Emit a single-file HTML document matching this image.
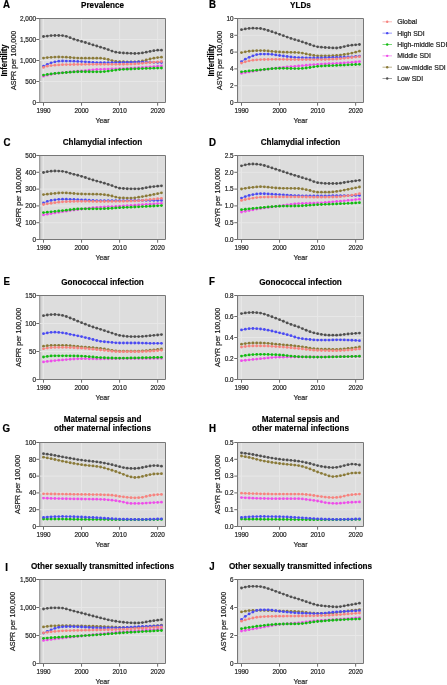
<!DOCTYPE html><html><head><meta charset="utf-8"><style>html,body{margin:0;padding:0;background:#fff;width:447px;height:685px;overflow:hidden}svg{display:block;filter:blur(0.3px)}text{font-family:"Liberation Sans",Arial,sans-serif}</style></head><body>
<svg width="447" height="685" viewBox="0 0 447 685">
<rect x="40" y="19" width="125" height="83" fill="#dddddd"/>
<rect x="39" y="19" width="1" height="83" fill="#9c9c9c"/>
<rect x="40" y="19" width="1" height="83" fill="#c0c0c0"/>
<rect x="41" y="19" width="1" height="83" fill="#d4d4d4"/>
<line x1="40" x2="165" y1="81.5" y2="81.5" stroke="#e7e7e7" stroke-width="1"/>
<line x1="40" x2="165" y1="60.5" y2="60.5" stroke="#e7e7e7" stroke-width="1"/>
<line x1="40" x2="165" y1="39.5" y2="39.5" stroke="#e7e7e7" stroke-width="1"/>
<line x1="43.5" x2="43.5" y1="19" y2="102" stroke="#e7e7e7" stroke-width="1"/>
<line x1="81.55" x2="81.55" y1="19" y2="102" stroke="#e7e7e7" stroke-width="1"/>
<line x1="119.6" x2="119.6" y1="19" y2="102" stroke="#e7e7e7" stroke-width="1"/>
<line x1="157.65" x2="157.65" y1="19" y2="102" stroke="#e7e7e7" stroke-width="1"/>
<path d="M43.5,36.5 L47.3,36.1 L51.11,35.6 L54.91,35.5 L58.72,35.5 L62.53,35.6 L66.33,36.3 L70.14,37.7 L73.94,39.2 L77.75,40.3 L81.55,41.4 L85.36,42.5 L89.16,43.7 L92.97,44.9 L96.77,46 L100.58,47.2 L104.38,48.3 L108.19,49.6 L111.99,51.1 L115.8,52.2 L119.6,52.7 L123.41,53 L127.21,53.2 L131.01,53.3 L134.82,53.5 L138.62,53.3 L142.43,52.9 L146.24,52.2 L150.04,51.4 L153.84,50.7 L157.65,50.2 L161.45,50.2" fill="none" stroke="#4f4f4f" stroke-width="0.6"/>
<g fill="#4f4f4f"><circle cx="43.5" cy="36.5" r="1.4"/><circle cx="47.3" cy="36.1" r="1.4"/><circle cx="51.11" cy="35.6" r="1.4"/><circle cx="54.91" cy="35.5" r="1.4"/><circle cx="58.72" cy="35.5" r="1.4"/><circle cx="62.53" cy="35.6" r="1.4"/><circle cx="66.33" cy="36.3" r="1.4"/><circle cx="70.14" cy="37.7" r="1.4"/><circle cx="73.94" cy="39.2" r="1.4"/><circle cx="77.75" cy="40.3" r="1.4"/><circle cx="81.55" cy="41.4" r="1.4"/><circle cx="85.36" cy="42.5" r="1.4"/><circle cx="89.16" cy="43.7" r="1.4"/><circle cx="92.97" cy="44.9" r="1.4"/><circle cx="96.77" cy="46" r="1.4"/><circle cx="100.58" cy="47.2" r="1.4"/><circle cx="104.38" cy="48.3" r="1.4"/><circle cx="108.19" cy="49.6" r="1.4"/><circle cx="111.99" cy="51.1" r="1.4"/><circle cx="115.8" cy="52.2" r="1.4"/><circle cx="119.6" cy="52.7" r="1.4"/><circle cx="123.41" cy="53" r="1.4"/><circle cx="127.21" cy="53.2" r="1.4"/><circle cx="131.01" cy="53.3" r="1.4"/><circle cx="134.82" cy="53.5" r="1.4"/><circle cx="138.62" cy="53.3" r="1.4"/><circle cx="142.43" cy="52.9" r="1.4"/><circle cx="146.24" cy="52.2" r="1.4"/><circle cx="150.04" cy="51.4" r="1.4"/><circle cx="153.84" cy="50.7" r="1.4"/><circle cx="157.65" cy="50.2" r="1.4"/><circle cx="161.45" cy="50.2" r="1.4"/></g>
<path d="M43.5,58.1 L47.3,57.62 L51.11,57.3 L54.91,57.1 L58.72,57 L62.53,57.06 L66.33,57.2 L70.14,57.48 L73.94,57.8 L77.75,58.06 L81.55,58.2 L85.36,58.2 L89.16,58.2 L92.97,58.2 L96.77,58.2 L100.58,58.2 L104.38,58.7 L108.19,59.5 L111.99,60.6 L115.8,61.3 L119.6,61.6 L123.41,61.74 L127.21,61.8 L131.01,61.8 L134.82,61.8 L138.62,61.7 L142.43,61 L146.24,60 L150.04,59 L153.84,58.2 L157.65,57.6 L161.45,57.2" fill="none" stroke="#8a7a38" stroke-width="0.6"/>
<g fill="#8a7a38"><circle cx="43.5" cy="58.1" r="1.4"/><circle cx="47.3" cy="57.62" r="1.4"/><circle cx="51.11" cy="57.3" r="1.4"/><circle cx="54.91" cy="57.1" r="1.4"/><circle cx="58.72" cy="57" r="1.4"/><circle cx="62.53" cy="57.06" r="1.4"/><circle cx="66.33" cy="57.2" r="1.4"/><circle cx="70.14" cy="57.48" r="1.4"/><circle cx="73.94" cy="57.8" r="1.4"/><circle cx="77.75" cy="58.06" r="1.4"/><circle cx="81.55" cy="58.2" r="1.4"/><circle cx="85.36" cy="58.2" r="1.4"/><circle cx="89.16" cy="58.2" r="1.4"/><circle cx="92.97" cy="58.2" r="1.4"/><circle cx="96.77" cy="58.2" r="1.4"/><circle cx="100.58" cy="58.2" r="1.4"/><circle cx="104.38" cy="58.7" r="1.4"/><circle cx="108.19" cy="59.5" r="1.4"/><circle cx="111.99" cy="60.6" r="1.4"/><circle cx="115.8" cy="61.3" r="1.4"/><circle cx="119.6" cy="61.6" r="1.4"/><circle cx="123.41" cy="61.74" r="1.4"/><circle cx="127.21" cy="61.8" r="1.4"/><circle cx="131.01" cy="61.8" r="1.4"/><circle cx="134.82" cy="61.8" r="1.4"/><circle cx="138.62" cy="61.7" r="1.4"/><circle cx="142.43" cy="61" r="1.4"/><circle cx="146.24" cy="60" r="1.4"/><circle cx="150.04" cy="59" r="1.4"/><circle cx="153.84" cy="58.2" r="1.4"/><circle cx="157.65" cy="57.6" r="1.4"/><circle cx="161.45" cy="57.2" r="1.4"/></g>
<path d="M43.5,76.2 L47.3,75.14 L51.11,74.3 L54.91,73.67 L58.72,73.15 L62.53,72.7 L66.33,72.29 L70.14,71.91 L73.94,71.57 L77.75,71.23 L81.55,70.9 L85.36,70.54 L89.16,70.18 L92.97,69.83 L96.77,69.52 L100.58,69.3 L104.38,69.15 L108.19,69.04 L111.99,68.94 L115.8,68.83 L119.6,68.7 L123.41,68.54 L127.21,68.35 L131.01,68.15 L134.82,67.93 L138.62,67.7 L142.43,67.45 L146.24,67.18 L150.04,66.89 L153.84,66.58 L157.65,66.25 L161.45,65.9" fill="none" stroke="#ee4dea" stroke-width="0.6"/>
<g fill="#ee4dea"><circle cx="43.5" cy="76.2" r="1.4"/><circle cx="47.3" cy="75.14" r="1.4"/><circle cx="51.11" cy="74.3" r="1.4"/><circle cx="54.91" cy="73.67" r="1.4"/><circle cx="58.72" cy="73.15" r="1.4"/><circle cx="62.53" cy="72.7" r="1.4"/><circle cx="66.33" cy="72.29" r="1.4"/><circle cx="70.14" cy="71.91" r="1.4"/><circle cx="73.94" cy="71.57" r="1.4"/><circle cx="77.75" cy="71.23" r="1.4"/><circle cx="81.55" cy="70.9" r="1.4"/><circle cx="85.36" cy="70.54" r="1.4"/><circle cx="89.16" cy="70.18" r="1.4"/><circle cx="92.97" cy="69.83" r="1.4"/><circle cx="96.77" cy="69.52" r="1.4"/><circle cx="100.58" cy="69.3" r="1.4"/><circle cx="104.38" cy="69.15" r="1.4"/><circle cx="108.19" cy="69.04" r="1.4"/><circle cx="111.99" cy="68.94" r="1.4"/><circle cx="115.8" cy="68.83" r="1.4"/><circle cx="119.6" cy="68.7" r="1.4"/><circle cx="123.41" cy="68.54" r="1.4"/><circle cx="127.21" cy="68.35" r="1.4"/><circle cx="131.01" cy="68.15" r="1.4"/><circle cx="134.82" cy="67.93" r="1.4"/><circle cx="138.62" cy="67.7" r="1.4"/><circle cx="142.43" cy="67.45" r="1.4"/><circle cx="146.24" cy="67.18" r="1.4"/><circle cx="150.04" cy="66.89" r="1.4"/><circle cx="153.84" cy="66.58" r="1.4"/><circle cx="157.65" cy="66.25" r="1.4"/><circle cx="161.45" cy="65.9" r="1.4"/></g>
<path d="M43.5,75.1 L47.3,74.44 L51.11,73.9 L54.91,73.47 L58.72,73.11 L62.53,72.8 L66.33,72.51 L70.14,72.21 L73.94,71.95 L77.75,71.77 L81.55,71.7 L85.36,71.73 L89.16,71.77 L92.97,71.8 L96.77,71.8 L100.58,71.8 L104.38,71.59 L108.19,71.11 L111.99,70.6 L115.8,70.06 L119.6,69.6 L123.41,69.35 L127.21,69.15 L131.01,68.98 L134.82,68.84 L138.62,68.7 L142.43,68.56 L146.24,68.43 L150.04,68.3 L153.84,68.19 L157.65,68.09 L161.45,68" fill="none" stroke="#12bb12" stroke-width="0.6"/>
<g fill="#12bb12"><circle cx="43.5" cy="75.1" r="1.4"/><circle cx="47.3" cy="74.44" r="1.4"/><circle cx="51.11" cy="73.9" r="1.4"/><circle cx="54.91" cy="73.47" r="1.4"/><circle cx="58.72" cy="73.11" r="1.4"/><circle cx="62.53" cy="72.8" r="1.4"/><circle cx="66.33" cy="72.51" r="1.4"/><circle cx="70.14" cy="72.21" r="1.4"/><circle cx="73.94" cy="71.95" r="1.4"/><circle cx="77.75" cy="71.77" r="1.4"/><circle cx="81.55" cy="71.7" r="1.4"/><circle cx="85.36" cy="71.73" r="1.4"/><circle cx="89.16" cy="71.77" r="1.4"/><circle cx="92.97" cy="71.8" r="1.4"/><circle cx="96.77" cy="71.8" r="1.4"/><circle cx="100.58" cy="71.8" r="1.4"/><circle cx="104.38" cy="71.59" r="1.4"/><circle cx="108.19" cy="71.11" r="1.4"/><circle cx="111.99" cy="70.6" r="1.4"/><circle cx="115.8" cy="70.06" r="1.4"/><circle cx="119.6" cy="69.6" r="1.4"/><circle cx="123.41" cy="69.35" r="1.4"/><circle cx="127.21" cy="69.15" r="1.4"/><circle cx="131.01" cy="68.98" r="1.4"/><circle cx="134.82" cy="68.84" r="1.4"/><circle cx="138.62" cy="68.7" r="1.4"/><circle cx="142.43" cy="68.56" r="1.4"/><circle cx="146.24" cy="68.43" r="1.4"/><circle cx="150.04" cy="68.3" r="1.4"/><circle cx="153.84" cy="68.19" r="1.4"/><circle cx="157.65" cy="68.09" r="1.4"/><circle cx="161.45" cy="68" r="1.4"/></g>
<path d="M43.5,66.2 L47.3,64.3 L51.11,62.8 L54.91,61.8 L58.72,61.2 L62.53,61 L66.33,61.03 L70.14,61.1 L73.94,61.22 L77.75,61.4 L81.55,61.6 L85.36,61.83 L89.16,62.12 L92.97,62.4 L96.77,62.62 L100.58,62.7 L104.38,62.69 L108.19,62.66 L111.99,62.61 L115.8,62.56 L119.6,62.5 L123.41,62.41 L127.21,62.28 L131.01,62.15 L134.82,62.04 L138.62,62 L142.43,62.03 L146.24,62.11 L150.04,62.2 L153.84,62.29 L157.65,62.39 L161.45,62.5" fill="none" stroke="#4a4af2" stroke-width="0.6"/>
<g fill="#4a4af2"><circle cx="43.5" cy="66.2" r="1.4"/><circle cx="47.3" cy="64.3" r="1.4"/><circle cx="51.11" cy="62.8" r="1.4"/><circle cx="54.91" cy="61.8" r="1.4"/><circle cx="58.72" cy="61.2" r="1.4"/><circle cx="62.53" cy="61" r="1.4"/><circle cx="66.33" cy="61.03" r="1.4"/><circle cx="70.14" cy="61.1" r="1.4"/><circle cx="73.94" cy="61.22" r="1.4"/><circle cx="77.75" cy="61.4" r="1.4"/><circle cx="81.55" cy="61.6" r="1.4"/><circle cx="85.36" cy="61.83" r="1.4"/><circle cx="89.16" cy="62.12" r="1.4"/><circle cx="92.97" cy="62.4" r="1.4"/><circle cx="96.77" cy="62.62" r="1.4"/><circle cx="100.58" cy="62.7" r="1.4"/><circle cx="104.38" cy="62.69" r="1.4"/><circle cx="108.19" cy="62.66" r="1.4"/><circle cx="111.99" cy="62.61" r="1.4"/><circle cx="115.8" cy="62.56" r="1.4"/><circle cx="119.6" cy="62.5" r="1.4"/><circle cx="123.41" cy="62.41" r="1.4"/><circle cx="127.21" cy="62.28" r="1.4"/><circle cx="131.01" cy="62.15" r="1.4"/><circle cx="134.82" cy="62.04" r="1.4"/><circle cx="138.62" cy="62" r="1.4"/><circle cx="142.43" cy="62.03" r="1.4"/><circle cx="146.24" cy="62.11" r="1.4"/><circle cx="150.04" cy="62.2" r="1.4"/><circle cx="153.84" cy="62.29" r="1.4"/><circle cx="157.65" cy="62.39" r="1.4"/><circle cx="161.45" cy="62.5" r="1.4"/></g>
<path d="M43.5,67.4 L47.3,66.2 L51.11,65.6 L54.91,65.2 L58.72,64.9 L62.53,64.7 L66.33,64.61 L70.14,64.53 L73.94,64.48 L77.75,64.43 L81.55,64.4 L85.36,64.37 L89.16,64.34 L92.97,64.32 L96.77,64.31 L100.58,64.3 L104.38,64.3 L108.19,64.3 L111.99,64.3 L115.8,64.3 L119.6,64.3 L123.41,64.27 L127.21,64.2 L131.01,64.1 L134.82,63.94 L138.62,63.7 L142.43,63.35 L146.24,62.91 L150.04,62.5 L153.84,62.15 L157.65,61.81 L161.45,61.5" fill="none" stroke="#f7837f" stroke-width="0.6"/>
<g fill="#f7837f"><circle cx="43.5" cy="67.4" r="1.4"/><circle cx="47.3" cy="66.2" r="1.4"/><circle cx="51.11" cy="65.6" r="1.4"/><circle cx="54.91" cy="65.2" r="1.4"/><circle cx="58.72" cy="64.9" r="1.4"/><circle cx="62.53" cy="64.7" r="1.4"/><circle cx="66.33" cy="64.61" r="1.4"/><circle cx="70.14" cy="64.53" r="1.4"/><circle cx="73.94" cy="64.48" r="1.4"/><circle cx="77.75" cy="64.43" r="1.4"/><circle cx="81.55" cy="64.4" r="1.4"/><circle cx="85.36" cy="64.37" r="1.4"/><circle cx="89.16" cy="64.34" r="1.4"/><circle cx="92.97" cy="64.32" r="1.4"/><circle cx="96.77" cy="64.31" r="1.4"/><circle cx="100.58" cy="64.3" r="1.4"/><circle cx="104.38" cy="64.3" r="1.4"/><circle cx="108.19" cy="64.3" r="1.4"/><circle cx="111.99" cy="64.3" r="1.4"/><circle cx="115.8" cy="64.3" r="1.4"/><circle cx="119.6" cy="64.3" r="1.4"/><circle cx="123.41" cy="64.27" r="1.4"/><circle cx="127.21" cy="64.2" r="1.4"/><circle cx="131.01" cy="64.1" r="1.4"/><circle cx="134.82" cy="63.94" r="1.4"/><circle cx="138.62" cy="63.7" r="1.4"/><circle cx="142.43" cy="63.35" r="1.4"/><circle cx="146.24" cy="62.91" r="1.4"/><circle cx="150.04" cy="62.5" r="1.4"/><circle cx="153.84" cy="62.15" r="1.4"/><circle cx="157.65" cy="61.81" r="1.4"/><circle cx="161.45" cy="61.5" r="1.4"/></g>
<path d="M39.5,102.5 L39.5,18.5" stroke="#9c9c9c" stroke-width="1" fill="none"/>
<path d="M39,18.5 L165.5,18.5 L165.5,102.5 L39,102.5" stroke="#777777" stroke-width="1" fill="none"/>
<line x1="36.3" x2="39" y1="102.5" y2="102.5" stroke="#6a6a6a" stroke-width="1"/>
<text transform="translate(36,104.83) scale(0.6400,0.6500)" font-size="10" stroke="#222" stroke-width="0.3" text-anchor="end" fill="#222">0</text>
<line x1="36.3" x2="39" y1="81.5" y2="81.5" stroke="#6a6a6a" stroke-width="1"/>
<text transform="translate(36,83.83) scale(0.6400,0.6500)" font-size="10" stroke="#222" stroke-width="0.3" text-anchor="end" fill="#222">500</text>
<line x1="36.3" x2="39" y1="60.5" y2="60.5" stroke="#6a6a6a" stroke-width="1"/>
<text transform="translate(36,62.83) scale(0.6400,0.6500)" font-size="10" stroke="#222" stroke-width="0.3" text-anchor="end" fill="#222">1,000</text>
<line x1="36.3" x2="39" y1="39.5" y2="39.5" stroke="#6a6a6a" stroke-width="1"/>
<text transform="translate(36,41.83) scale(0.6400,0.6500)" font-size="10" stroke="#222" stroke-width="0.3" text-anchor="end" fill="#222">1,500</text>
<line x1="36.3" x2="39" y1="18.5" y2="18.5" stroke="#6a6a6a" stroke-width="1"/>
<text transform="translate(36,20.83) scale(0.6400,0.6500)" font-size="10" stroke="#222" stroke-width="0.3" text-anchor="end" fill="#222">2,000</text>
<line x1="43.5" x2="43.5" y1="103" y2="105.7" stroke="#6a6a6a" stroke-width="1"/>
<text transform="translate(43.5,113) scale(0.6400,0.6500)" font-size="10" stroke="#222" stroke-width="0.3" text-anchor="middle" fill="#222">1990</text>
<line x1="81.55" x2="81.55" y1="103" y2="105.7" stroke="#6a6a6a" stroke-width="1"/>
<text transform="translate(81.55,113) scale(0.6400,0.6500)" font-size="10" stroke="#222" stroke-width="0.3" text-anchor="middle" fill="#222">2000</text>
<line x1="119.6" x2="119.6" y1="103" y2="105.7" stroke="#6a6a6a" stroke-width="1"/>
<text transform="translate(119.6,113) scale(0.6400,0.6500)" font-size="10" stroke="#222" stroke-width="0.3" text-anchor="middle" fill="#222">2010</text>
<line x1="157.65" x2="157.65" y1="103" y2="105.7" stroke="#6a6a6a" stroke-width="1"/>
<text transform="translate(157.65,113) scale(0.6400,0.6500)" font-size="10" stroke="#222" stroke-width="0.3" text-anchor="middle" fill="#222">2020</text>
<text transform="translate(102.5,123) scale(0.7000,0.6800)" font-size="10" stroke="#222" stroke-width="0.3" text-anchor="middle" fill="#222">Year</text>
<text transform="translate(102.5,8.1) scale(0.8150,0.8700)" font-size="10" font-weight="bold" stroke="#000" stroke-width="0.2" text-anchor="middle" fill="#000">Prevalence</text>
<text transform="translate(2.9,8) scale(0.9700,1.0400)" font-size="10" font-weight="bold" stroke="#000" stroke-width="0.2" fill="#000">A</text>
<text transform="translate(15.71,60.5) rotate(-90) scale(0.7100,0.7000)" font-size="10" stroke="#222" stroke-width="0.3" text-anchor="middle" fill="#222">ASPR per 100,000</text>
<text transform="translate(7,60.5) rotate(-90) scale(0.7600,0.8400)" font-size="10" font-weight="bold" stroke="#000" stroke-width="0.2" text-anchor="middle" fill="#000">Infertility</text>
<rect x="238" y="19" width="125" height="83" fill="#dddddd"/>
<rect x="238" y="19" width="1" height="83" fill="#d6d6d6"/>
<rect x="239" y="19" width="1" height="83" fill="#dfdfdf"/>
<rect x="240" y="19" width="1" height="83" fill="#dfdfdf"/>
<line x1="238" x2="363" y1="85.7" y2="85.7" stroke="#e7e7e7" stroke-width="1"/>
<line x1="238" x2="363" y1="68.9" y2="68.9" stroke="#e7e7e7" stroke-width="1"/>
<line x1="238" x2="363" y1="52.1" y2="52.1" stroke="#e7e7e7" stroke-width="1"/>
<line x1="238" x2="363" y1="35.3" y2="35.3" stroke="#e7e7e7" stroke-width="1"/>
<line x1="241.5" x2="241.5" y1="19" y2="102" stroke="#e7e7e7" stroke-width="1"/>
<line x1="279.55" x2="279.55" y1="19" y2="102" stroke="#e7e7e7" stroke-width="1"/>
<line x1="317.6" x2="317.6" y1="19" y2="102" stroke="#e7e7e7" stroke-width="1"/>
<line x1="355.65" x2="355.65" y1="19" y2="102" stroke="#e7e7e7" stroke-width="1"/>
<path d="M241.5,29.7 L245.31,28.92 L249.11,28.39 L252.91,28.2 L256.72,28.28 L260.52,28.5 L264.33,29.29 L268.13,30.5 L271.94,31.69 L275.75,32.98 L279.55,34.3 L283.36,35.67 L287.16,37.08 L290.97,38.4 L294.77,39.56 L298.57,40.7 L302.38,41.95 L306.19,43.25 L309.99,44.5 L313.8,45.83 L317.6,46.8 L321.4,47.21 L325.21,47.49 L329.01,47.7 L332.82,47.9 L336.62,48 L340.43,47.52 L344.24,46.53 L348.04,45.7 L351.85,45.2 L355.65,44.79 L359.45,44.5" fill="none" stroke="#4f4f4f" stroke-width="0.6"/>
<g fill="#4f4f4f"><circle cx="241.5" cy="29.7" r="1.4"/><circle cx="245.31" cy="28.92" r="1.4"/><circle cx="249.11" cy="28.39" r="1.4"/><circle cx="252.91" cy="28.2" r="1.4"/><circle cx="256.72" cy="28.28" r="1.4"/><circle cx="260.52" cy="28.5" r="1.4"/><circle cx="264.33" cy="29.29" r="1.4"/><circle cx="268.13" cy="30.5" r="1.4"/><circle cx="271.94" cy="31.69" r="1.4"/><circle cx="275.75" cy="32.98" r="1.4"/><circle cx="279.55" cy="34.3" r="1.4"/><circle cx="283.36" cy="35.67" r="1.4"/><circle cx="287.16" cy="37.08" r="1.4"/><circle cx="290.97" cy="38.4" r="1.4"/><circle cx="294.77" cy="39.56" r="1.4"/><circle cx="298.57" cy="40.7" r="1.4"/><circle cx="302.38" cy="41.95" r="1.4"/><circle cx="306.19" cy="43.25" r="1.4"/><circle cx="309.99" cy="44.5" r="1.4"/><circle cx="313.8" cy="45.83" r="1.4"/><circle cx="317.6" cy="46.8" r="1.4"/><circle cx="321.4" cy="47.21" r="1.4"/><circle cx="325.21" cy="47.49" r="1.4"/><circle cx="329.01" cy="47.7" r="1.4"/><circle cx="332.82" cy="47.9" r="1.4"/><circle cx="336.62" cy="48" r="1.4"/><circle cx="340.43" cy="47.52" r="1.4"/><circle cx="344.24" cy="46.53" r="1.4"/><circle cx="348.04" cy="45.7" r="1.4"/><circle cx="351.85" cy="45.2" r="1.4"/><circle cx="355.65" cy="44.79" r="1.4"/><circle cx="359.45" cy="44.5" r="1.4"/></g>
<path d="M241.5,52.6 L245.31,51.85 L249.11,51.26 L252.91,50.9 L256.72,50.69 L260.52,50.6 L264.33,50.72 L268.13,51.01 L271.94,51.39 L275.75,51.75 L279.55,52 L283.36,52.14 L287.16,52.23 L290.97,52.31 L294.77,52.43 L298.57,52.6 L302.38,53.11 L306.19,53.93 L309.99,54.7 L313.8,55.4 L317.6,55.8 L321.4,55.8 L325.21,55.8 L329.01,55.8 L332.82,55.71 L336.62,55.5 L340.43,55.11 L344.24,54.49 L348.04,53.8 L351.85,53.05 L355.65,52.17 L359.45,51.2" fill="none" stroke="#8a7a38" stroke-width="0.6"/>
<g fill="#8a7a38"><circle cx="241.5" cy="52.6" r="1.4"/><circle cx="245.31" cy="51.85" r="1.4"/><circle cx="249.11" cy="51.26" r="1.4"/><circle cx="252.91" cy="50.9" r="1.4"/><circle cx="256.72" cy="50.69" r="1.4"/><circle cx="260.52" cy="50.6" r="1.4"/><circle cx="264.33" cy="50.72" r="1.4"/><circle cx="268.13" cy="51.01" r="1.4"/><circle cx="271.94" cy="51.39" r="1.4"/><circle cx="275.75" cy="51.75" r="1.4"/><circle cx="279.55" cy="52" r="1.4"/><circle cx="283.36" cy="52.14" r="1.4"/><circle cx="287.16" cy="52.23" r="1.4"/><circle cx="290.97" cy="52.31" r="1.4"/><circle cx="294.77" cy="52.43" r="1.4"/><circle cx="298.57" cy="52.6" r="1.4"/><circle cx="302.38" cy="53.11" r="1.4"/><circle cx="306.19" cy="53.93" r="1.4"/><circle cx="309.99" cy="54.7" r="1.4"/><circle cx="313.8" cy="55.4" r="1.4"/><circle cx="317.6" cy="55.8" r="1.4"/><circle cx="321.4" cy="55.8" r="1.4"/><circle cx="325.21" cy="55.8" r="1.4"/><circle cx="329.01" cy="55.8" r="1.4"/><circle cx="332.82" cy="55.71" r="1.4"/><circle cx="336.62" cy="55.5" r="1.4"/><circle cx="340.43" cy="55.11" r="1.4"/><circle cx="344.24" cy="54.49" r="1.4"/><circle cx="348.04" cy="53.8" r="1.4"/><circle cx="351.85" cy="53.05" r="1.4"/><circle cx="355.65" cy="52.17" r="1.4"/><circle cx="359.45" cy="51.2" r="1.4"/></g>
<path d="M241.5,73.3 L245.31,72.59 L249.11,71.92 L252.91,71.28 L256.72,70.67 L260.52,70.1 L264.33,69.56 L268.13,69.05 L271.94,68.57 L275.75,68.12 L279.55,67.7 L283.36,67.32 L287.16,66.98 L290.97,66.65 L294.77,66.33 L298.57,66 L302.38,65.64 L306.19,65.27 L309.99,64.9 L313.8,64.57 L317.6,64.3 L321.4,64.09 L325.21,63.92 L329.01,63.76 L332.82,63.6 L336.62,63.4 L340.43,63.16 L344.24,62.9 L348.04,62.61 L351.85,62.29 L355.65,61.96 L359.45,61.6" fill="none" stroke="#ee4dea" stroke-width="0.6"/>
<g fill="#ee4dea"><circle cx="241.5" cy="73.3" r="1.4"/><circle cx="245.31" cy="72.59" r="1.4"/><circle cx="249.11" cy="71.92" r="1.4"/><circle cx="252.91" cy="71.28" r="1.4"/><circle cx="256.72" cy="70.67" r="1.4"/><circle cx="260.52" cy="70.1" r="1.4"/><circle cx="264.33" cy="69.56" r="1.4"/><circle cx="268.13" cy="69.05" r="1.4"/><circle cx="271.94" cy="68.57" r="1.4"/><circle cx="275.75" cy="68.12" r="1.4"/><circle cx="279.55" cy="67.7" r="1.4"/><circle cx="283.36" cy="67.32" r="1.4"/><circle cx="287.16" cy="66.98" r="1.4"/><circle cx="290.97" cy="66.65" r="1.4"/><circle cx="294.77" cy="66.33" r="1.4"/><circle cx="298.57" cy="66" r="1.4"/><circle cx="302.38" cy="65.64" r="1.4"/><circle cx="306.19" cy="65.27" r="1.4"/><circle cx="309.99" cy="64.9" r="1.4"/><circle cx="313.8" cy="64.57" r="1.4"/><circle cx="317.6" cy="64.3" r="1.4"/><circle cx="321.4" cy="64.09" r="1.4"/><circle cx="325.21" cy="63.92" r="1.4"/><circle cx="329.01" cy="63.76" r="1.4"/><circle cx="332.82" cy="63.6" r="1.4"/><circle cx="336.62" cy="63.4" r="1.4"/><circle cx="340.43" cy="63.16" r="1.4"/><circle cx="344.24" cy="62.9" r="1.4"/><circle cx="348.04" cy="62.61" r="1.4"/><circle cx="351.85" cy="62.29" r="1.4"/><circle cx="355.65" cy="61.96" r="1.4"/><circle cx="359.45" cy="61.6" r="1.4"/></g>
<path d="M241.5,71.8 L245.31,71.36 L249.11,70.94 L252.91,70.53 L256.72,70.16 L260.52,69.8 L264.33,69.42 L268.13,69.03 L271.94,68.66 L275.75,68.4 L279.55,68.3 L283.36,68.33 L287.16,68.41 L290.97,68.49 L294.77,68.57 L298.57,68.6 L302.38,68.42 L306.19,67.99 L309.99,67.5 L313.8,66.86 L317.6,66.3 L321.4,66.04 L325.21,65.85 L329.01,65.7 L332.82,65.56 L336.62,65.4 L340.43,65.22 L344.24,65.04 L348.04,64.85 L351.85,64.67 L355.65,64.48 L359.45,64.3" fill="none" stroke="#12bb12" stroke-width="0.6"/>
<g fill="#12bb12"><circle cx="241.5" cy="71.8" r="1.4"/><circle cx="245.31" cy="71.36" r="1.4"/><circle cx="249.11" cy="70.94" r="1.4"/><circle cx="252.91" cy="70.53" r="1.4"/><circle cx="256.72" cy="70.16" r="1.4"/><circle cx="260.52" cy="69.8" r="1.4"/><circle cx="264.33" cy="69.42" r="1.4"/><circle cx="268.13" cy="69.03" r="1.4"/><circle cx="271.94" cy="68.66" r="1.4"/><circle cx="275.75" cy="68.4" r="1.4"/><circle cx="279.55" cy="68.3" r="1.4"/><circle cx="283.36" cy="68.33" r="1.4"/><circle cx="287.16" cy="68.41" r="1.4"/><circle cx="290.97" cy="68.49" r="1.4"/><circle cx="294.77" cy="68.57" r="1.4"/><circle cx="298.57" cy="68.6" r="1.4"/><circle cx="302.38" cy="68.42" r="1.4"/><circle cx="306.19" cy="67.99" r="1.4"/><circle cx="309.99" cy="67.5" r="1.4"/><circle cx="313.8" cy="66.86" r="1.4"/><circle cx="317.6" cy="66.3" r="1.4"/><circle cx="321.4" cy="66.04" r="1.4"/><circle cx="325.21" cy="65.85" r="1.4"/><circle cx="329.01" cy="65.7" r="1.4"/><circle cx="332.82" cy="65.56" r="1.4"/><circle cx="336.62" cy="65.4" r="1.4"/><circle cx="340.43" cy="65.22" r="1.4"/><circle cx="344.24" cy="65.04" r="1.4"/><circle cx="348.04" cy="64.85" r="1.4"/><circle cx="351.85" cy="64.67" r="1.4"/><circle cx="355.65" cy="64.48" r="1.4"/><circle cx="359.45" cy="64.3" r="1.4"/></g>
<path d="M241.5,61.6 L245.31,59.17 L249.11,57.3 L252.91,55.82 L256.72,54.61 L260.52,54.1 L264.33,54.1 L268.13,54.1 L271.94,54.36 L275.75,54.94 L279.55,55.5 L283.36,55.99 L287.16,56.51 L290.97,57 L294.77,57.39 L298.57,57.6 L302.38,57.7 L306.19,57.78 L309.99,57.84 L313.8,57.89 L317.6,57.9 L321.4,57.85 L325.21,57.74 L329.01,57.59 L332.82,57.43 L336.62,57.3 L340.43,57.21 L344.24,57.12 L348.04,57 L351.85,56.79 L355.65,56.48 L359.45,56.1" fill="none" stroke="#4a4af2" stroke-width="0.6"/>
<g fill="#4a4af2"><circle cx="241.5" cy="61.6" r="1.4"/><circle cx="245.31" cy="59.17" r="1.4"/><circle cx="249.11" cy="57.3" r="1.4"/><circle cx="252.91" cy="55.82" r="1.4"/><circle cx="256.72" cy="54.61" r="1.4"/><circle cx="260.52" cy="54.1" r="1.4"/><circle cx="264.33" cy="54.1" r="1.4"/><circle cx="268.13" cy="54.1" r="1.4"/><circle cx="271.94" cy="54.36" r="1.4"/><circle cx="275.75" cy="54.94" r="1.4"/><circle cx="279.55" cy="55.5" r="1.4"/><circle cx="283.36" cy="55.99" r="1.4"/><circle cx="287.16" cy="56.51" r="1.4"/><circle cx="290.97" cy="57" r="1.4"/><circle cx="294.77" cy="57.39" r="1.4"/><circle cx="298.57" cy="57.6" r="1.4"/><circle cx="302.38" cy="57.7" r="1.4"/><circle cx="306.19" cy="57.78" r="1.4"/><circle cx="309.99" cy="57.84" r="1.4"/><circle cx="313.8" cy="57.89" r="1.4"/><circle cx="317.6" cy="57.9" r="1.4"/><circle cx="321.4" cy="57.85" r="1.4"/><circle cx="325.21" cy="57.74" r="1.4"/><circle cx="329.01" cy="57.59" r="1.4"/><circle cx="332.82" cy="57.43" r="1.4"/><circle cx="336.62" cy="57.3" r="1.4"/><circle cx="340.43" cy="57.21" r="1.4"/><circle cx="344.24" cy="57.12" r="1.4"/><circle cx="348.04" cy="57" r="1.4"/><circle cx="351.85" cy="56.79" r="1.4"/><circle cx="355.65" cy="56.48" r="1.4"/><circle cx="359.45" cy="56.1" r="1.4"/></g>
<path d="M241.5,63.1 L245.31,61.84 L249.11,60.84 L252.91,60.2 L256.72,59.82 L260.52,59.6 L264.33,59.5 L268.13,59.41 L271.94,59.35 L275.75,59.31 L279.55,59.3 L283.36,59.33 L287.16,59.41 L290.97,59.49 L294.77,59.57 L298.57,59.6 L302.38,59.6 L306.19,59.6 L309.99,59.6 L313.8,59.6 L317.6,59.6 L321.4,59.57 L325.21,59.48 L329.01,59.35 L332.82,59.18 L336.62,59 L340.43,58.72 L344.24,58.31 L348.04,57.9 L351.85,57.51 L355.65,57.11 L359.45,56.7" fill="none" stroke="#f7837f" stroke-width="0.6"/>
<g fill="#f7837f"><circle cx="241.5" cy="63.1" r="1.4"/><circle cx="245.31" cy="61.84" r="1.4"/><circle cx="249.11" cy="60.84" r="1.4"/><circle cx="252.91" cy="60.2" r="1.4"/><circle cx="256.72" cy="59.82" r="1.4"/><circle cx="260.52" cy="59.6" r="1.4"/><circle cx="264.33" cy="59.5" r="1.4"/><circle cx="268.13" cy="59.41" r="1.4"/><circle cx="271.94" cy="59.35" r="1.4"/><circle cx="275.75" cy="59.31" r="1.4"/><circle cx="279.55" cy="59.3" r="1.4"/><circle cx="283.36" cy="59.33" r="1.4"/><circle cx="287.16" cy="59.41" r="1.4"/><circle cx="290.97" cy="59.49" r="1.4"/><circle cx="294.77" cy="59.57" r="1.4"/><circle cx="298.57" cy="59.6" r="1.4"/><circle cx="302.38" cy="59.6" r="1.4"/><circle cx="306.19" cy="59.6" r="1.4"/><circle cx="309.99" cy="59.6" r="1.4"/><circle cx="313.8" cy="59.6" r="1.4"/><circle cx="317.6" cy="59.6" r="1.4"/><circle cx="321.4" cy="59.57" r="1.4"/><circle cx="325.21" cy="59.48" r="1.4"/><circle cx="329.01" cy="59.35" r="1.4"/><circle cx="332.82" cy="59.18" r="1.4"/><circle cx="336.62" cy="59" r="1.4"/><circle cx="340.43" cy="58.72" r="1.4"/><circle cx="344.24" cy="58.31" r="1.4"/><circle cx="348.04" cy="57.9" r="1.4"/><circle cx="351.85" cy="57.51" r="1.4"/><circle cx="355.65" cy="57.11" r="1.4"/><circle cx="359.45" cy="56.7" r="1.4"/></g>
<path d="M237.5,102.5 L237.5,18.5" stroke="#777777" stroke-width="1" fill="none"/>
<path d="M237,18.5 L363.5,18.5 L363.5,102.5 L237,102.5" stroke="#777777" stroke-width="1" fill="none"/>
<line x1="234.3" x2="237" y1="102.5" y2="102.5" stroke="#6a6a6a" stroke-width="1"/>
<text transform="translate(233.6,104.83) scale(0.6400,0.6500)" font-size="10" stroke="#222" stroke-width="0.3" text-anchor="end" fill="#222">0</text>
<line x1="234.3" x2="237" y1="85.7" y2="85.7" stroke="#6a6a6a" stroke-width="1"/>
<text transform="translate(233.6,88.03) scale(0.6400,0.6500)" font-size="10" stroke="#222" stroke-width="0.3" text-anchor="end" fill="#222">2</text>
<line x1="234.3" x2="237" y1="68.9" y2="68.9" stroke="#6a6a6a" stroke-width="1"/>
<text transform="translate(233.6,71.23) scale(0.6400,0.6500)" font-size="10" stroke="#222" stroke-width="0.3" text-anchor="end" fill="#222">4</text>
<line x1="234.3" x2="237" y1="52.1" y2="52.1" stroke="#6a6a6a" stroke-width="1"/>
<text transform="translate(233.6,54.43) scale(0.6400,0.6500)" font-size="10" stroke="#222" stroke-width="0.3" text-anchor="end" fill="#222">6</text>
<line x1="234.3" x2="237" y1="35.3" y2="35.3" stroke="#6a6a6a" stroke-width="1"/>
<text transform="translate(233.6,37.63) scale(0.6400,0.6500)" font-size="10" stroke="#222" stroke-width="0.3" text-anchor="end" fill="#222">8</text>
<line x1="234.3" x2="237" y1="18.5" y2="18.5" stroke="#6a6a6a" stroke-width="1"/>
<text transform="translate(233.6,20.83) scale(0.6400,0.6500)" font-size="10" stroke="#222" stroke-width="0.3" text-anchor="end" fill="#222">10</text>
<line x1="241.5" x2="241.5" y1="103" y2="105.7" stroke="#6a6a6a" stroke-width="1"/>
<text transform="translate(241.5,113) scale(0.6400,0.6500)" font-size="10" stroke="#222" stroke-width="0.3" text-anchor="middle" fill="#222">1990</text>
<line x1="279.55" x2="279.55" y1="103" y2="105.7" stroke="#6a6a6a" stroke-width="1"/>
<text transform="translate(279.55,113) scale(0.6400,0.6500)" font-size="10" stroke="#222" stroke-width="0.3" text-anchor="middle" fill="#222">2000</text>
<line x1="317.6" x2="317.6" y1="103" y2="105.7" stroke="#6a6a6a" stroke-width="1"/>
<text transform="translate(317.6,113) scale(0.6400,0.6500)" font-size="10" stroke="#222" stroke-width="0.3" text-anchor="middle" fill="#222">2010</text>
<line x1="355.65" x2="355.65" y1="103" y2="105.7" stroke="#6a6a6a" stroke-width="1"/>
<text transform="translate(355.65,113) scale(0.6400,0.6500)" font-size="10" stroke="#222" stroke-width="0.3" text-anchor="middle" fill="#222">2020</text>
<text transform="translate(300.5,123) scale(0.7000,0.6800)" font-size="10" stroke="#222" stroke-width="0.3" text-anchor="middle" fill="#222">Year</text>
<text transform="translate(300.5,8.1) scale(0.8150,0.8700)" font-size="10" font-weight="bold" stroke="#000" stroke-width="0.2" text-anchor="middle" fill="#000">YLDs</text>
<text transform="translate(209,7.9) scale(0.9700,1.0400)" font-size="10" font-weight="bold" stroke="#000" stroke-width="0.2" fill="#000">B</text>
<text transform="translate(222.01,60.5) rotate(-90) scale(0.7100,0.7000)" font-size="10" stroke="#222" stroke-width="0.3" text-anchor="middle" fill="#222">ASYR per 100,000</text>
<text transform="translate(213.8,60.5) rotate(-90) scale(0.7600,0.8400)" font-size="10" font-weight="bold" stroke="#000" stroke-width="0.2" text-anchor="middle" fill="#000">Infertility</text>
<rect x="40" y="156" width="125" height="83" fill="#dddddd"/>
<rect x="39" y="156" width="1" height="83" fill="#9c9c9c"/>
<rect x="40" y="156" width="1" height="83" fill="#c0c0c0"/>
<rect x="41" y="156" width="1" height="83" fill="#d4d4d4"/>
<line x1="40" x2="165" y1="222.7" y2="222.7" stroke="#e7e7e7" stroke-width="1"/>
<line x1="40" x2="165" y1="205.9" y2="205.9" stroke="#e7e7e7" stroke-width="1"/>
<line x1="40" x2="165" y1="189.1" y2="189.1" stroke="#e7e7e7" stroke-width="1"/>
<line x1="40" x2="165" y1="172.3" y2="172.3" stroke="#e7e7e7" stroke-width="1"/>
<line x1="43.5" x2="43.5" y1="156" y2="239" stroke="#e7e7e7" stroke-width="1"/>
<line x1="81.55" x2="81.55" y1="156" y2="239" stroke="#e7e7e7" stroke-width="1"/>
<line x1="119.6" x2="119.6" y1="156" y2="239" stroke="#e7e7e7" stroke-width="1"/>
<line x1="157.65" x2="157.65" y1="156" y2="239" stroke="#e7e7e7" stroke-width="1"/>
<path d="M43.5,172.5 L47.3,171.72 L51.11,171.19 L54.91,171 L58.72,171.08 L62.53,171.3 L66.33,172.12 L70.14,173.3 L73.94,174.28 L77.75,175.25 L81.55,176.3 L85.36,177.5 L89.16,178.78 L92.97,180 L96.77,181.06 L100.58,182.1 L104.38,183.22 L108.19,184.39 L111.99,185.6 L115.8,187.12 L119.6,188.2 L123.41,188.52 L127.21,188.73 L131.01,188.8 L134.82,188.8 L138.62,188.8 L142.43,188.44 L146.24,187.68 L150.04,187 L153.84,186.54 L157.65,186.14 L161.45,185.8" fill="none" stroke="#4f4f4f" stroke-width="0.6"/>
<g fill="#4f4f4f"><circle cx="43.5" cy="172.5" r="1.4"/><circle cx="47.3" cy="171.72" r="1.4"/><circle cx="51.11" cy="171.19" r="1.4"/><circle cx="54.91" cy="171" r="1.4"/><circle cx="58.72" cy="171.08" r="1.4"/><circle cx="62.53" cy="171.3" r="1.4"/><circle cx="66.33" cy="172.12" r="1.4"/><circle cx="70.14" cy="173.3" r="1.4"/><circle cx="73.94" cy="174.28" r="1.4"/><circle cx="77.75" cy="175.25" r="1.4"/><circle cx="81.55" cy="176.3" r="1.4"/><circle cx="85.36" cy="177.5" r="1.4"/><circle cx="89.16" cy="178.78" r="1.4"/><circle cx="92.97" cy="180" r="1.4"/><circle cx="96.77" cy="181.06" r="1.4"/><circle cx="100.58" cy="182.1" r="1.4"/><circle cx="104.38" cy="183.22" r="1.4"/><circle cx="108.19" cy="184.39" r="1.4"/><circle cx="111.99" cy="185.6" r="1.4"/><circle cx="115.8" cy="187.12" r="1.4"/><circle cx="119.6" cy="188.2" r="1.4"/><circle cx="123.41" cy="188.52" r="1.4"/><circle cx="127.21" cy="188.73" r="1.4"/><circle cx="131.01" cy="188.8" r="1.4"/><circle cx="134.82" cy="188.8" r="1.4"/><circle cx="138.62" cy="188.8" r="1.4"/><circle cx="142.43" cy="188.44" r="1.4"/><circle cx="146.24" cy="187.68" r="1.4"/><circle cx="150.04" cy="187" r="1.4"/><circle cx="153.84" cy="186.54" r="1.4"/><circle cx="157.65" cy="186.14" r="1.4"/><circle cx="161.45" cy="185.8" r="1.4"/></g>
<path d="M43.5,194.6 L47.3,194.16 L51.11,193.76 L54.91,193.4 L58.72,193.02 L62.53,192.8 L66.33,192.91 L70.14,193.18 L73.94,193.51 L77.75,193.81 L81.55,194 L85.36,194.07 L89.16,194.12 L92.97,194.16 L96.77,194.21 L100.58,194.3 L104.38,194.64 L108.19,195.27 L111.99,196 L115.8,197.03 L119.6,197.8 L123.41,197.96 L127.21,198.06 L131.01,198.1 L134.82,197.78 L138.62,197.2 L142.43,196.61 L146.24,195.92 L150.04,195.2 L153.84,194.45 L157.65,193.65 L161.45,192.8" fill="none" stroke="#8a7a38" stroke-width="0.6"/>
<g fill="#8a7a38"><circle cx="43.5" cy="194.6" r="1.4"/><circle cx="47.3" cy="194.16" r="1.4"/><circle cx="51.11" cy="193.76" r="1.4"/><circle cx="54.91" cy="193.4" r="1.4"/><circle cx="58.72" cy="193.02" r="1.4"/><circle cx="62.53" cy="192.8" r="1.4"/><circle cx="66.33" cy="192.91" r="1.4"/><circle cx="70.14" cy="193.18" r="1.4"/><circle cx="73.94" cy="193.51" r="1.4"/><circle cx="77.75" cy="193.81" r="1.4"/><circle cx="81.55" cy="194" r="1.4"/><circle cx="85.36" cy="194.07" r="1.4"/><circle cx="89.16" cy="194.12" r="1.4"/><circle cx="92.97" cy="194.16" r="1.4"/><circle cx="96.77" cy="194.21" r="1.4"/><circle cx="100.58" cy="194.3" r="1.4"/><circle cx="104.38" cy="194.64" r="1.4"/><circle cx="108.19" cy="195.27" r="1.4"/><circle cx="111.99" cy="196" r="1.4"/><circle cx="115.8" cy="197.03" r="1.4"/><circle cx="119.6" cy="197.8" r="1.4"/><circle cx="123.41" cy="197.96" r="1.4"/><circle cx="127.21" cy="198.06" r="1.4"/><circle cx="131.01" cy="198.1" r="1.4"/><circle cx="134.82" cy="197.78" r="1.4"/><circle cx="138.62" cy="197.2" r="1.4"/><circle cx="142.43" cy="196.61" r="1.4"/><circle cx="146.24" cy="195.92" r="1.4"/><circle cx="150.04" cy="195.2" r="1.4"/><circle cx="153.84" cy="194.45" r="1.4"/><circle cx="157.65" cy="193.65" r="1.4"/><circle cx="161.45" cy="192.8" r="1.4"/></g>
<path d="M43.5,214.9 L47.3,214.21 L51.11,213.55 L54.91,212.9 L58.72,212.29 L62.53,211.7 L66.33,211.13 L70.14,210.59 L73.94,210.07 L77.75,209.57 L81.55,209.1 L85.36,208.64 L89.16,208.19 L92.97,207.77 L96.77,207.39 L100.58,207.1 L104.38,206.88 L108.19,206.7 L111.99,206.55 L115.8,206.39 L119.6,206.2 L123.41,205.99 L127.21,205.75 L131.01,205.51 L134.82,205.26 L138.62,205 L142.43,204.74 L146.24,204.47 L150.04,204.19 L153.84,203.9 L157.65,203.6 L161.45,203.3" fill="none" stroke="#ee4dea" stroke-width="0.6"/>
<g fill="#ee4dea"><circle cx="43.5" cy="214.9" r="1.4"/><circle cx="47.3" cy="214.21" r="1.4"/><circle cx="51.11" cy="213.55" r="1.4"/><circle cx="54.91" cy="212.9" r="1.4"/><circle cx="58.72" cy="212.29" r="1.4"/><circle cx="62.53" cy="211.7" r="1.4"/><circle cx="66.33" cy="211.13" r="1.4"/><circle cx="70.14" cy="210.59" r="1.4"/><circle cx="73.94" cy="210.07" r="1.4"/><circle cx="77.75" cy="209.57" r="1.4"/><circle cx="81.55" cy="209.1" r="1.4"/><circle cx="85.36" cy="208.64" r="1.4"/><circle cx="89.16" cy="208.19" r="1.4"/><circle cx="92.97" cy="207.77" r="1.4"/><circle cx="96.77" cy="207.39" r="1.4"/><circle cx="100.58" cy="207.1" r="1.4"/><circle cx="104.38" cy="206.88" r="1.4"/><circle cx="108.19" cy="206.7" r="1.4"/><circle cx="111.99" cy="206.55" r="1.4"/><circle cx="115.8" cy="206.39" r="1.4"/><circle cx="119.6" cy="206.2" r="1.4"/><circle cx="123.41" cy="205.99" r="1.4"/><circle cx="127.21" cy="205.75" r="1.4"/><circle cx="131.01" cy="205.51" r="1.4"/><circle cx="134.82" cy="205.26" r="1.4"/><circle cx="138.62" cy="205" r="1.4"/><circle cx="142.43" cy="204.74" r="1.4"/><circle cx="146.24" cy="204.47" r="1.4"/><circle cx="150.04" cy="204.19" r="1.4"/><circle cx="153.84" cy="203.9" r="1.4"/><circle cx="157.65" cy="203.6" r="1.4"/><circle cx="161.45" cy="203.3" r="1.4"/></g>
<path d="M43.5,212.6 L47.3,212.18 L51.11,211.78 L54.91,211.38 L58.72,210.98 L62.53,210.6 L66.33,210.17 L70.14,209.69 L73.94,209.25 L77.75,208.93 L81.55,208.8 L85.36,208.8 L89.16,208.8 L92.97,208.8 L96.77,208.8 L100.58,208.8 L104.38,208.72 L108.19,208.51 L111.99,208.23 L115.8,207.94 L119.6,207.7 L123.41,207.51 L127.21,207.33 L131.01,207.16 L134.82,206.98 L138.62,206.8 L142.43,206.61 L146.24,206.41 L150.04,206.22 L153.84,206.01 L157.65,205.81 L161.45,205.6" fill="none" stroke="#12bb12" stroke-width="0.6"/>
<g fill="#12bb12"><circle cx="43.5" cy="212.6" r="1.4"/><circle cx="47.3" cy="212.18" r="1.4"/><circle cx="51.11" cy="211.78" r="1.4"/><circle cx="54.91" cy="211.38" r="1.4"/><circle cx="58.72" cy="210.98" r="1.4"/><circle cx="62.53" cy="210.6" r="1.4"/><circle cx="66.33" cy="210.17" r="1.4"/><circle cx="70.14" cy="209.69" r="1.4"/><circle cx="73.94" cy="209.25" r="1.4"/><circle cx="77.75" cy="208.93" r="1.4"/><circle cx="81.55" cy="208.8" r="1.4"/><circle cx="85.36" cy="208.8" r="1.4"/><circle cx="89.16" cy="208.8" r="1.4"/><circle cx="92.97" cy="208.8" r="1.4"/><circle cx="96.77" cy="208.8" r="1.4"/><circle cx="100.58" cy="208.8" r="1.4"/><circle cx="104.38" cy="208.72" r="1.4"/><circle cx="108.19" cy="208.51" r="1.4"/><circle cx="111.99" cy="208.23" r="1.4"/><circle cx="115.8" cy="207.94" r="1.4"/><circle cx="119.6" cy="207.7" r="1.4"/><circle cx="123.41" cy="207.51" r="1.4"/><circle cx="127.21" cy="207.33" r="1.4"/><circle cx="131.01" cy="207.16" r="1.4"/><circle cx="134.82" cy="206.98" r="1.4"/><circle cx="138.62" cy="206.8" r="1.4"/><circle cx="142.43" cy="206.61" r="1.4"/><circle cx="146.24" cy="206.41" r="1.4"/><circle cx="150.04" cy="206.22" r="1.4"/><circle cx="153.84" cy="206.01" r="1.4"/><circle cx="157.65" cy="205.81" r="1.4"/><circle cx="161.45" cy="205.6" r="1.4"/></g>
<path d="M43.5,203 L47.3,201.44 L51.11,200.4 L54.91,199.81 L58.72,199.37 L62.53,199.2 L66.33,199.24 L70.14,199.34 L73.94,199.49 L77.75,199.65 L81.55,199.8 L85.36,199.99 L89.16,200.22 L92.97,200.45 L96.77,200.63 L100.58,200.7 L104.38,200.7 L108.19,200.7 L111.99,200.7 L115.8,200.7 L119.6,200.7 L123.41,200.67 L127.21,200.59 L131.01,200.51 L134.82,200.43 L138.62,200.4 L142.43,200.4 L146.24,200.4 L150.04,200.4 L153.84,200.4 L157.65,200.4 L161.45,200.4" fill="none" stroke="#4a4af2" stroke-width="0.6"/>
<g fill="#4a4af2"><circle cx="43.5" cy="203" r="1.4"/><circle cx="47.3" cy="201.44" r="1.4"/><circle cx="51.11" cy="200.4" r="1.4"/><circle cx="54.91" cy="199.81" r="1.4"/><circle cx="58.72" cy="199.37" r="1.4"/><circle cx="62.53" cy="199.2" r="1.4"/><circle cx="66.33" cy="199.24" r="1.4"/><circle cx="70.14" cy="199.34" r="1.4"/><circle cx="73.94" cy="199.49" r="1.4"/><circle cx="77.75" cy="199.65" r="1.4"/><circle cx="81.55" cy="199.8" r="1.4"/><circle cx="85.36" cy="199.99" r="1.4"/><circle cx="89.16" cy="200.22" r="1.4"/><circle cx="92.97" cy="200.45" r="1.4"/><circle cx="96.77" cy="200.63" r="1.4"/><circle cx="100.58" cy="200.7" r="1.4"/><circle cx="104.38" cy="200.7" r="1.4"/><circle cx="108.19" cy="200.7" r="1.4"/><circle cx="111.99" cy="200.7" r="1.4"/><circle cx="115.8" cy="200.7" r="1.4"/><circle cx="119.6" cy="200.7" r="1.4"/><circle cx="123.41" cy="200.67" r="1.4"/><circle cx="127.21" cy="200.59" r="1.4"/><circle cx="131.01" cy="200.51" r="1.4"/><circle cx="134.82" cy="200.43" r="1.4"/><circle cx="138.62" cy="200.4" r="1.4"/><circle cx="142.43" cy="200.4" r="1.4"/><circle cx="146.24" cy="200.4" r="1.4"/><circle cx="150.04" cy="200.4" r="1.4"/><circle cx="153.84" cy="200.4" r="1.4"/><circle cx="157.65" cy="200.4" r="1.4"/><circle cx="161.45" cy="200.4" r="1.4"/></g>
<path d="M43.5,204.5 L47.3,203.84 L51.11,203.24 L54.91,202.7 L58.72,202.17 L62.53,201.8 L66.33,201.63 L70.14,201.49 L73.94,201.39 L77.75,201.32 L81.55,201.3 L85.36,201.32 L89.16,201.37 L92.97,201.43 L96.77,201.48 L100.58,201.5 L104.38,201.49 L108.19,201.46 L111.99,201.41 L115.8,201.36 L119.6,201.3 L123.41,201.23 L127.21,201.14 L131.01,201.02 L134.82,200.88 L138.62,200.7 L142.43,200.39 L146.24,199.95 L150.04,199.5 L153.84,199.1 L157.65,198.7 L161.45,198.3" fill="none" stroke="#f7837f" stroke-width="0.6"/>
<g fill="#f7837f"><circle cx="43.5" cy="204.5" r="1.4"/><circle cx="47.3" cy="203.84" r="1.4"/><circle cx="51.11" cy="203.24" r="1.4"/><circle cx="54.91" cy="202.7" r="1.4"/><circle cx="58.72" cy="202.17" r="1.4"/><circle cx="62.53" cy="201.8" r="1.4"/><circle cx="66.33" cy="201.63" r="1.4"/><circle cx="70.14" cy="201.49" r="1.4"/><circle cx="73.94" cy="201.39" r="1.4"/><circle cx="77.75" cy="201.32" r="1.4"/><circle cx="81.55" cy="201.3" r="1.4"/><circle cx="85.36" cy="201.32" r="1.4"/><circle cx="89.16" cy="201.37" r="1.4"/><circle cx="92.97" cy="201.43" r="1.4"/><circle cx="96.77" cy="201.48" r="1.4"/><circle cx="100.58" cy="201.5" r="1.4"/><circle cx="104.38" cy="201.49" r="1.4"/><circle cx="108.19" cy="201.46" r="1.4"/><circle cx="111.99" cy="201.41" r="1.4"/><circle cx="115.8" cy="201.36" r="1.4"/><circle cx="119.6" cy="201.3" r="1.4"/><circle cx="123.41" cy="201.23" r="1.4"/><circle cx="127.21" cy="201.14" r="1.4"/><circle cx="131.01" cy="201.02" r="1.4"/><circle cx="134.82" cy="200.88" r="1.4"/><circle cx="138.62" cy="200.7" r="1.4"/><circle cx="142.43" cy="200.39" r="1.4"/><circle cx="146.24" cy="199.95" r="1.4"/><circle cx="150.04" cy="199.5" r="1.4"/><circle cx="153.84" cy="199.1" r="1.4"/><circle cx="157.65" cy="198.7" r="1.4"/><circle cx="161.45" cy="198.3" r="1.4"/></g>
<path d="M39.5,239.5 L39.5,155.5" stroke="#9c9c9c" stroke-width="1" fill="none"/>
<path d="M39,155.5 L165.5,155.5 L165.5,239.5 L39,239.5" stroke="#777777" stroke-width="1" fill="none"/>
<line x1="36.3" x2="39" y1="239.5" y2="239.5" stroke="#6a6a6a" stroke-width="1"/>
<text transform="translate(36,241.83) scale(0.6400,0.6500)" font-size="10" stroke="#222" stroke-width="0.3" text-anchor="end" fill="#222">0</text>
<line x1="36.3" x2="39" y1="222.7" y2="222.7" stroke="#6a6a6a" stroke-width="1"/>
<text transform="translate(36,225.03) scale(0.6400,0.6500)" font-size="10" stroke="#222" stroke-width="0.3" text-anchor="end" fill="#222">100</text>
<line x1="36.3" x2="39" y1="205.9" y2="205.9" stroke="#6a6a6a" stroke-width="1"/>
<text transform="translate(36,208.23) scale(0.6400,0.6500)" font-size="10" stroke="#222" stroke-width="0.3" text-anchor="end" fill="#222">200</text>
<line x1="36.3" x2="39" y1="189.1" y2="189.1" stroke="#6a6a6a" stroke-width="1"/>
<text transform="translate(36,191.43) scale(0.6400,0.6500)" font-size="10" stroke="#222" stroke-width="0.3" text-anchor="end" fill="#222">300</text>
<line x1="36.3" x2="39" y1="172.3" y2="172.3" stroke="#6a6a6a" stroke-width="1"/>
<text transform="translate(36,174.63) scale(0.6400,0.6500)" font-size="10" stroke="#222" stroke-width="0.3" text-anchor="end" fill="#222">400</text>
<line x1="36.3" x2="39" y1="155.5" y2="155.5" stroke="#6a6a6a" stroke-width="1"/>
<text transform="translate(36,157.83) scale(0.6400,0.6500)" font-size="10" stroke="#222" stroke-width="0.3" text-anchor="end" fill="#222">500</text>
<line x1="43.5" x2="43.5" y1="240" y2="242.7" stroke="#6a6a6a" stroke-width="1"/>
<text transform="translate(43.5,250) scale(0.6400,0.6500)" font-size="10" stroke="#222" stroke-width="0.3" text-anchor="middle" fill="#222">1990</text>
<line x1="81.55" x2="81.55" y1="240" y2="242.7" stroke="#6a6a6a" stroke-width="1"/>
<text transform="translate(81.55,250) scale(0.6400,0.6500)" font-size="10" stroke="#222" stroke-width="0.3" text-anchor="middle" fill="#222">2000</text>
<line x1="119.6" x2="119.6" y1="240" y2="242.7" stroke="#6a6a6a" stroke-width="1"/>
<text transform="translate(119.6,250) scale(0.6400,0.6500)" font-size="10" stroke="#222" stroke-width="0.3" text-anchor="middle" fill="#222">2010</text>
<line x1="157.65" x2="157.65" y1="240" y2="242.7" stroke="#6a6a6a" stroke-width="1"/>
<text transform="translate(157.65,250) scale(0.6400,0.6500)" font-size="10" stroke="#222" stroke-width="0.3" text-anchor="middle" fill="#222">2020</text>
<text transform="translate(102.5,260) scale(0.7000,0.6800)" font-size="10" stroke="#222" stroke-width="0.3" text-anchor="middle" fill="#222">Year</text>
<text transform="translate(102.5,144.5) scale(0.8150,0.8700)" font-size="10" font-weight="bold" stroke="#000" stroke-width="0.2" text-anchor="middle" fill="#000">Chlamydial infection</text>
<text transform="translate(3.5,146.2) scale(0.9700,1.0400)" font-size="10" font-weight="bold" stroke="#000" stroke-width="0.2" fill="#000">C</text>
<text transform="translate(20.71,197.5) rotate(-90) scale(0.7100,0.7000)" font-size="10" stroke="#222" stroke-width="0.3" text-anchor="middle" fill="#222">ASPR per 100,000</text>
<rect x="238" y="156" width="125" height="83" fill="#dddddd"/>
<rect x="238" y="156" width="1" height="83" fill="#d6d6d6"/>
<rect x="239" y="156" width="1" height="83" fill="#dfdfdf"/>
<rect x="240" y="156" width="1" height="83" fill="#dfdfdf"/>
<line x1="238" x2="363" y1="222.7" y2="222.7" stroke="#e7e7e7" stroke-width="1"/>
<line x1="238" x2="363" y1="205.9" y2="205.9" stroke="#e7e7e7" stroke-width="1"/>
<line x1="238" x2="363" y1="189.1" y2="189.1" stroke="#e7e7e7" stroke-width="1"/>
<line x1="238" x2="363" y1="172.3" y2="172.3" stroke="#e7e7e7" stroke-width="1"/>
<line x1="241.5" x2="241.5" y1="156" y2="239" stroke="#e7e7e7" stroke-width="1"/>
<line x1="279.55" x2="279.55" y1="156" y2="239" stroke="#e7e7e7" stroke-width="1"/>
<line x1="317.6" x2="317.6" y1="156" y2="239" stroke="#e7e7e7" stroke-width="1"/>
<line x1="355.65" x2="355.65" y1="156" y2="239" stroke="#e7e7e7" stroke-width="1"/>
<path d="M241.5,165.8 L245.31,164.83 L249.11,164.21 L252.91,164 L256.72,164.18 L260.52,164.6 L264.33,165.48 L268.13,166.7 L271.94,167.88 L275.75,169.14 L279.55,170.4 L283.36,171.67 L287.16,172.96 L290.97,174.2 L294.77,175.36 L298.57,176.5 L302.38,177.64 L306.19,178.79 L309.99,180 L313.8,181.55 L317.6,182.7 L321.4,183.11 L325.21,183.4 L329.01,183.5 L332.82,183.5 L336.62,183.5 L340.43,183.18 L344.24,182.48 L348.04,181.8 L351.85,181.28 L355.65,180.78 L359.45,180.3" fill="none" stroke="#4f4f4f" stroke-width="0.6"/>
<g fill="#4f4f4f"><circle cx="241.5" cy="165.8" r="1.4"/><circle cx="245.31" cy="164.83" r="1.4"/><circle cx="249.11" cy="164.21" r="1.4"/><circle cx="252.91" cy="164" r="1.4"/><circle cx="256.72" cy="164.18" r="1.4"/><circle cx="260.52" cy="164.6" r="1.4"/><circle cx="264.33" cy="165.48" r="1.4"/><circle cx="268.13" cy="166.7" r="1.4"/><circle cx="271.94" cy="167.88" r="1.4"/><circle cx="275.75" cy="169.14" r="1.4"/><circle cx="279.55" cy="170.4" r="1.4"/><circle cx="283.36" cy="171.67" r="1.4"/><circle cx="287.16" cy="172.96" r="1.4"/><circle cx="290.97" cy="174.2" r="1.4"/><circle cx="294.77" cy="175.36" r="1.4"/><circle cx="298.57" cy="176.5" r="1.4"/><circle cx="302.38" cy="177.64" r="1.4"/><circle cx="306.19" cy="178.79" r="1.4"/><circle cx="309.99" cy="180" r="1.4"/><circle cx="313.8" cy="181.55" r="1.4"/><circle cx="317.6" cy="182.7" r="1.4"/><circle cx="321.4" cy="183.11" r="1.4"/><circle cx="325.21" cy="183.4" r="1.4"/><circle cx="329.01" cy="183.5" r="1.4"/><circle cx="332.82" cy="183.5" r="1.4"/><circle cx="336.62" cy="183.5" r="1.4"/><circle cx="340.43" cy="183.18" r="1.4"/><circle cx="344.24" cy="182.48" r="1.4"/><circle cx="348.04" cy="181.8" r="1.4"/><circle cx="351.85" cy="181.28" r="1.4"/><circle cx="355.65" cy="180.78" r="1.4"/><circle cx="359.45" cy="180.3" r="1.4"/></g>
<path d="M241.5,189 L245.31,188.32 L249.11,187.75 L252.91,187.3 L256.72,186.9 L260.52,186.7 L264.33,186.84 L268.13,187.18 L271.94,187.6 L275.75,187.98 L279.55,188.2 L283.36,188.28 L287.16,188.32 L290.97,188.36 L294.77,188.41 L298.57,188.5 L302.38,188.9 L306.19,189.67 L309.99,190.5 L313.8,191.54 L317.6,192.2 L321.4,192.2 L325.21,192.2 L329.01,192.2 L332.82,191.92 L336.62,191.4 L340.43,190.8 L344.24,190.06 L348.04,189.3 L351.85,188.56 L355.65,187.79 L359.45,187" fill="none" stroke="#8a7a38" stroke-width="0.6"/>
<g fill="#8a7a38"><circle cx="241.5" cy="189" r="1.4"/><circle cx="245.31" cy="188.32" r="1.4"/><circle cx="249.11" cy="187.75" r="1.4"/><circle cx="252.91" cy="187.3" r="1.4"/><circle cx="256.72" cy="186.9" r="1.4"/><circle cx="260.52" cy="186.7" r="1.4"/><circle cx="264.33" cy="186.84" r="1.4"/><circle cx="268.13" cy="187.18" r="1.4"/><circle cx="271.94" cy="187.6" r="1.4"/><circle cx="275.75" cy="187.98" r="1.4"/><circle cx="279.55" cy="188.2" r="1.4"/><circle cx="283.36" cy="188.28" r="1.4"/><circle cx="287.16" cy="188.32" r="1.4"/><circle cx="290.97" cy="188.36" r="1.4"/><circle cx="294.77" cy="188.41" r="1.4"/><circle cx="298.57" cy="188.5" r="1.4"/><circle cx="302.38" cy="188.9" r="1.4"/><circle cx="306.19" cy="189.67" r="1.4"/><circle cx="309.99" cy="190.5" r="1.4"/><circle cx="313.8" cy="191.54" r="1.4"/><circle cx="317.6" cy="192.2" r="1.4"/><circle cx="321.4" cy="192.2" r="1.4"/><circle cx="325.21" cy="192.2" r="1.4"/><circle cx="329.01" cy="192.2" r="1.4"/><circle cx="332.82" cy="191.92" r="1.4"/><circle cx="336.62" cy="191.4" r="1.4"/><circle cx="340.43" cy="190.8" r="1.4"/><circle cx="344.24" cy="190.06" r="1.4"/><circle cx="348.04" cy="189.3" r="1.4"/><circle cx="351.85" cy="188.56" r="1.4"/><circle cx="355.65" cy="187.79" r="1.4"/><circle cx="359.45" cy="187" r="1.4"/></g>
<path d="M241.5,212 L245.31,211.23 L249.11,210.49 L252.91,209.78 L256.72,209.12 L260.52,208.5 L264.33,207.93 L268.13,207.39 L271.94,206.88 L275.75,206.39 L279.55,205.9 L283.36,205.38 L287.16,204.83 L290.97,204.31 L294.77,203.88 L298.57,203.6 L302.38,203.44 L306.19,203.33 L309.99,203.24 L313.8,203.14 L317.6,203 L321.4,202.79 L325.21,202.51 L329.01,202.19 L332.82,201.84 L336.62,201.5 L340.43,201.16 L344.24,200.8 L348.04,200.42 L351.85,200.03 L355.65,199.62 L359.45,199.2" fill="none" stroke="#ee4dea" stroke-width="0.6"/>
<g fill="#ee4dea"><circle cx="241.5" cy="212" r="1.4"/><circle cx="245.31" cy="211.23" r="1.4"/><circle cx="249.11" cy="210.49" r="1.4"/><circle cx="252.91" cy="209.78" r="1.4"/><circle cx="256.72" cy="209.12" r="1.4"/><circle cx="260.52" cy="208.5" r="1.4"/><circle cx="264.33" cy="207.93" r="1.4"/><circle cx="268.13" cy="207.39" r="1.4"/><circle cx="271.94" cy="206.88" r="1.4"/><circle cx="275.75" cy="206.39" r="1.4"/><circle cx="279.55" cy="205.9" r="1.4"/><circle cx="283.36" cy="205.38" r="1.4"/><circle cx="287.16" cy="204.83" r="1.4"/><circle cx="290.97" cy="204.31" r="1.4"/><circle cx="294.77" cy="203.88" r="1.4"/><circle cx="298.57" cy="203.6" r="1.4"/><circle cx="302.38" cy="203.44" r="1.4"/><circle cx="306.19" cy="203.33" r="1.4"/><circle cx="309.99" cy="203.24" r="1.4"/><circle cx="313.8" cy="203.14" r="1.4"/><circle cx="317.6" cy="203" r="1.4"/><circle cx="321.4" cy="202.79" r="1.4"/><circle cx="325.21" cy="202.51" r="1.4"/><circle cx="329.01" cy="202.19" r="1.4"/><circle cx="332.82" cy="201.84" r="1.4"/><circle cx="336.62" cy="201.5" r="1.4"/><circle cx="340.43" cy="201.16" r="1.4"/><circle cx="344.24" cy="200.8" r="1.4"/><circle cx="348.04" cy="200.42" r="1.4"/><circle cx="351.85" cy="200.03" r="1.4"/><circle cx="355.65" cy="199.62" r="1.4"/><circle cx="359.45" cy="199.2" r="1.4"/></g>
<path d="M241.5,209.7 L245.31,209.26 L249.11,208.84 L252.91,208.43 L256.72,208.06 L260.52,207.7 L264.33,207.34 L268.13,206.97 L271.94,206.64 L275.75,206.37 L279.55,206.2 L283.36,206.12 L287.16,206.07 L290.97,206.03 L294.77,205.98 L298.57,205.9 L302.38,205.74 L306.19,205.5 L309.99,205.21 L313.8,204.93 L317.6,204.7 L321.4,204.52 L325.21,204.37 L329.01,204.22 L332.82,204.07 L336.62,203.9 L340.43,203.72 L344.24,203.53 L348.04,203.33 L351.85,203.13 L355.65,202.92 L359.45,202.7" fill="none" stroke="#12bb12" stroke-width="0.6"/>
<g fill="#12bb12"><circle cx="241.5" cy="209.7" r="1.4"/><circle cx="245.31" cy="209.26" r="1.4"/><circle cx="249.11" cy="208.84" r="1.4"/><circle cx="252.91" cy="208.43" r="1.4"/><circle cx="256.72" cy="208.06" r="1.4"/><circle cx="260.52" cy="207.7" r="1.4"/><circle cx="264.33" cy="207.34" r="1.4"/><circle cx="268.13" cy="206.97" r="1.4"/><circle cx="271.94" cy="206.64" r="1.4"/><circle cx="275.75" cy="206.37" r="1.4"/><circle cx="279.55" cy="206.2" r="1.4"/><circle cx="283.36" cy="206.12" r="1.4"/><circle cx="287.16" cy="206.07" r="1.4"/><circle cx="290.97" cy="206.03" r="1.4"/><circle cx="294.77" cy="205.98" r="1.4"/><circle cx="298.57" cy="205.9" r="1.4"/><circle cx="302.38" cy="205.74" r="1.4"/><circle cx="306.19" cy="205.5" r="1.4"/><circle cx="309.99" cy="205.21" r="1.4"/><circle cx="313.8" cy="204.93" r="1.4"/><circle cx="317.6" cy="204.7" r="1.4"/><circle cx="321.4" cy="204.52" r="1.4"/><circle cx="325.21" cy="204.37" r="1.4"/><circle cx="329.01" cy="204.22" r="1.4"/><circle cx="332.82" cy="204.07" r="1.4"/><circle cx="336.62" cy="203.9" r="1.4"/><circle cx="340.43" cy="203.72" r="1.4"/><circle cx="344.24" cy="203.53" r="1.4"/><circle cx="348.04" cy="203.33" r="1.4"/><circle cx="351.85" cy="203.13" r="1.4"/><circle cx="355.65" cy="202.92" r="1.4"/><circle cx="359.45" cy="202.7" r="1.4"/></g>
<path d="M241.5,198.1 L245.31,196.54 L249.11,195.4 L252.91,194.59 L256.72,193.96 L260.52,193.7 L264.33,193.76 L268.13,193.92 L271.94,194.14 L275.75,194.38 L279.55,194.6 L283.36,194.83 L287.16,195.08 L290.97,195.34 L294.77,195.56 L298.57,195.7 L302.38,195.79 L306.19,195.87 L309.99,195.94 L313.8,195.98 L317.6,196 L321.4,195.98 L325.21,195.92 L329.01,195.84 L332.82,195.77 L336.62,195.7 L340.43,195.65 L344.24,195.59 L348.04,195.54 L351.85,195.49 L355.65,195.45 L359.45,195.4" fill="none" stroke="#4a4af2" stroke-width="0.6"/>
<g fill="#4a4af2"><circle cx="241.5" cy="198.1" r="1.4"/><circle cx="245.31" cy="196.54" r="1.4"/><circle cx="249.11" cy="195.4" r="1.4"/><circle cx="252.91" cy="194.59" r="1.4"/><circle cx="256.72" cy="193.96" r="1.4"/><circle cx="260.52" cy="193.7" r="1.4"/><circle cx="264.33" cy="193.76" r="1.4"/><circle cx="268.13" cy="193.92" r="1.4"/><circle cx="271.94" cy="194.14" r="1.4"/><circle cx="275.75" cy="194.38" r="1.4"/><circle cx="279.55" cy="194.6" r="1.4"/><circle cx="283.36" cy="194.83" r="1.4"/><circle cx="287.16" cy="195.08" r="1.4"/><circle cx="290.97" cy="195.34" r="1.4"/><circle cx="294.77" cy="195.56" r="1.4"/><circle cx="298.57" cy="195.7" r="1.4"/><circle cx="302.38" cy="195.79" r="1.4"/><circle cx="306.19" cy="195.87" r="1.4"/><circle cx="309.99" cy="195.94" r="1.4"/><circle cx="313.8" cy="195.98" r="1.4"/><circle cx="317.6" cy="196" r="1.4"/><circle cx="321.4" cy="195.98" r="1.4"/><circle cx="325.21" cy="195.92" r="1.4"/><circle cx="329.01" cy="195.84" r="1.4"/><circle cx="332.82" cy="195.77" r="1.4"/><circle cx="336.62" cy="195.7" r="1.4"/><circle cx="340.43" cy="195.65" r="1.4"/><circle cx="344.24" cy="195.59" r="1.4"/><circle cx="348.04" cy="195.54" r="1.4"/><circle cx="351.85" cy="195.49" r="1.4"/><circle cx="355.65" cy="195.45" r="1.4"/><circle cx="359.45" cy="195.4" r="1.4"/></g>
<path d="M241.5,200.4 L245.31,199.5 L249.11,198.73 L252.91,198.1 L256.72,197.54 L260.52,197.2 L264.33,197.09 L268.13,197.01 L271.94,196.95 L275.75,196.91 L279.55,196.9 L283.36,196.9 L287.16,196.9 L290.97,196.9 L294.77,196.9 L298.57,196.9 L302.38,196.93 L306.19,197.01 L309.99,197.09 L313.8,197.17 L317.6,197.2 L321.4,197.19 L325.21,197.15 L329.01,197.09 L332.82,197 L336.62,196.9 L340.43,196.65 L344.24,196.21 L348.04,195.7 L351.85,195.14 L355.65,194.46 L359.45,193.7" fill="none" stroke="#f7837f" stroke-width="0.6"/>
<g fill="#f7837f"><circle cx="241.5" cy="200.4" r="1.4"/><circle cx="245.31" cy="199.5" r="1.4"/><circle cx="249.11" cy="198.73" r="1.4"/><circle cx="252.91" cy="198.1" r="1.4"/><circle cx="256.72" cy="197.54" r="1.4"/><circle cx="260.52" cy="197.2" r="1.4"/><circle cx="264.33" cy="197.09" r="1.4"/><circle cx="268.13" cy="197.01" r="1.4"/><circle cx="271.94" cy="196.95" r="1.4"/><circle cx="275.75" cy="196.91" r="1.4"/><circle cx="279.55" cy="196.9" r="1.4"/><circle cx="283.36" cy="196.9" r="1.4"/><circle cx="287.16" cy="196.9" r="1.4"/><circle cx="290.97" cy="196.9" r="1.4"/><circle cx="294.77" cy="196.9" r="1.4"/><circle cx="298.57" cy="196.9" r="1.4"/><circle cx="302.38" cy="196.93" r="1.4"/><circle cx="306.19" cy="197.01" r="1.4"/><circle cx="309.99" cy="197.09" r="1.4"/><circle cx="313.8" cy="197.17" r="1.4"/><circle cx="317.6" cy="197.2" r="1.4"/><circle cx="321.4" cy="197.19" r="1.4"/><circle cx="325.21" cy="197.15" r="1.4"/><circle cx="329.01" cy="197.09" r="1.4"/><circle cx="332.82" cy="197" r="1.4"/><circle cx="336.62" cy="196.9" r="1.4"/><circle cx="340.43" cy="196.65" r="1.4"/><circle cx="344.24" cy="196.21" r="1.4"/><circle cx="348.04" cy="195.7" r="1.4"/><circle cx="351.85" cy="195.14" r="1.4"/><circle cx="355.65" cy="194.46" r="1.4"/><circle cx="359.45" cy="193.7" r="1.4"/></g>
<path d="M237.5,239.5 L237.5,155.5" stroke="#777777" stroke-width="1" fill="none"/>
<path d="M237,155.5 L363.5,155.5 L363.5,239.5 L237,239.5" stroke="#777777" stroke-width="1" fill="none"/>
<line x1="234.3" x2="237" y1="239.5" y2="239.5" stroke="#6a6a6a" stroke-width="1"/>
<text transform="translate(233.6,241.83) scale(0.6400,0.6500)" font-size="10" stroke="#222" stroke-width="0.3" text-anchor="end" fill="#222">0.0</text>
<line x1="234.3" x2="237" y1="222.7" y2="222.7" stroke="#6a6a6a" stroke-width="1"/>
<text transform="translate(233.6,225.03) scale(0.6400,0.6500)" font-size="10" stroke="#222" stroke-width="0.3" text-anchor="end" fill="#222">0.5</text>
<line x1="234.3" x2="237" y1="205.9" y2="205.9" stroke="#6a6a6a" stroke-width="1"/>
<text transform="translate(233.6,208.23) scale(0.6400,0.6500)" font-size="10" stroke="#222" stroke-width="0.3" text-anchor="end" fill="#222">1.0</text>
<line x1="234.3" x2="237" y1="189.1" y2="189.1" stroke="#6a6a6a" stroke-width="1"/>
<text transform="translate(233.6,191.43) scale(0.6400,0.6500)" font-size="10" stroke="#222" stroke-width="0.3" text-anchor="end" fill="#222">1.5</text>
<line x1="234.3" x2="237" y1="172.3" y2="172.3" stroke="#6a6a6a" stroke-width="1"/>
<text transform="translate(233.6,174.63) scale(0.6400,0.6500)" font-size="10" stroke="#222" stroke-width="0.3" text-anchor="end" fill="#222">2.0</text>
<line x1="234.3" x2="237" y1="155.5" y2="155.5" stroke="#6a6a6a" stroke-width="1"/>
<text transform="translate(233.6,157.83) scale(0.6400,0.6500)" font-size="10" stroke="#222" stroke-width="0.3" text-anchor="end" fill="#222">2.5</text>
<line x1="241.5" x2="241.5" y1="240" y2="242.7" stroke="#6a6a6a" stroke-width="1"/>
<text transform="translate(241.5,250) scale(0.6400,0.6500)" font-size="10" stroke="#222" stroke-width="0.3" text-anchor="middle" fill="#222">1990</text>
<line x1="279.55" x2="279.55" y1="240" y2="242.7" stroke="#6a6a6a" stroke-width="1"/>
<text transform="translate(279.55,250) scale(0.6400,0.6500)" font-size="10" stroke="#222" stroke-width="0.3" text-anchor="middle" fill="#222">2000</text>
<line x1="317.6" x2="317.6" y1="240" y2="242.7" stroke="#6a6a6a" stroke-width="1"/>
<text transform="translate(317.6,250) scale(0.6400,0.6500)" font-size="10" stroke="#222" stroke-width="0.3" text-anchor="middle" fill="#222">2010</text>
<line x1="355.65" x2="355.65" y1="240" y2="242.7" stroke="#6a6a6a" stroke-width="1"/>
<text transform="translate(355.65,250) scale(0.6400,0.6500)" font-size="10" stroke="#222" stroke-width="0.3" text-anchor="middle" fill="#222">2020</text>
<text transform="translate(300.5,260) scale(0.7000,0.6800)" font-size="10" stroke="#222" stroke-width="0.3" text-anchor="middle" fill="#222">Year</text>
<text transform="translate(300.5,144.5) scale(0.8150,0.8700)" font-size="10" font-weight="bold" stroke="#000" stroke-width="0.2" text-anchor="middle" fill="#000">Chlamydial infection</text>
<text transform="translate(209,146.2) scale(0.9700,1.0400)" font-size="10" font-weight="bold" stroke="#000" stroke-width="0.2" fill="#000">D</text>
<text transform="translate(219.91,197.5) rotate(-90) scale(0.7100,0.7000)" font-size="10" stroke="#222" stroke-width="0.3" text-anchor="middle" fill="#222">ASYR per 100,000</text>
<rect x="40" y="296" width="125" height="83" fill="#dddddd"/>
<rect x="39" y="296" width="1" height="83" fill="#9c9c9c"/>
<rect x="40" y="296" width="1" height="83" fill="#c0c0c0"/>
<rect x="41" y="296" width="1" height="83" fill="#d4d4d4"/>
<line x1="40" x2="165" y1="351.5" y2="351.5" stroke="#e7e7e7" stroke-width="1"/>
<line x1="40" x2="165" y1="323.5" y2="323.5" stroke="#e7e7e7" stroke-width="1"/>
<line x1="43.5" x2="43.5" y1="296" y2="379" stroke="#e7e7e7" stroke-width="1"/>
<line x1="81.55" x2="81.55" y1="296" y2="379" stroke="#e7e7e7" stroke-width="1"/>
<line x1="119.6" x2="119.6" y1="296" y2="379" stroke="#e7e7e7" stroke-width="1"/>
<line x1="157.65" x2="157.65" y1="296" y2="379" stroke="#e7e7e7" stroke-width="1"/>
<path d="M43.5,315.7 L47.3,314.98 L51.11,314.61 L54.91,314.5 L58.72,314.78 L62.53,315.4 L66.33,316.51 L70.14,318 L73.94,319.51 L77.75,321.13 L81.55,322.7 L85.36,324.2 L89.16,325.65 L92.97,327 L96.77,328.17 L100.58,329.3 L104.38,330.55 L108.19,331.85 L111.99,333.1 L115.8,334.4 L119.6,335.4 L123.41,335.98 L127.21,336.43 L131.01,336.6 L134.82,336.6 L138.62,336.6 L142.43,336.44 L146.24,336.08 L150.04,335.7 L153.84,335.36 L157.65,334.99 L161.45,334.6" fill="none" stroke="#4f4f4f" stroke-width="0.6"/>
<g fill="#4f4f4f"><circle cx="43.5" cy="315.7" r="1.4"/><circle cx="47.3" cy="314.98" r="1.4"/><circle cx="51.11" cy="314.61" r="1.4"/><circle cx="54.91" cy="314.5" r="1.4"/><circle cx="58.72" cy="314.78" r="1.4"/><circle cx="62.53" cy="315.4" r="1.4"/><circle cx="66.33" cy="316.51" r="1.4"/><circle cx="70.14" cy="318" r="1.4"/><circle cx="73.94" cy="319.51" r="1.4"/><circle cx="77.75" cy="321.13" r="1.4"/><circle cx="81.55" cy="322.7" r="1.4"/><circle cx="85.36" cy="324.2" r="1.4"/><circle cx="89.16" cy="325.65" r="1.4"/><circle cx="92.97" cy="327" r="1.4"/><circle cx="96.77" cy="328.17" r="1.4"/><circle cx="100.58" cy="329.3" r="1.4"/><circle cx="104.38" cy="330.55" r="1.4"/><circle cx="108.19" cy="331.85" r="1.4"/><circle cx="111.99" cy="333.1" r="1.4"/><circle cx="115.8" cy="334.4" r="1.4"/><circle cx="119.6" cy="335.4" r="1.4"/><circle cx="123.41" cy="335.98" r="1.4"/><circle cx="127.21" cy="336.43" r="1.4"/><circle cx="131.01" cy="336.6" r="1.4"/><circle cx="134.82" cy="336.6" r="1.4"/><circle cx="138.62" cy="336.6" r="1.4"/><circle cx="142.43" cy="336.44" r="1.4"/><circle cx="146.24" cy="336.08" r="1.4"/><circle cx="150.04" cy="335.7" r="1.4"/><circle cx="153.84" cy="335.36" r="1.4"/><circle cx="157.65" cy="334.99" r="1.4"/><circle cx="161.45" cy="334.6" r="1.4"/></g>
<path d="M43.5,346.2 L47.3,345.75 L51.11,345.43 L54.91,345.3 L58.72,345.3 L62.53,345.3 L66.33,345.41 L70.14,345.68 L73.94,346.05 L77.75,346.45 L81.55,346.8 L85.36,347.1 L89.16,347.39 L92.97,347.7 L96.77,348.03 L100.58,348.4 L104.38,348.94 L108.19,349.64 L111.99,350.34 L115.8,350.88 L119.6,351.1 L123.41,351.1 L127.21,351.1 L131.01,351.1 L134.82,351.1 L138.62,351.1 L142.43,350.94 L146.24,350.59 L150.04,350.2 L153.84,349.84 L157.65,349.43 L161.45,349" fill="none" stroke="#8a7a38" stroke-width="0.6"/>
<g fill="#8a7a38"><circle cx="43.5" cy="346.2" r="1.4"/><circle cx="47.3" cy="345.75" r="1.4"/><circle cx="51.11" cy="345.43" r="1.4"/><circle cx="54.91" cy="345.3" r="1.4"/><circle cx="58.72" cy="345.3" r="1.4"/><circle cx="62.53" cy="345.3" r="1.4"/><circle cx="66.33" cy="345.41" r="1.4"/><circle cx="70.14" cy="345.68" r="1.4"/><circle cx="73.94" cy="346.05" r="1.4"/><circle cx="77.75" cy="346.45" r="1.4"/><circle cx="81.55" cy="346.8" r="1.4"/><circle cx="85.36" cy="347.1" r="1.4"/><circle cx="89.16" cy="347.39" r="1.4"/><circle cx="92.97" cy="347.7" r="1.4"/><circle cx="96.77" cy="348.03" r="1.4"/><circle cx="100.58" cy="348.4" r="1.4"/><circle cx="104.38" cy="348.94" r="1.4"/><circle cx="108.19" cy="349.64" r="1.4"/><circle cx="111.99" cy="350.34" r="1.4"/><circle cx="115.8" cy="350.88" r="1.4"/><circle cx="119.6" cy="351.1" r="1.4"/><circle cx="123.41" cy="351.1" r="1.4"/><circle cx="127.21" cy="351.1" r="1.4"/><circle cx="131.01" cy="351.1" r="1.4"/><circle cx="134.82" cy="351.1" r="1.4"/><circle cx="138.62" cy="351.1" r="1.4"/><circle cx="142.43" cy="350.94" r="1.4"/><circle cx="146.24" cy="350.59" r="1.4"/><circle cx="150.04" cy="350.2" r="1.4"/><circle cx="153.84" cy="349.84" r="1.4"/><circle cx="157.65" cy="349.43" r="1.4"/><circle cx="161.45" cy="349" r="1.4"/></g>
<path d="M43.5,361.9 L47.3,361.43 L51.11,360.99 L54.91,360.59 L58.72,360.22 L62.53,359.9 L66.33,359.58 L70.14,359.26 L73.94,358.98 L77.75,358.78 L81.55,358.7 L85.36,358.72 L89.16,358.77 L92.97,358.83 L96.77,358.88 L100.58,358.9 L104.38,358.87 L108.19,358.79 L111.99,358.71 L115.8,358.63 L119.6,358.6 L123.41,358.6 L127.21,358.6 L131.01,358.6 L134.82,358.6 L138.62,358.6 L142.43,358.59 L146.24,358.56 L150.04,358.51 L153.84,358.45 L157.65,358.38 L161.45,358.3" fill="none" stroke="#ee4dea" stroke-width="0.6"/>
<g fill="#ee4dea"><circle cx="43.5" cy="361.9" r="1.4"/><circle cx="47.3" cy="361.43" r="1.4"/><circle cx="51.11" cy="360.99" r="1.4"/><circle cx="54.91" cy="360.59" r="1.4"/><circle cx="58.72" cy="360.22" r="1.4"/><circle cx="62.53" cy="359.9" r="1.4"/><circle cx="66.33" cy="359.58" r="1.4"/><circle cx="70.14" cy="359.26" r="1.4"/><circle cx="73.94" cy="358.98" r="1.4"/><circle cx="77.75" cy="358.78" r="1.4"/><circle cx="81.55" cy="358.7" r="1.4"/><circle cx="85.36" cy="358.72" r="1.4"/><circle cx="89.16" cy="358.77" r="1.4"/><circle cx="92.97" cy="358.83" r="1.4"/><circle cx="96.77" cy="358.88" r="1.4"/><circle cx="100.58" cy="358.9" r="1.4"/><circle cx="104.38" cy="358.87" r="1.4"/><circle cx="108.19" cy="358.79" r="1.4"/><circle cx="111.99" cy="358.71" r="1.4"/><circle cx="115.8" cy="358.63" r="1.4"/><circle cx="119.6" cy="358.6" r="1.4"/><circle cx="123.41" cy="358.6" r="1.4"/><circle cx="127.21" cy="358.6" r="1.4"/><circle cx="131.01" cy="358.6" r="1.4"/><circle cx="134.82" cy="358.6" r="1.4"/><circle cx="138.62" cy="358.6" r="1.4"/><circle cx="142.43" cy="358.59" r="1.4"/><circle cx="146.24" cy="358.56" r="1.4"/><circle cx="150.04" cy="358.51" r="1.4"/><circle cx="153.84" cy="358.45" r="1.4"/><circle cx="157.65" cy="358.38" r="1.4"/><circle cx="161.45" cy="358.3" r="1.4"/></g>
<path d="M43.5,357 L47.3,356.4 L51.11,355.97 L54.91,355.8 L58.72,355.8 L62.53,355.8 L66.33,355.82 L70.14,355.86 L73.94,355.92 L77.75,356 L81.55,356.1 L85.36,356.3 L89.16,356.63 L92.97,357.01 L96.77,357.36 L100.58,357.6 L104.38,357.75 L108.19,357.88 L111.99,358 L115.8,358.07 L119.6,358.1 L123.41,358.08 L127.21,358.03 L131.01,357.96 L134.82,357.88 L138.62,357.8 L142.43,357.73 L146.24,357.65 L150.04,357.57 L153.84,357.48 L157.65,357.39 L161.45,357.3" fill="none" stroke="#12bb12" stroke-width="0.6"/>
<g fill="#12bb12"><circle cx="43.5" cy="357" r="1.4"/><circle cx="47.3" cy="356.4" r="1.4"/><circle cx="51.11" cy="355.97" r="1.4"/><circle cx="54.91" cy="355.8" r="1.4"/><circle cx="58.72" cy="355.8" r="1.4"/><circle cx="62.53" cy="355.8" r="1.4"/><circle cx="66.33" cy="355.82" r="1.4"/><circle cx="70.14" cy="355.86" r="1.4"/><circle cx="73.94" cy="355.92" r="1.4"/><circle cx="77.75" cy="356" r="1.4"/><circle cx="81.55" cy="356.1" r="1.4"/><circle cx="85.36" cy="356.3" r="1.4"/><circle cx="89.16" cy="356.63" r="1.4"/><circle cx="92.97" cy="357.01" r="1.4"/><circle cx="96.77" cy="357.36" r="1.4"/><circle cx="100.58" cy="357.6" r="1.4"/><circle cx="104.38" cy="357.75" r="1.4"/><circle cx="108.19" cy="357.88" r="1.4"/><circle cx="111.99" cy="358" r="1.4"/><circle cx="115.8" cy="358.07" r="1.4"/><circle cx="119.6" cy="358.1" r="1.4"/><circle cx="123.41" cy="358.08" r="1.4"/><circle cx="127.21" cy="358.03" r="1.4"/><circle cx="131.01" cy="357.96" r="1.4"/><circle cx="134.82" cy="357.88" r="1.4"/><circle cx="138.62" cy="357.8" r="1.4"/><circle cx="142.43" cy="357.73" r="1.4"/><circle cx="146.24" cy="357.65" r="1.4"/><circle cx="150.04" cy="357.57" r="1.4"/><circle cx="153.84" cy="357.48" r="1.4"/><circle cx="157.65" cy="357.39" r="1.4"/><circle cx="161.45" cy="357.3" r="1.4"/></g>
<path d="M43.5,333.7 L47.3,332.88 L51.11,332.37 L54.91,332.2 L58.72,332.39 L62.53,332.8 L66.33,333.47 L70.14,334.3 L73.94,335.04 L77.75,335.79 L81.55,336.6 L85.36,337.53 L89.16,338.52 L92.97,339.5 L96.77,340.5 L100.58,341.3 L104.38,341.75 L108.19,342.09 L111.99,342.4 L115.8,342.78 L119.6,343 L123.41,343 L127.21,343 L131.01,343 L134.82,343 L138.62,343 L142.43,343.08 L146.24,343.22 L150.04,343.3 L153.84,343.3 L157.65,343.3 L161.45,343.3" fill="none" stroke="#4a4af2" stroke-width="0.6"/>
<g fill="#4a4af2"><circle cx="43.5" cy="333.7" r="1.4"/><circle cx="47.3" cy="332.88" r="1.4"/><circle cx="51.11" cy="332.37" r="1.4"/><circle cx="54.91" cy="332.2" r="1.4"/><circle cx="58.72" cy="332.39" r="1.4"/><circle cx="62.53" cy="332.8" r="1.4"/><circle cx="66.33" cy="333.47" r="1.4"/><circle cx="70.14" cy="334.3" r="1.4"/><circle cx="73.94" cy="335.04" r="1.4"/><circle cx="77.75" cy="335.79" r="1.4"/><circle cx="81.55" cy="336.6" r="1.4"/><circle cx="85.36" cy="337.53" r="1.4"/><circle cx="89.16" cy="338.52" r="1.4"/><circle cx="92.97" cy="339.5" r="1.4"/><circle cx="96.77" cy="340.5" r="1.4"/><circle cx="100.58" cy="341.3" r="1.4"/><circle cx="104.38" cy="341.75" r="1.4"/><circle cx="108.19" cy="342.09" r="1.4"/><circle cx="111.99" cy="342.4" r="1.4"/><circle cx="115.8" cy="342.78" r="1.4"/><circle cx="119.6" cy="343" r="1.4"/><circle cx="123.41" cy="343" r="1.4"/><circle cx="127.21" cy="343" r="1.4"/><circle cx="131.01" cy="343" r="1.4"/><circle cx="134.82" cy="343" r="1.4"/><circle cx="138.62" cy="343" r="1.4"/><circle cx="142.43" cy="343.08" r="1.4"/><circle cx="146.24" cy="343.22" r="1.4"/><circle cx="150.04" cy="343.3" r="1.4"/><circle cx="153.84" cy="343.3" r="1.4"/><circle cx="157.65" cy="343.3" r="1.4"/><circle cx="161.45" cy="343.3" r="1.4"/></g>
<path d="M43.5,348.8 L47.3,348.11 L51.11,347.6 L54.91,347.4 L58.72,347.4 L62.53,347.4 L66.33,347.45 L70.14,347.58 L73.94,347.76 L77.75,347.98 L81.55,348.2 L85.36,348.47 L89.16,348.83 L92.97,349.22 L96.77,349.62 L100.58,350 L104.38,350.4 L108.19,350.85 L111.99,351.27 L115.8,351.58 L119.6,351.7 L123.41,351.7 L127.21,351.7 L131.01,351.7 L134.82,351.7 L138.62,351.7 L142.43,351.62 L146.24,351.42 L150.04,351.2 L153.84,350.95 L157.65,350.65 L161.45,350.3" fill="none" stroke="#f7837f" stroke-width="0.6"/>
<g fill="#f7837f"><circle cx="43.5" cy="348.8" r="1.4"/><circle cx="47.3" cy="348.11" r="1.4"/><circle cx="51.11" cy="347.6" r="1.4"/><circle cx="54.91" cy="347.4" r="1.4"/><circle cx="58.72" cy="347.4" r="1.4"/><circle cx="62.53" cy="347.4" r="1.4"/><circle cx="66.33" cy="347.45" r="1.4"/><circle cx="70.14" cy="347.58" r="1.4"/><circle cx="73.94" cy="347.76" r="1.4"/><circle cx="77.75" cy="347.98" r="1.4"/><circle cx="81.55" cy="348.2" r="1.4"/><circle cx="85.36" cy="348.47" r="1.4"/><circle cx="89.16" cy="348.83" r="1.4"/><circle cx="92.97" cy="349.22" r="1.4"/><circle cx="96.77" cy="349.62" r="1.4"/><circle cx="100.58" cy="350" r="1.4"/><circle cx="104.38" cy="350.4" r="1.4"/><circle cx="108.19" cy="350.85" r="1.4"/><circle cx="111.99" cy="351.27" r="1.4"/><circle cx="115.8" cy="351.58" r="1.4"/><circle cx="119.6" cy="351.7" r="1.4"/><circle cx="123.41" cy="351.7" r="1.4"/><circle cx="127.21" cy="351.7" r="1.4"/><circle cx="131.01" cy="351.7" r="1.4"/><circle cx="134.82" cy="351.7" r="1.4"/><circle cx="138.62" cy="351.7" r="1.4"/><circle cx="142.43" cy="351.62" r="1.4"/><circle cx="146.24" cy="351.42" r="1.4"/><circle cx="150.04" cy="351.2" r="1.4"/><circle cx="153.84" cy="350.95" r="1.4"/><circle cx="157.65" cy="350.65" r="1.4"/><circle cx="161.45" cy="350.3" r="1.4"/></g>
<path d="M39.5,379.5 L39.5,295.5" stroke="#9c9c9c" stroke-width="1" fill="none"/>
<path d="M39,295.5 L165.5,295.5 L165.5,379.5 L39,379.5" stroke="#777777" stroke-width="1" fill="none"/>
<line x1="36.3" x2="39" y1="379.5" y2="379.5" stroke="#6a6a6a" stroke-width="1"/>
<text transform="translate(36,381.83) scale(0.6400,0.6500)" font-size="10" stroke="#222" stroke-width="0.3" text-anchor="end" fill="#222">0</text>
<line x1="36.3" x2="39" y1="351.5" y2="351.5" stroke="#6a6a6a" stroke-width="1"/>
<text transform="translate(36,353.83) scale(0.6400,0.6500)" font-size="10" stroke="#222" stroke-width="0.3" text-anchor="end" fill="#222">50</text>
<line x1="36.3" x2="39" y1="323.5" y2="323.5" stroke="#6a6a6a" stroke-width="1"/>
<text transform="translate(36,325.83) scale(0.6400,0.6500)" font-size="10" stroke="#222" stroke-width="0.3" text-anchor="end" fill="#222">100</text>
<line x1="36.3" x2="39" y1="295.5" y2="295.5" stroke="#6a6a6a" stroke-width="1"/>
<text transform="translate(36,297.83) scale(0.6400,0.6500)" font-size="10" stroke="#222" stroke-width="0.3" text-anchor="end" fill="#222">150</text>
<line x1="43.5" x2="43.5" y1="380" y2="382.7" stroke="#6a6a6a" stroke-width="1"/>
<text transform="translate(43.5,390) scale(0.6400,0.6500)" font-size="10" stroke="#222" stroke-width="0.3" text-anchor="middle" fill="#222">1990</text>
<line x1="81.55" x2="81.55" y1="380" y2="382.7" stroke="#6a6a6a" stroke-width="1"/>
<text transform="translate(81.55,390) scale(0.6400,0.6500)" font-size="10" stroke="#222" stroke-width="0.3" text-anchor="middle" fill="#222">2000</text>
<line x1="119.6" x2="119.6" y1="380" y2="382.7" stroke="#6a6a6a" stroke-width="1"/>
<text transform="translate(119.6,390) scale(0.6400,0.6500)" font-size="10" stroke="#222" stroke-width="0.3" text-anchor="middle" fill="#222">2010</text>
<line x1="157.65" x2="157.65" y1="380" y2="382.7" stroke="#6a6a6a" stroke-width="1"/>
<text transform="translate(157.65,390) scale(0.6400,0.6500)" font-size="10" stroke="#222" stroke-width="0.3" text-anchor="middle" fill="#222">2020</text>
<text transform="translate(102.5,400) scale(0.7000,0.6800)" font-size="10" stroke="#222" stroke-width="0.3" text-anchor="middle" fill="#222">Year</text>
<text transform="translate(102.5,284.9) scale(0.8150,0.8700)" font-size="10" font-weight="bold" stroke="#000" stroke-width="0.2" text-anchor="middle" fill="#000">Gonococcal infection</text>
<text transform="translate(3.4,285) scale(0.9700,1.0400)" font-size="10" font-weight="bold" stroke="#000" stroke-width="0.2" fill="#000">E</text>
<text transform="translate(20.61,337.5) rotate(-90) scale(0.7100,0.7000)" font-size="10" stroke="#222" stroke-width="0.3" text-anchor="middle" fill="#222">ASPR per 100,000</text>
<rect x="238" y="296" width="125" height="83" fill="#dddddd"/>
<rect x="238" y="296" width="1" height="83" fill="#d6d6d6"/>
<rect x="239" y="296" width="1" height="83" fill="#dfdfdf"/>
<rect x="240" y="296" width="1" height="83" fill="#dfdfdf"/>
<line x1="238" x2="363" y1="358.5" y2="358.5" stroke="#e7e7e7" stroke-width="1"/>
<line x1="238" x2="363" y1="337.5" y2="337.5" stroke="#e7e7e7" stroke-width="1"/>
<line x1="238" x2="363" y1="316.5" y2="316.5" stroke="#e7e7e7" stroke-width="1"/>
<line x1="241.5" x2="241.5" y1="296" y2="379" stroke="#e7e7e7" stroke-width="1"/>
<line x1="279.55" x2="279.55" y1="296" y2="379" stroke="#e7e7e7" stroke-width="1"/>
<line x1="317.6" x2="317.6" y1="296" y2="379" stroke="#e7e7e7" stroke-width="1"/>
<line x1="355.65" x2="355.65" y1="296" y2="379" stroke="#e7e7e7" stroke-width="1"/>
<path d="M241.5,313.6 L245.31,312.97 L249.11,312.61 L252.91,312.5 L256.72,312.68 L260.52,313.1 L264.33,314.05 L268.13,315.4 L271.94,316.75 L275.75,318.2 L279.55,319.7 L283.36,321.27 L287.16,322.89 L290.97,324.4 L294.77,325.7 L298.57,327 L302.38,328.58 L306.19,330.26 L309.99,331.7 L313.8,332.83 L317.6,333.7 L321.4,334.39 L325.21,334.96 L329.01,335.2 L332.82,335.2 L336.62,335.2 L340.43,334.97 L344.24,334.46 L348.04,334 L351.85,333.67 L355.65,333.37 L359.45,333.1" fill="none" stroke="#4f4f4f" stroke-width="0.6"/>
<g fill="#4f4f4f"><circle cx="241.5" cy="313.6" r="1.4"/><circle cx="245.31" cy="312.97" r="1.4"/><circle cx="249.11" cy="312.61" r="1.4"/><circle cx="252.91" cy="312.5" r="1.4"/><circle cx="256.72" cy="312.68" r="1.4"/><circle cx="260.52" cy="313.1" r="1.4"/><circle cx="264.33" cy="314.05" r="1.4"/><circle cx="268.13" cy="315.4" r="1.4"/><circle cx="271.94" cy="316.75" r="1.4"/><circle cx="275.75" cy="318.2" r="1.4"/><circle cx="279.55" cy="319.7" r="1.4"/><circle cx="283.36" cy="321.27" r="1.4"/><circle cx="287.16" cy="322.89" r="1.4"/><circle cx="290.97" cy="324.4" r="1.4"/><circle cx="294.77" cy="325.7" r="1.4"/><circle cx="298.57" cy="327" r="1.4"/><circle cx="302.38" cy="328.58" r="1.4"/><circle cx="306.19" cy="330.26" r="1.4"/><circle cx="309.99" cy="331.7" r="1.4"/><circle cx="313.8" cy="332.83" r="1.4"/><circle cx="317.6" cy="333.7" r="1.4"/><circle cx="321.4" cy="334.39" r="1.4"/><circle cx="325.21" cy="334.96" r="1.4"/><circle cx="329.01" cy="335.2" r="1.4"/><circle cx="332.82" cy="335.2" r="1.4"/><circle cx="336.62" cy="335.2" r="1.4"/><circle cx="340.43" cy="334.97" r="1.4"/><circle cx="344.24" cy="334.46" r="1.4"/><circle cx="348.04" cy="334" r="1.4"/><circle cx="351.85" cy="333.67" r="1.4"/><circle cx="355.65" cy="333.37" r="1.4"/><circle cx="359.45" cy="333.1" r="1.4"/></g>
<path d="M241.5,344.2 L245.31,343.6 L249.11,343.17 L252.91,343 L256.72,343 L260.52,343 L264.33,343.1 L268.13,343.37 L271.94,343.74 L275.75,344.13 L279.55,344.5 L283.36,344.83 L287.16,345.16 L290.97,345.51 L294.77,345.89 L298.57,346.3 L302.38,346.84 L306.19,347.51 L309.99,348.18 L313.8,348.72 L317.6,349 L321.4,349.1 L325.21,349.18 L329.01,349.25 L332.82,349.29 L336.62,349.3 L340.43,349.17 L344.24,348.86 L348.04,348.5 L351.85,348.09 L355.65,347.59 L359.45,347" fill="none" stroke="#8a7a38" stroke-width="0.6"/>
<g fill="#8a7a38"><circle cx="241.5" cy="344.2" r="1.4"/><circle cx="245.31" cy="343.6" r="1.4"/><circle cx="249.11" cy="343.17" r="1.4"/><circle cx="252.91" cy="343" r="1.4"/><circle cx="256.72" cy="343" r="1.4"/><circle cx="260.52" cy="343" r="1.4"/><circle cx="264.33" cy="343.1" r="1.4"/><circle cx="268.13" cy="343.37" r="1.4"/><circle cx="271.94" cy="343.74" r="1.4"/><circle cx="275.75" cy="344.13" r="1.4"/><circle cx="279.55" cy="344.5" r="1.4"/><circle cx="283.36" cy="344.83" r="1.4"/><circle cx="287.16" cy="345.16" r="1.4"/><circle cx="290.97" cy="345.51" r="1.4"/><circle cx="294.77" cy="345.89" r="1.4"/><circle cx="298.57" cy="346.3" r="1.4"/><circle cx="302.38" cy="346.84" r="1.4"/><circle cx="306.19" cy="347.51" r="1.4"/><circle cx="309.99" cy="348.18" r="1.4"/><circle cx="313.8" cy="348.72" r="1.4"/><circle cx="317.6" cy="349" r="1.4"/><circle cx="321.4" cy="349.1" r="1.4"/><circle cx="325.21" cy="349.18" r="1.4"/><circle cx="329.01" cy="349.25" r="1.4"/><circle cx="332.82" cy="349.29" r="1.4"/><circle cx="336.62" cy="349.3" r="1.4"/><circle cx="340.43" cy="349.17" r="1.4"/><circle cx="344.24" cy="348.86" r="1.4"/><circle cx="348.04" cy="348.5" r="1.4"/><circle cx="351.85" cy="348.09" r="1.4"/><circle cx="355.65" cy="347.59" r="1.4"/><circle cx="359.45" cy="347" r="1.4"/></g>
<path d="M241.5,360.7 L245.31,360.26 L249.11,359.84 L252.91,359.43 L256.72,359.06 L260.52,358.7 L264.33,358.34 L268.13,357.96 L271.94,357.61 L275.75,357.35 L279.55,357.2 L283.36,357.13 L287.16,357.08 L290.97,357.04 L294.77,357.01 L298.57,357 L302.38,357 L306.19,357 L309.99,357 L313.8,357 L317.6,357 L321.4,356.98 L325.21,356.92 L329.01,356.84 L332.82,356.77 L336.62,356.7 L340.43,356.65 L344.24,356.59 L348.04,356.54 L351.85,356.49 L355.65,356.45 L359.45,356.4" fill="none" stroke="#ee4dea" stroke-width="0.6"/>
<g fill="#ee4dea"><circle cx="241.5" cy="360.7" r="1.4"/><circle cx="245.31" cy="360.26" r="1.4"/><circle cx="249.11" cy="359.84" r="1.4"/><circle cx="252.91" cy="359.43" r="1.4"/><circle cx="256.72" cy="359.06" r="1.4"/><circle cx="260.52" cy="358.7" r="1.4"/><circle cx="264.33" cy="358.34" r="1.4"/><circle cx="268.13" cy="357.96" r="1.4"/><circle cx="271.94" cy="357.61" r="1.4"/><circle cx="275.75" cy="357.35" r="1.4"/><circle cx="279.55" cy="357.2" r="1.4"/><circle cx="283.36" cy="357.13" r="1.4"/><circle cx="287.16" cy="357.08" r="1.4"/><circle cx="290.97" cy="357.04" r="1.4"/><circle cx="294.77" cy="357.01" r="1.4"/><circle cx="298.57" cy="357" r="1.4"/><circle cx="302.38" cy="357" r="1.4"/><circle cx="306.19" cy="357" r="1.4"/><circle cx="309.99" cy="357" r="1.4"/><circle cx="313.8" cy="357" r="1.4"/><circle cx="317.6" cy="357" r="1.4"/><circle cx="321.4" cy="356.98" r="1.4"/><circle cx="325.21" cy="356.92" r="1.4"/><circle cx="329.01" cy="356.84" r="1.4"/><circle cx="332.82" cy="356.77" r="1.4"/><circle cx="336.62" cy="356.7" r="1.4"/><circle cx="340.43" cy="356.65" r="1.4"/><circle cx="344.24" cy="356.59" r="1.4"/><circle cx="348.04" cy="356.54" r="1.4"/><circle cx="351.85" cy="356.49" r="1.4"/><circle cx="355.65" cy="356.45" r="1.4"/><circle cx="359.45" cy="356.4" r="1.4"/></g>
<path d="M241.5,356.1 L245.31,355.45 L249.11,354.93 L252.91,354.6 L256.72,354.39 L260.52,354.3 L264.33,354.33 L268.13,354.42 L271.94,354.56 L275.75,354.72 L279.55,354.9 L283.36,355.18 L287.16,355.6 L290.97,356.06 L294.77,356.46 L298.57,356.7 L302.38,356.83 L306.19,356.94 L309.99,357.02 L313.8,357.08 L317.6,357.1 L321.4,357.08 L325.21,357.03 L329.01,356.96 L332.82,356.88 L336.62,356.8 L340.43,356.72 L344.24,356.63 L348.04,356.54 L351.85,356.43 L355.65,356.32 L359.45,356.2" fill="none" stroke="#12bb12" stroke-width="0.6"/>
<g fill="#12bb12"><circle cx="241.5" cy="356.1" r="1.4"/><circle cx="245.31" cy="355.45" r="1.4"/><circle cx="249.11" cy="354.93" r="1.4"/><circle cx="252.91" cy="354.6" r="1.4"/><circle cx="256.72" cy="354.39" r="1.4"/><circle cx="260.52" cy="354.3" r="1.4"/><circle cx="264.33" cy="354.33" r="1.4"/><circle cx="268.13" cy="354.42" r="1.4"/><circle cx="271.94" cy="354.56" r="1.4"/><circle cx="275.75" cy="354.72" r="1.4"/><circle cx="279.55" cy="354.9" r="1.4"/><circle cx="283.36" cy="355.18" r="1.4"/><circle cx="287.16" cy="355.6" r="1.4"/><circle cx="290.97" cy="356.06" r="1.4"/><circle cx="294.77" cy="356.46" r="1.4"/><circle cx="298.57" cy="356.7" r="1.4"/><circle cx="302.38" cy="356.83" r="1.4"/><circle cx="306.19" cy="356.94" r="1.4"/><circle cx="309.99" cy="357.02" r="1.4"/><circle cx="313.8" cy="357.08" r="1.4"/><circle cx="317.6" cy="357.1" r="1.4"/><circle cx="321.4" cy="357.08" r="1.4"/><circle cx="325.21" cy="357.03" r="1.4"/><circle cx="329.01" cy="356.96" r="1.4"/><circle cx="332.82" cy="356.88" r="1.4"/><circle cx="336.62" cy="356.8" r="1.4"/><circle cx="340.43" cy="356.72" r="1.4"/><circle cx="344.24" cy="356.63" r="1.4"/><circle cx="348.04" cy="356.54" r="1.4"/><circle cx="351.85" cy="356.43" r="1.4"/><circle cx="355.65" cy="356.32" r="1.4"/><circle cx="359.45" cy="356.2" r="1.4"/></g>
<path d="M241.5,329.9 L245.31,329.14 L249.11,328.66 L252.91,328.5 L256.72,328.66 L260.52,329 L264.33,329.51 L268.13,330.2 L271.94,330.98 L275.75,331.88 L279.55,332.8 L283.36,333.72 L287.16,334.67 L290.97,335.7 L294.77,337 L298.57,338.1 L302.38,338.69 L306.19,339.13 L309.99,339.5 L313.8,339.89 L317.6,340.1 L321.4,340.1 L325.21,340.1 L329.01,340.1 L332.82,339.95 L336.62,339.8 L340.43,339.85 L344.24,339.96 L348.04,340.1 L351.85,340.26 L355.65,340.46 L359.45,340.7" fill="none" stroke="#4a4af2" stroke-width="0.6"/>
<g fill="#4a4af2"><circle cx="241.5" cy="329.9" r="1.4"/><circle cx="245.31" cy="329.14" r="1.4"/><circle cx="249.11" cy="328.66" r="1.4"/><circle cx="252.91" cy="328.5" r="1.4"/><circle cx="256.72" cy="328.66" r="1.4"/><circle cx="260.52" cy="329" r="1.4"/><circle cx="264.33" cy="329.51" r="1.4"/><circle cx="268.13" cy="330.2" r="1.4"/><circle cx="271.94" cy="330.98" r="1.4"/><circle cx="275.75" cy="331.88" r="1.4"/><circle cx="279.55" cy="332.8" r="1.4"/><circle cx="283.36" cy="333.72" r="1.4"/><circle cx="287.16" cy="334.67" r="1.4"/><circle cx="290.97" cy="335.7" r="1.4"/><circle cx="294.77" cy="337" r="1.4"/><circle cx="298.57" cy="338.1" r="1.4"/><circle cx="302.38" cy="338.69" r="1.4"/><circle cx="306.19" cy="339.13" r="1.4"/><circle cx="309.99" cy="339.5" r="1.4"/><circle cx="313.8" cy="339.89" r="1.4"/><circle cx="317.6" cy="340.1" r="1.4"/><circle cx="321.4" cy="340.1" r="1.4"/><circle cx="325.21" cy="340.1" r="1.4"/><circle cx="329.01" cy="340.1" r="1.4"/><circle cx="332.82" cy="339.95" r="1.4"/><circle cx="336.62" cy="339.8" r="1.4"/><circle cx="340.43" cy="339.85" r="1.4"/><circle cx="344.24" cy="339.96" r="1.4"/><circle cx="348.04" cy="340.1" r="1.4"/><circle cx="351.85" cy="340.26" r="1.4"/><circle cx="355.65" cy="340.46" r="1.4"/><circle cx="359.45" cy="340.7" r="1.4"/></g>
<path d="M241.5,347.1 L245.31,346.5 L249.11,346.07 L252.91,345.9 L256.72,345.9 L260.52,345.9 L264.33,345.96 L268.13,346.1 L271.94,346.31 L275.75,346.56 L279.55,346.8 L283.36,347.07 L287.16,347.4 L290.97,347.76 L294.77,348.13 L298.57,348.5 L302.38,348.91 L306.19,349.38 L309.99,349.83 L313.8,350.19 L317.6,350.4 L321.4,350.5 L325.21,350.58 L329.01,350.64 L332.82,350.69 L336.62,350.7 L340.43,350.6 L344.24,350.37 L348.04,350.1 L351.85,349.78 L355.65,349.37 L359.45,348.9" fill="none" stroke="#f7837f" stroke-width="0.6"/>
<g fill="#f7837f"><circle cx="241.5" cy="347.1" r="1.4"/><circle cx="245.31" cy="346.5" r="1.4"/><circle cx="249.11" cy="346.07" r="1.4"/><circle cx="252.91" cy="345.9" r="1.4"/><circle cx="256.72" cy="345.9" r="1.4"/><circle cx="260.52" cy="345.9" r="1.4"/><circle cx="264.33" cy="345.96" r="1.4"/><circle cx="268.13" cy="346.1" r="1.4"/><circle cx="271.94" cy="346.31" r="1.4"/><circle cx="275.75" cy="346.56" r="1.4"/><circle cx="279.55" cy="346.8" r="1.4"/><circle cx="283.36" cy="347.07" r="1.4"/><circle cx="287.16" cy="347.4" r="1.4"/><circle cx="290.97" cy="347.76" r="1.4"/><circle cx="294.77" cy="348.13" r="1.4"/><circle cx="298.57" cy="348.5" r="1.4"/><circle cx="302.38" cy="348.91" r="1.4"/><circle cx="306.19" cy="349.38" r="1.4"/><circle cx="309.99" cy="349.83" r="1.4"/><circle cx="313.8" cy="350.19" r="1.4"/><circle cx="317.6" cy="350.4" r="1.4"/><circle cx="321.4" cy="350.5" r="1.4"/><circle cx="325.21" cy="350.58" r="1.4"/><circle cx="329.01" cy="350.64" r="1.4"/><circle cx="332.82" cy="350.69" r="1.4"/><circle cx="336.62" cy="350.7" r="1.4"/><circle cx="340.43" cy="350.6" r="1.4"/><circle cx="344.24" cy="350.37" r="1.4"/><circle cx="348.04" cy="350.1" r="1.4"/><circle cx="351.85" cy="349.78" r="1.4"/><circle cx="355.65" cy="349.37" r="1.4"/><circle cx="359.45" cy="348.9" r="1.4"/></g>
<path d="M237.5,379.5 L237.5,295.5" stroke="#777777" stroke-width="1" fill="none"/>
<path d="M237,295.5 L363.5,295.5 L363.5,379.5 L237,379.5" stroke="#777777" stroke-width="1" fill="none"/>
<line x1="234.3" x2="237" y1="379.5" y2="379.5" stroke="#6a6a6a" stroke-width="1"/>
<text transform="translate(233.6,381.83) scale(0.6400,0.6500)" font-size="10" stroke="#222" stroke-width="0.3" text-anchor="end" fill="#222">0.0</text>
<line x1="234.3" x2="237" y1="358.5" y2="358.5" stroke="#6a6a6a" stroke-width="1"/>
<text transform="translate(233.6,360.83) scale(0.6400,0.6500)" font-size="10" stroke="#222" stroke-width="0.3" text-anchor="end" fill="#222">0.2</text>
<line x1="234.3" x2="237" y1="337.5" y2="337.5" stroke="#6a6a6a" stroke-width="1"/>
<text transform="translate(233.6,339.83) scale(0.6400,0.6500)" font-size="10" stroke="#222" stroke-width="0.3" text-anchor="end" fill="#222">0.4</text>
<line x1="234.3" x2="237" y1="316.5" y2="316.5" stroke="#6a6a6a" stroke-width="1"/>
<text transform="translate(233.6,318.83) scale(0.6400,0.6500)" font-size="10" stroke="#222" stroke-width="0.3" text-anchor="end" fill="#222">0.6</text>
<line x1="234.3" x2="237" y1="295.5" y2="295.5" stroke="#6a6a6a" stroke-width="1"/>
<text transform="translate(233.6,297.83) scale(0.6400,0.6500)" font-size="10" stroke="#222" stroke-width="0.3" text-anchor="end" fill="#222">0.8</text>
<line x1="241.5" x2="241.5" y1="380" y2="382.7" stroke="#6a6a6a" stroke-width="1"/>
<text transform="translate(241.5,390) scale(0.6400,0.6500)" font-size="10" stroke="#222" stroke-width="0.3" text-anchor="middle" fill="#222">1990</text>
<line x1="279.55" x2="279.55" y1="380" y2="382.7" stroke="#6a6a6a" stroke-width="1"/>
<text transform="translate(279.55,390) scale(0.6400,0.6500)" font-size="10" stroke="#222" stroke-width="0.3" text-anchor="middle" fill="#222">2000</text>
<line x1="317.6" x2="317.6" y1="380" y2="382.7" stroke="#6a6a6a" stroke-width="1"/>
<text transform="translate(317.6,390) scale(0.6400,0.6500)" font-size="10" stroke="#222" stroke-width="0.3" text-anchor="middle" fill="#222">2010</text>
<line x1="355.65" x2="355.65" y1="380" y2="382.7" stroke="#6a6a6a" stroke-width="1"/>
<text transform="translate(355.65,390) scale(0.6400,0.6500)" font-size="10" stroke="#222" stroke-width="0.3" text-anchor="middle" fill="#222">2020</text>
<text transform="translate(300.5,400) scale(0.7000,0.6800)" font-size="10" stroke="#222" stroke-width="0.3" text-anchor="middle" fill="#222">Year</text>
<text transform="translate(300.5,284.9) scale(0.8150,0.8700)" font-size="10" font-weight="bold" stroke="#000" stroke-width="0.2" text-anchor="middle" fill="#000">Gonococcal infection</text>
<text transform="translate(209,285) scale(0.9700,1.0400)" font-size="10" font-weight="bold" stroke="#000" stroke-width="0.2" fill="#000">F</text>
<text transform="translate(219.71,337.5) rotate(-90) scale(0.7100,0.7000)" font-size="10" stroke="#222" stroke-width="0.3" text-anchor="middle" fill="#222">ASYR per 100,000</text>
<rect x="40" y="443" width="125" height="83" fill="#dddddd"/>
<rect x="39" y="443" width="1" height="83" fill="#9c9c9c"/>
<rect x="40" y="443" width="1" height="83" fill="#c0c0c0"/>
<rect x="41" y="443" width="1" height="83" fill="#d4d4d4"/>
<line x1="40" x2="165" y1="509.7" y2="509.7" stroke="#e7e7e7" stroke-width="1"/>
<line x1="40" x2="165" y1="492.9" y2="492.9" stroke="#e7e7e7" stroke-width="1"/>
<line x1="40" x2="165" y1="476.1" y2="476.1" stroke="#e7e7e7" stroke-width="1"/>
<line x1="40" x2="165" y1="459.3" y2="459.3" stroke="#e7e7e7" stroke-width="1"/>
<line x1="43.5" x2="43.5" y1="443" y2="526" stroke="#e7e7e7" stroke-width="1"/>
<line x1="81.55" x2="81.55" y1="443" y2="526" stroke="#e7e7e7" stroke-width="1"/>
<line x1="119.6" x2="119.6" y1="443" y2="526" stroke="#e7e7e7" stroke-width="1"/>
<line x1="157.65" x2="157.65" y1="443" y2="526" stroke="#e7e7e7" stroke-width="1"/>
<path d="M43.5,453.7 L47.3,454.2 L51.11,454.77 L54.91,455.4 L58.72,456.14 L62.53,456.9 L66.33,457.59 L70.14,458.27 L73.94,458.92 L77.75,459.54 L81.55,460.1 L85.36,460.59 L89.16,461.01 L92.97,461.42 L96.77,461.87 L100.58,462.4 L104.38,463.06 L108.19,463.85 L111.99,464.7 L115.8,465.7 L119.6,466.7 L123.41,467.6 L127.21,468.2 L131.01,468.41 L134.82,468.5 L138.62,468.2 L142.43,467.51 L146.24,466.7 L150.04,465.99 L153.84,465.6 L157.65,465.72 L161.45,466.2" fill="none" stroke="#4f4f4f" stroke-width="0.6"/>
<g fill="#4f4f4f"><circle cx="43.5" cy="453.7" r="1.4"/><circle cx="47.3" cy="454.2" r="1.4"/><circle cx="51.11" cy="454.77" r="1.4"/><circle cx="54.91" cy="455.4" r="1.4"/><circle cx="58.72" cy="456.14" r="1.4"/><circle cx="62.53" cy="456.9" r="1.4"/><circle cx="66.33" cy="457.59" r="1.4"/><circle cx="70.14" cy="458.27" r="1.4"/><circle cx="73.94" cy="458.92" r="1.4"/><circle cx="77.75" cy="459.54" r="1.4"/><circle cx="81.55" cy="460.1" r="1.4"/><circle cx="85.36" cy="460.59" r="1.4"/><circle cx="89.16" cy="461.01" r="1.4"/><circle cx="92.97" cy="461.42" r="1.4"/><circle cx="96.77" cy="461.87" r="1.4"/><circle cx="100.58" cy="462.4" r="1.4"/><circle cx="104.38" cy="463.06" r="1.4"/><circle cx="108.19" cy="463.85" r="1.4"/><circle cx="111.99" cy="464.7" r="1.4"/><circle cx="115.8" cy="465.7" r="1.4"/><circle cx="119.6" cy="466.7" r="1.4"/><circle cx="123.41" cy="467.6" r="1.4"/><circle cx="127.21" cy="468.2" r="1.4"/><circle cx="131.01" cy="468.41" r="1.4"/><circle cx="134.82" cy="468.5" r="1.4"/><circle cx="138.62" cy="468.2" r="1.4"/><circle cx="142.43" cy="467.51" r="1.4"/><circle cx="146.24" cy="466.7" r="1.4"/><circle cx="150.04" cy="465.99" r="1.4"/><circle cx="153.84" cy="465.6" r="1.4"/><circle cx="157.65" cy="465.72" r="1.4"/><circle cx="161.45" cy="466.2" r="1.4"/></g>
<path d="M43.5,457.2 L47.3,457.94 L51.11,458.7 L54.91,459.5 L58.72,460.36 L62.53,461.2 L66.33,461.97 L70.14,462.73 L73.94,463.44 L77.75,464.11 L81.55,464.7 L85.36,465.19 L89.16,465.58 L92.97,465.97 L96.77,466.42 L100.58,467 L104.38,467.94 L108.19,469.1 L111.99,470.26 L115.8,471.49 L119.6,472.8 L123.41,474.37 L127.21,475.8 L131.01,476.92 L134.82,477.5 L138.62,477.2 L142.43,476.44 L146.24,475.5 L150.04,474.61 L153.84,474 L157.65,473.79 L161.45,473.7" fill="none" stroke="#8a7a38" stroke-width="0.6"/>
<g fill="#8a7a38"><circle cx="43.5" cy="457.2" r="1.4"/><circle cx="47.3" cy="457.94" r="1.4"/><circle cx="51.11" cy="458.7" r="1.4"/><circle cx="54.91" cy="459.5" r="1.4"/><circle cx="58.72" cy="460.36" r="1.4"/><circle cx="62.53" cy="461.2" r="1.4"/><circle cx="66.33" cy="461.97" r="1.4"/><circle cx="70.14" cy="462.73" r="1.4"/><circle cx="73.94" cy="463.44" r="1.4"/><circle cx="77.75" cy="464.11" r="1.4"/><circle cx="81.55" cy="464.7" r="1.4"/><circle cx="85.36" cy="465.19" r="1.4"/><circle cx="89.16" cy="465.58" r="1.4"/><circle cx="92.97" cy="465.97" r="1.4"/><circle cx="96.77" cy="466.42" r="1.4"/><circle cx="100.58" cy="467" r="1.4"/><circle cx="104.38" cy="467.94" r="1.4"/><circle cx="108.19" cy="469.1" r="1.4"/><circle cx="111.99" cy="470.26" r="1.4"/><circle cx="115.8" cy="471.49" r="1.4"/><circle cx="119.6" cy="472.8" r="1.4"/><circle cx="123.41" cy="474.37" r="1.4"/><circle cx="127.21" cy="475.8" r="1.4"/><circle cx="131.01" cy="476.92" r="1.4"/><circle cx="134.82" cy="477.5" r="1.4"/><circle cx="138.62" cy="477.2" r="1.4"/><circle cx="142.43" cy="476.44" r="1.4"/><circle cx="146.24" cy="475.5" r="1.4"/><circle cx="150.04" cy="474.61" r="1.4"/><circle cx="153.84" cy="474" r="1.4"/><circle cx="157.65" cy="473.79" r="1.4"/><circle cx="161.45" cy="473.7" r="1.4"/></g>
<path d="M43.5,498.1 L47.3,498.25 L51.11,498.38 L54.91,498.5 L58.72,498.61 L62.53,498.7 L66.33,498.77 L70.14,498.83 L73.94,498.89 L77.75,498.94 L81.55,499 L85.36,499.05 L89.16,499.1 L92.97,499.15 L96.77,499.21 L100.58,499.3 L104.38,499.49 L108.19,499.81 L111.99,500.2 L115.8,500.7 L119.6,501.3 L123.41,502.12 L127.21,502.99 L131.01,503.4 L134.82,503.4 L138.62,503.4 L142.43,503.29 L146.24,503.04 L150.04,502.8 L153.84,502.6 L157.65,502.4 L161.45,502.2" fill="none" stroke="#ee4dea" stroke-width="0.6"/>
<g fill="#ee4dea"><circle cx="43.5" cy="498.1" r="1.4"/><circle cx="47.3" cy="498.25" r="1.4"/><circle cx="51.11" cy="498.38" r="1.4"/><circle cx="54.91" cy="498.5" r="1.4"/><circle cx="58.72" cy="498.61" r="1.4"/><circle cx="62.53" cy="498.7" r="1.4"/><circle cx="66.33" cy="498.77" r="1.4"/><circle cx="70.14" cy="498.83" r="1.4"/><circle cx="73.94" cy="498.89" r="1.4"/><circle cx="77.75" cy="498.94" r="1.4"/><circle cx="81.55" cy="499" r="1.4"/><circle cx="85.36" cy="499.05" r="1.4"/><circle cx="89.16" cy="499.1" r="1.4"/><circle cx="92.97" cy="499.15" r="1.4"/><circle cx="96.77" cy="499.21" r="1.4"/><circle cx="100.58" cy="499.3" r="1.4"/><circle cx="104.38" cy="499.49" r="1.4"/><circle cx="108.19" cy="499.81" r="1.4"/><circle cx="111.99" cy="500.2" r="1.4"/><circle cx="115.8" cy="500.7" r="1.4"/><circle cx="119.6" cy="501.3" r="1.4"/><circle cx="123.41" cy="502.12" r="1.4"/><circle cx="127.21" cy="502.99" r="1.4"/><circle cx="131.01" cy="503.4" r="1.4"/><circle cx="134.82" cy="503.4" r="1.4"/><circle cx="138.62" cy="503.4" r="1.4"/><circle cx="142.43" cy="503.29" r="1.4"/><circle cx="146.24" cy="503.04" r="1.4"/><circle cx="150.04" cy="502.8" r="1.4"/><circle cx="153.84" cy="502.6" r="1.4"/><circle cx="157.65" cy="502.4" r="1.4"/><circle cx="161.45" cy="502.2" r="1.4"/></g>
<path d="M43.5,519.1 L47.3,519.1 L51.11,519.1 L54.91,519.1 L58.72,519.1 L62.53,519.1 L66.33,519.13 L70.14,519.21 L73.94,519.29 L77.75,519.37 L81.55,519.4 L85.36,519.4 L89.16,519.4 L92.97,519.4 L96.77,519.4 L100.58,519.4 L104.38,519.43 L108.19,519.51 L111.99,519.59 L115.8,519.67 L119.6,519.7 L123.41,519.7 L127.21,519.7 L131.01,519.7 L134.82,519.7 L138.62,519.7 L142.43,519.69 L146.24,519.66 L150.04,519.61 L153.84,519.55 L157.65,519.48 L161.45,519.4" fill="none" stroke="#12bb12" stroke-width="0.6"/>
<g fill="#12bb12"><circle cx="43.5" cy="519.1" r="1.4"/><circle cx="47.3" cy="519.1" r="1.4"/><circle cx="51.11" cy="519.1" r="1.4"/><circle cx="54.91" cy="519.1" r="1.4"/><circle cx="58.72" cy="519.1" r="1.4"/><circle cx="62.53" cy="519.1" r="1.4"/><circle cx="66.33" cy="519.13" r="1.4"/><circle cx="70.14" cy="519.21" r="1.4"/><circle cx="73.94" cy="519.29" r="1.4"/><circle cx="77.75" cy="519.37" r="1.4"/><circle cx="81.55" cy="519.4" r="1.4"/><circle cx="85.36" cy="519.4" r="1.4"/><circle cx="89.16" cy="519.4" r="1.4"/><circle cx="92.97" cy="519.4" r="1.4"/><circle cx="96.77" cy="519.4" r="1.4"/><circle cx="100.58" cy="519.4" r="1.4"/><circle cx="104.38" cy="519.43" r="1.4"/><circle cx="108.19" cy="519.51" r="1.4"/><circle cx="111.99" cy="519.59" r="1.4"/><circle cx="115.8" cy="519.67" r="1.4"/><circle cx="119.6" cy="519.7" r="1.4"/><circle cx="123.41" cy="519.7" r="1.4"/><circle cx="127.21" cy="519.7" r="1.4"/><circle cx="131.01" cy="519.7" r="1.4"/><circle cx="134.82" cy="519.7" r="1.4"/><circle cx="138.62" cy="519.7" r="1.4"/><circle cx="142.43" cy="519.69" r="1.4"/><circle cx="146.24" cy="519.66" r="1.4"/><circle cx="150.04" cy="519.61" r="1.4"/><circle cx="153.84" cy="519.55" r="1.4"/><circle cx="157.65" cy="519.48" r="1.4"/><circle cx="161.45" cy="519.4" r="1.4"/></g>
<path d="M43.5,517.3 L47.3,517.03 L51.11,516.81 L54.91,516.64 L58.72,516.54 L62.53,516.5 L66.33,516.53 L70.14,516.61 L73.94,516.73 L77.75,516.87 L81.55,517 L85.36,517.14 L89.16,517.31 L92.97,517.5 L96.77,517.7 L100.58,517.9 L104.38,518.14 L108.19,518.42 L111.99,518.71 L115.8,518.95 L119.6,519.1 L123.41,519.19 L127.21,519.27 L131.01,519.34 L134.82,519.38 L138.62,519.4 L142.43,519.38 L146.24,519.33 L150.04,519.24 L153.84,519.12 L157.65,518.97 L161.45,518.8" fill="none" stroke="#4a4af2" stroke-width="0.6"/>
<g fill="#4a4af2"><circle cx="43.5" cy="517.3" r="1.4"/><circle cx="47.3" cy="517.03" r="1.4"/><circle cx="51.11" cy="516.81" r="1.4"/><circle cx="54.91" cy="516.64" r="1.4"/><circle cx="58.72" cy="516.54" r="1.4"/><circle cx="62.53" cy="516.5" r="1.4"/><circle cx="66.33" cy="516.53" r="1.4"/><circle cx="70.14" cy="516.61" r="1.4"/><circle cx="73.94" cy="516.73" r="1.4"/><circle cx="77.75" cy="516.87" r="1.4"/><circle cx="81.55" cy="517" r="1.4"/><circle cx="85.36" cy="517.14" r="1.4"/><circle cx="89.16" cy="517.31" r="1.4"/><circle cx="92.97" cy="517.5" r="1.4"/><circle cx="96.77" cy="517.7" r="1.4"/><circle cx="100.58" cy="517.9" r="1.4"/><circle cx="104.38" cy="518.14" r="1.4"/><circle cx="108.19" cy="518.42" r="1.4"/><circle cx="111.99" cy="518.71" r="1.4"/><circle cx="115.8" cy="518.95" r="1.4"/><circle cx="119.6" cy="519.1" r="1.4"/><circle cx="123.41" cy="519.19" r="1.4"/><circle cx="127.21" cy="519.27" r="1.4"/><circle cx="131.01" cy="519.34" r="1.4"/><circle cx="134.82" cy="519.38" r="1.4"/><circle cx="138.62" cy="519.4" r="1.4"/><circle cx="142.43" cy="519.38" r="1.4"/><circle cx="146.24" cy="519.33" r="1.4"/><circle cx="150.04" cy="519.24" r="1.4"/><circle cx="153.84" cy="519.12" r="1.4"/><circle cx="157.65" cy="518.97" r="1.4"/><circle cx="161.45" cy="518.8" r="1.4"/></g>
<path d="M43.5,493.8 L47.3,493.86 L51.11,493.92 L54.91,493.98 L58.72,494.04 L62.53,494.1 L66.33,494.16 L70.14,494.22 L73.94,494.28 L77.75,494.34 L81.55,494.4 L85.36,494.45 L89.16,494.5 L92.97,494.56 L96.77,494.62 L100.58,494.7 L104.38,494.81 L108.19,494.97 L111.99,495.2 L115.8,495.75 L119.6,496.4 L123.41,496.87 L127.21,497.33 L131.01,497.67 L134.82,497.8 L138.62,497.65 L142.43,497.3 L146.24,496.44 L150.04,495.5 L153.84,494.99 L157.65,494.59 L161.45,494.4" fill="none" stroke="#f7837f" stroke-width="0.6"/>
<g fill="#f7837f"><circle cx="43.5" cy="493.8" r="1.4"/><circle cx="47.3" cy="493.86" r="1.4"/><circle cx="51.11" cy="493.92" r="1.4"/><circle cx="54.91" cy="493.98" r="1.4"/><circle cx="58.72" cy="494.04" r="1.4"/><circle cx="62.53" cy="494.1" r="1.4"/><circle cx="66.33" cy="494.16" r="1.4"/><circle cx="70.14" cy="494.22" r="1.4"/><circle cx="73.94" cy="494.28" r="1.4"/><circle cx="77.75" cy="494.34" r="1.4"/><circle cx="81.55" cy="494.4" r="1.4"/><circle cx="85.36" cy="494.45" r="1.4"/><circle cx="89.16" cy="494.5" r="1.4"/><circle cx="92.97" cy="494.56" r="1.4"/><circle cx="96.77" cy="494.62" r="1.4"/><circle cx="100.58" cy="494.7" r="1.4"/><circle cx="104.38" cy="494.81" r="1.4"/><circle cx="108.19" cy="494.97" r="1.4"/><circle cx="111.99" cy="495.2" r="1.4"/><circle cx="115.8" cy="495.75" r="1.4"/><circle cx="119.6" cy="496.4" r="1.4"/><circle cx="123.41" cy="496.87" r="1.4"/><circle cx="127.21" cy="497.33" r="1.4"/><circle cx="131.01" cy="497.67" r="1.4"/><circle cx="134.82" cy="497.8" r="1.4"/><circle cx="138.62" cy="497.65" r="1.4"/><circle cx="142.43" cy="497.3" r="1.4"/><circle cx="146.24" cy="496.44" r="1.4"/><circle cx="150.04" cy="495.5" r="1.4"/><circle cx="153.84" cy="494.99" r="1.4"/><circle cx="157.65" cy="494.59" r="1.4"/><circle cx="161.45" cy="494.4" r="1.4"/></g>
<path d="M39.5,526.5 L39.5,442.5" stroke="#9c9c9c" stroke-width="1" fill="none"/>
<path d="M39,442.5 L165.5,442.5 L165.5,526.5 L39,526.5" stroke="#777777" stroke-width="1" fill="none"/>
<line x1="36.3" x2="39" y1="526.5" y2="526.5" stroke="#6a6a6a" stroke-width="1"/>
<text transform="translate(36,528.83) scale(0.6400,0.6500)" font-size="10" stroke="#222" stroke-width="0.3" text-anchor="end" fill="#222">0</text>
<line x1="36.3" x2="39" y1="509.7" y2="509.7" stroke="#6a6a6a" stroke-width="1"/>
<text transform="translate(36,512.03) scale(0.6400,0.6500)" font-size="10" stroke="#222" stroke-width="0.3" text-anchor="end" fill="#222">20</text>
<line x1="36.3" x2="39" y1="492.9" y2="492.9" stroke="#6a6a6a" stroke-width="1"/>
<text transform="translate(36,495.23) scale(0.6400,0.6500)" font-size="10" stroke="#222" stroke-width="0.3" text-anchor="end" fill="#222">40</text>
<line x1="36.3" x2="39" y1="476.1" y2="476.1" stroke="#6a6a6a" stroke-width="1"/>
<text transform="translate(36,478.43) scale(0.6400,0.6500)" font-size="10" stroke="#222" stroke-width="0.3" text-anchor="end" fill="#222">60</text>
<line x1="36.3" x2="39" y1="459.3" y2="459.3" stroke="#6a6a6a" stroke-width="1"/>
<text transform="translate(36,461.63) scale(0.6400,0.6500)" font-size="10" stroke="#222" stroke-width="0.3" text-anchor="end" fill="#222">80</text>
<line x1="36.3" x2="39" y1="442.5" y2="442.5" stroke="#6a6a6a" stroke-width="1"/>
<text transform="translate(36,444.83) scale(0.6400,0.6500)" font-size="10" stroke="#222" stroke-width="0.3" text-anchor="end" fill="#222">100</text>
<line x1="43.5" x2="43.5" y1="527" y2="529.7" stroke="#6a6a6a" stroke-width="1"/>
<text transform="translate(43.5,537) scale(0.6400,0.6500)" font-size="10" stroke="#222" stroke-width="0.3" text-anchor="middle" fill="#222">1990</text>
<line x1="81.55" x2="81.55" y1="527" y2="529.7" stroke="#6a6a6a" stroke-width="1"/>
<text transform="translate(81.55,537) scale(0.6400,0.6500)" font-size="10" stroke="#222" stroke-width="0.3" text-anchor="middle" fill="#222">2000</text>
<line x1="119.6" x2="119.6" y1="527" y2="529.7" stroke="#6a6a6a" stroke-width="1"/>
<text transform="translate(119.6,537) scale(0.6400,0.6500)" font-size="10" stroke="#222" stroke-width="0.3" text-anchor="middle" fill="#222">2010</text>
<line x1="157.65" x2="157.65" y1="527" y2="529.7" stroke="#6a6a6a" stroke-width="1"/>
<text transform="translate(157.65,537) scale(0.6400,0.6500)" font-size="10" stroke="#222" stroke-width="0.3" text-anchor="middle" fill="#222">2020</text>
<text transform="translate(102.5,547) scale(0.7000,0.6800)" font-size="10" stroke="#222" stroke-width="0.3" text-anchor="middle" fill="#222">Year</text>
<text transform="translate(102.5,421.6) scale(0.8150,0.8700)" font-size="10" font-weight="bold" stroke="#000" stroke-width="0.2" text-anchor="middle" fill="#000">Maternal sepsis and</text>
<text transform="translate(102.5,431.4) scale(0.8150,0.8700)" font-size="10" font-weight="bold" stroke="#000" stroke-width="0.2" text-anchor="middle" fill="#000">other maternal infections</text>
<text transform="translate(2.4,432) scale(0.9700,1.0400)" font-size="10" font-weight="bold" stroke="#000" stroke-width="0.2" fill="#000">G</text>
<text transform="translate(20.21,484.5) rotate(-90) scale(0.7100,0.7000)" font-size="10" stroke="#222" stroke-width="0.3" text-anchor="middle" fill="#222">ASPR per 100,000</text>
<rect x="238" y="443" width="125" height="83" fill="#dddddd"/>
<rect x="238" y="443" width="1" height="83" fill="#d6d6d6"/>
<rect x="239" y="443" width="1" height="83" fill="#dfdfdf"/>
<rect x="240" y="443" width="1" height="83" fill="#dfdfdf"/>
<line x1="238" x2="363" y1="509.7" y2="509.7" stroke="#e7e7e7" stroke-width="1"/>
<line x1="238" x2="363" y1="492.9" y2="492.9" stroke="#e7e7e7" stroke-width="1"/>
<line x1="238" x2="363" y1="476.1" y2="476.1" stroke="#e7e7e7" stroke-width="1"/>
<line x1="238" x2="363" y1="459.3" y2="459.3" stroke="#e7e7e7" stroke-width="1"/>
<line x1="241.5" x2="241.5" y1="443" y2="526" stroke="#e7e7e7" stroke-width="1"/>
<line x1="279.55" x2="279.55" y1="443" y2="526" stroke="#e7e7e7" stroke-width="1"/>
<line x1="317.6" x2="317.6" y1="443" y2="526" stroke="#e7e7e7" stroke-width="1"/>
<line x1="355.65" x2="355.65" y1="443" y2="526" stroke="#e7e7e7" stroke-width="1"/>
<path d="M241.5,452.8 L245.31,453.3 L249.11,453.87 L252.91,454.5 L256.72,455.24 L260.52,456 L264.33,456.7 L268.13,457.39 L271.94,458.05 L275.75,458.66 L279.55,459.2 L283.36,459.64 L287.16,460 L290.97,460.34 L294.77,460.73 L298.57,461.2 L302.38,461.84 L306.19,462.63 L309.99,463.5 L313.8,464.56 L317.6,465.6 L321.4,466.41 L325.21,467 L329.01,467.41 L332.82,467.6 L336.62,467.3 L340.43,466.54 L344.24,465.6 L348.04,464.65 L351.85,464.1 L355.65,464.29 L359.45,465" fill="none" stroke="#4f4f4f" stroke-width="0.6"/>
<g fill="#4f4f4f"><circle cx="241.5" cy="452.8" r="1.4"/><circle cx="245.31" cy="453.3" r="1.4"/><circle cx="249.11" cy="453.87" r="1.4"/><circle cx="252.91" cy="454.5" r="1.4"/><circle cx="256.72" cy="455.24" r="1.4"/><circle cx="260.52" cy="456" r="1.4"/><circle cx="264.33" cy="456.7" r="1.4"/><circle cx="268.13" cy="457.39" r="1.4"/><circle cx="271.94" cy="458.05" r="1.4"/><circle cx="275.75" cy="458.66" r="1.4"/><circle cx="279.55" cy="459.2" r="1.4"/><circle cx="283.36" cy="459.64" r="1.4"/><circle cx="287.16" cy="460" r="1.4"/><circle cx="290.97" cy="460.34" r="1.4"/><circle cx="294.77" cy="460.73" r="1.4"/><circle cx="298.57" cy="461.2" r="1.4"/><circle cx="302.38" cy="461.84" r="1.4"/><circle cx="306.19" cy="462.63" r="1.4"/><circle cx="309.99" cy="463.5" r="1.4"/><circle cx="313.8" cy="464.56" r="1.4"/><circle cx="317.6" cy="465.6" r="1.4"/><circle cx="321.4" cy="466.41" r="1.4"/><circle cx="325.21" cy="467" r="1.4"/><circle cx="329.01" cy="467.41" r="1.4"/><circle cx="332.82" cy="467.6" r="1.4"/><circle cx="336.62" cy="467.3" r="1.4"/><circle cx="340.43" cy="466.54" r="1.4"/><circle cx="344.24" cy="465.6" r="1.4"/><circle cx="348.04" cy="464.65" r="1.4"/><circle cx="351.85" cy="464.1" r="1.4"/><circle cx="355.65" cy="464.29" r="1.4"/><circle cx="359.45" cy="465" r="1.4"/></g>
<path d="M241.5,456 L245.31,456.68 L249.11,457.45 L252.91,458.3 L256.72,459.32 L260.52,460.3 L264.33,461.07 L268.13,461.76 L271.94,462.4 L275.75,462.97 L279.55,463.5 L283.36,463.94 L287.16,464.3 L290.97,464.65 L294.77,465.06 L298.57,465.6 L302.38,466.46 L306.19,467.6 L309.99,468.96 L313.8,470.51 L317.6,472 L321.4,473.36 L325.21,474.6 L329.01,475.88 L332.82,476.6 L336.62,476.3 L340.43,475.7 L344.24,474.9 L348.04,473.87 L351.85,473.1 L355.65,472.89 L359.45,472.8" fill="none" stroke="#8a7a38" stroke-width="0.6"/>
<g fill="#8a7a38"><circle cx="241.5" cy="456" r="1.4"/><circle cx="245.31" cy="456.68" r="1.4"/><circle cx="249.11" cy="457.45" r="1.4"/><circle cx="252.91" cy="458.3" r="1.4"/><circle cx="256.72" cy="459.32" r="1.4"/><circle cx="260.52" cy="460.3" r="1.4"/><circle cx="264.33" cy="461.07" r="1.4"/><circle cx="268.13" cy="461.76" r="1.4"/><circle cx="271.94" cy="462.4" r="1.4"/><circle cx="275.75" cy="462.97" r="1.4"/><circle cx="279.55" cy="463.5" r="1.4"/><circle cx="283.36" cy="463.94" r="1.4"/><circle cx="287.16" cy="464.3" r="1.4"/><circle cx="290.97" cy="464.65" r="1.4"/><circle cx="294.77" cy="465.06" r="1.4"/><circle cx="298.57" cy="465.6" r="1.4"/><circle cx="302.38" cy="466.46" r="1.4"/><circle cx="306.19" cy="467.6" r="1.4"/><circle cx="309.99" cy="468.96" r="1.4"/><circle cx="313.8" cy="470.51" r="1.4"/><circle cx="317.6" cy="472" r="1.4"/><circle cx="321.4" cy="473.36" r="1.4"/><circle cx="325.21" cy="474.6" r="1.4"/><circle cx="329.01" cy="475.88" r="1.4"/><circle cx="332.82" cy="476.6" r="1.4"/><circle cx="336.62" cy="476.3" r="1.4"/><circle cx="340.43" cy="475.7" r="1.4"/><circle cx="344.24" cy="474.9" r="1.4"/><circle cx="348.04" cy="473.87" r="1.4"/><circle cx="351.85" cy="473.1" r="1.4"/><circle cx="355.65" cy="472.89" r="1.4"/><circle cx="359.45" cy="472.8" r="1.4"/></g>
<path d="M241.5,497.6 L245.31,497.8 L249.11,497.99 L252.91,498.16 L256.72,498.29 L260.52,498.4 L264.33,498.49 L268.13,498.57 L271.94,498.64 L275.75,498.68 L279.55,498.7 L283.36,498.7 L287.16,498.7 L290.97,498.7 L294.77,498.7 L298.57,498.7 L302.38,498.91 L306.19,499.38 L309.99,499.9 L313.8,500.41 L317.6,501 L321.4,501.76 L325.21,502.59 L329.01,503.1 L332.82,503.31 L336.62,503.4 L340.43,503.22 L344.24,502.84 L348.04,502.5 L351.85,502.27 L355.65,502.07 L359.45,501.9" fill="none" stroke="#ee4dea" stroke-width="0.6"/>
<g fill="#ee4dea"><circle cx="241.5" cy="497.6" r="1.4"/><circle cx="245.31" cy="497.8" r="1.4"/><circle cx="249.11" cy="497.99" r="1.4"/><circle cx="252.91" cy="498.16" r="1.4"/><circle cx="256.72" cy="498.29" r="1.4"/><circle cx="260.52" cy="498.4" r="1.4"/><circle cx="264.33" cy="498.49" r="1.4"/><circle cx="268.13" cy="498.57" r="1.4"/><circle cx="271.94" cy="498.64" r="1.4"/><circle cx="275.75" cy="498.68" r="1.4"/><circle cx="279.55" cy="498.7" r="1.4"/><circle cx="283.36" cy="498.7" r="1.4"/><circle cx="287.16" cy="498.7" r="1.4"/><circle cx="290.97" cy="498.7" r="1.4"/><circle cx="294.77" cy="498.7" r="1.4"/><circle cx="298.57" cy="498.7" r="1.4"/><circle cx="302.38" cy="498.91" r="1.4"/><circle cx="306.19" cy="499.38" r="1.4"/><circle cx="309.99" cy="499.9" r="1.4"/><circle cx="313.8" cy="500.41" r="1.4"/><circle cx="317.6" cy="501" r="1.4"/><circle cx="321.4" cy="501.76" r="1.4"/><circle cx="325.21" cy="502.59" r="1.4"/><circle cx="329.01" cy="503.1" r="1.4"/><circle cx="332.82" cy="503.31" r="1.4"/><circle cx="336.62" cy="503.4" r="1.4"/><circle cx="340.43" cy="503.22" r="1.4"/><circle cx="344.24" cy="502.84" r="1.4"/><circle cx="348.04" cy="502.5" r="1.4"/><circle cx="351.85" cy="502.27" r="1.4"/><circle cx="355.65" cy="502.07" r="1.4"/><circle cx="359.45" cy="501.9" r="1.4"/></g>
<path d="M241.5,519.1 L245.31,519.13 L249.11,519.16 L252.91,519.19 L256.72,519.22 L260.52,519.25 L264.33,519.28 L268.13,519.31 L271.94,519.34 L275.75,519.37 L279.55,519.4 L283.36,519.43 L287.16,519.47 L290.97,519.51 L294.77,519.55 L298.57,519.59 L302.38,519.62 L306.19,519.65 L309.99,519.68 L313.8,519.69 L317.6,519.7 L321.4,519.7 L325.21,519.69 L329.01,519.68 L332.82,519.66 L336.62,519.64 L340.43,519.61 L344.24,519.58 L348.04,519.55 L351.85,519.5 L355.65,519.45 L359.45,519.4" fill="none" stroke="#12bb12" stroke-width="0.6"/>
<g fill="#12bb12"><circle cx="241.5" cy="519.1" r="1.4"/><circle cx="245.31" cy="519.13" r="1.4"/><circle cx="249.11" cy="519.16" r="1.4"/><circle cx="252.91" cy="519.19" r="1.4"/><circle cx="256.72" cy="519.22" r="1.4"/><circle cx="260.52" cy="519.25" r="1.4"/><circle cx="264.33" cy="519.28" r="1.4"/><circle cx="268.13" cy="519.31" r="1.4"/><circle cx="271.94" cy="519.34" r="1.4"/><circle cx="275.75" cy="519.37" r="1.4"/><circle cx="279.55" cy="519.4" r="1.4"/><circle cx="283.36" cy="519.43" r="1.4"/><circle cx="287.16" cy="519.47" r="1.4"/><circle cx="290.97" cy="519.51" r="1.4"/><circle cx="294.77" cy="519.55" r="1.4"/><circle cx="298.57" cy="519.59" r="1.4"/><circle cx="302.38" cy="519.62" r="1.4"/><circle cx="306.19" cy="519.65" r="1.4"/><circle cx="309.99" cy="519.68" r="1.4"/><circle cx="313.8" cy="519.69" r="1.4"/><circle cx="317.6" cy="519.7" r="1.4"/><circle cx="321.4" cy="519.7" r="1.4"/><circle cx="325.21" cy="519.69" r="1.4"/><circle cx="329.01" cy="519.68" r="1.4"/><circle cx="332.82" cy="519.66" r="1.4"/><circle cx="336.62" cy="519.64" r="1.4"/><circle cx="340.43" cy="519.61" r="1.4"/><circle cx="344.24" cy="519.58" r="1.4"/><circle cx="348.04" cy="519.55" r="1.4"/><circle cx="351.85" cy="519.5" r="1.4"/><circle cx="355.65" cy="519.45" r="1.4"/><circle cx="359.45" cy="519.4" r="1.4"/></g>
<path d="M241.5,517.3 L245.31,517.05 L249.11,516.83 L252.91,516.66 L256.72,516.54 L260.52,516.5 L264.33,516.51 L268.13,516.54 L271.94,516.58 L275.75,516.64 L279.55,516.7 L283.36,516.8 L287.16,516.97 L290.97,517.17 L294.77,517.39 L298.57,517.6 L302.38,517.83 L306.19,518.09 L309.99,518.36 L313.8,518.61 L317.6,518.8 L321.4,518.96 L325.21,519.13 L329.01,519.27 L332.82,519.36 L336.62,519.4 L340.43,519.39 L344.24,519.34 L348.04,519.26 L351.85,519.15 L355.65,519 L359.45,518.8" fill="none" stroke="#4a4af2" stroke-width="0.6"/>
<g fill="#4a4af2"><circle cx="241.5" cy="517.3" r="1.4"/><circle cx="245.31" cy="517.05" r="1.4"/><circle cx="249.11" cy="516.83" r="1.4"/><circle cx="252.91" cy="516.66" r="1.4"/><circle cx="256.72" cy="516.54" r="1.4"/><circle cx="260.52" cy="516.5" r="1.4"/><circle cx="264.33" cy="516.51" r="1.4"/><circle cx="268.13" cy="516.54" r="1.4"/><circle cx="271.94" cy="516.58" r="1.4"/><circle cx="275.75" cy="516.64" r="1.4"/><circle cx="279.55" cy="516.7" r="1.4"/><circle cx="283.36" cy="516.8" r="1.4"/><circle cx="287.16" cy="516.97" r="1.4"/><circle cx="290.97" cy="517.17" r="1.4"/><circle cx="294.77" cy="517.39" r="1.4"/><circle cx="298.57" cy="517.6" r="1.4"/><circle cx="302.38" cy="517.83" r="1.4"/><circle cx="306.19" cy="518.09" r="1.4"/><circle cx="309.99" cy="518.36" r="1.4"/><circle cx="313.8" cy="518.61" r="1.4"/><circle cx="317.6" cy="518.8" r="1.4"/><circle cx="321.4" cy="518.96" r="1.4"/><circle cx="325.21" cy="519.13" r="1.4"/><circle cx="329.01" cy="519.27" r="1.4"/><circle cx="332.82" cy="519.36" r="1.4"/><circle cx="336.62" cy="519.4" r="1.4"/><circle cx="340.43" cy="519.39" r="1.4"/><circle cx="344.24" cy="519.34" r="1.4"/><circle cx="348.04" cy="519.26" r="1.4"/><circle cx="351.85" cy="519.15" r="1.4"/><circle cx="355.65" cy="519" r="1.4"/><circle cx="359.45" cy="518.8" r="1.4"/></g>
<path d="M241.5,493.2 L245.31,493.35 L249.11,493.48 L252.91,493.6 L256.72,493.71 L260.52,493.8 L264.33,493.88 L268.13,493.96 L271.94,494.03 L275.75,494.08 L279.55,494.1 L283.36,494.1 L287.16,494.1 L290.97,494.1 L294.77,494.1 L298.57,494.1 L302.38,494.22 L306.19,494.52 L309.99,494.9 L313.8,495.48 L317.6,496.1 L321.4,496.6 L325.21,497.09 L329.01,497.45 L332.82,497.6 L336.62,497.41 L340.43,497 L344.24,496.12 L348.04,495.2 L351.85,494.69 L355.65,494.29 L359.45,494.1" fill="none" stroke="#f7837f" stroke-width="0.6"/>
<g fill="#f7837f"><circle cx="241.5" cy="493.2" r="1.4"/><circle cx="245.31" cy="493.35" r="1.4"/><circle cx="249.11" cy="493.48" r="1.4"/><circle cx="252.91" cy="493.6" r="1.4"/><circle cx="256.72" cy="493.71" r="1.4"/><circle cx="260.52" cy="493.8" r="1.4"/><circle cx="264.33" cy="493.88" r="1.4"/><circle cx="268.13" cy="493.96" r="1.4"/><circle cx="271.94" cy="494.03" r="1.4"/><circle cx="275.75" cy="494.08" r="1.4"/><circle cx="279.55" cy="494.1" r="1.4"/><circle cx="283.36" cy="494.1" r="1.4"/><circle cx="287.16" cy="494.1" r="1.4"/><circle cx="290.97" cy="494.1" r="1.4"/><circle cx="294.77" cy="494.1" r="1.4"/><circle cx="298.57" cy="494.1" r="1.4"/><circle cx="302.38" cy="494.22" r="1.4"/><circle cx="306.19" cy="494.52" r="1.4"/><circle cx="309.99" cy="494.9" r="1.4"/><circle cx="313.8" cy="495.48" r="1.4"/><circle cx="317.6" cy="496.1" r="1.4"/><circle cx="321.4" cy="496.6" r="1.4"/><circle cx="325.21" cy="497.09" r="1.4"/><circle cx="329.01" cy="497.45" r="1.4"/><circle cx="332.82" cy="497.6" r="1.4"/><circle cx="336.62" cy="497.41" r="1.4"/><circle cx="340.43" cy="497" r="1.4"/><circle cx="344.24" cy="496.12" r="1.4"/><circle cx="348.04" cy="495.2" r="1.4"/><circle cx="351.85" cy="494.69" r="1.4"/><circle cx="355.65" cy="494.29" r="1.4"/><circle cx="359.45" cy="494.1" r="1.4"/></g>
<path d="M237.5,526.5 L237.5,442.5" stroke="#777777" stroke-width="1" fill="none"/>
<path d="M237,442.5 L363.5,442.5 L363.5,526.5 L237,526.5" stroke="#777777" stroke-width="1" fill="none"/>
<line x1="234.3" x2="237" y1="526.5" y2="526.5" stroke="#6a6a6a" stroke-width="1"/>
<text transform="translate(233.6,528.83) scale(0.6400,0.6500)" font-size="10" stroke="#222" stroke-width="0.3" text-anchor="end" fill="#222">0.0</text>
<line x1="234.3" x2="237" y1="509.7" y2="509.7" stroke="#6a6a6a" stroke-width="1"/>
<text transform="translate(233.6,512.03) scale(0.6400,0.6500)" font-size="10" stroke="#222" stroke-width="0.3" text-anchor="end" fill="#222">0.1</text>
<line x1="234.3" x2="237" y1="492.9" y2="492.9" stroke="#6a6a6a" stroke-width="1"/>
<text transform="translate(233.6,495.23) scale(0.6400,0.6500)" font-size="10" stroke="#222" stroke-width="0.3" text-anchor="end" fill="#222">0.2</text>
<line x1="234.3" x2="237" y1="476.1" y2="476.1" stroke="#6a6a6a" stroke-width="1"/>
<text transform="translate(233.6,478.43) scale(0.6400,0.6500)" font-size="10" stroke="#222" stroke-width="0.3" text-anchor="end" fill="#222">0.3</text>
<line x1="234.3" x2="237" y1="459.3" y2="459.3" stroke="#6a6a6a" stroke-width="1"/>
<text transform="translate(233.6,461.63) scale(0.6400,0.6500)" font-size="10" stroke="#222" stroke-width="0.3" text-anchor="end" fill="#222">0.4</text>
<line x1="234.3" x2="237" y1="442.5" y2="442.5" stroke="#6a6a6a" stroke-width="1"/>
<text transform="translate(233.6,444.83) scale(0.6400,0.6500)" font-size="10" stroke="#222" stroke-width="0.3" text-anchor="end" fill="#222">0.5</text>
<line x1="241.5" x2="241.5" y1="527" y2="529.7" stroke="#6a6a6a" stroke-width="1"/>
<text transform="translate(241.5,537) scale(0.6400,0.6500)" font-size="10" stroke="#222" stroke-width="0.3" text-anchor="middle" fill="#222">1990</text>
<line x1="279.55" x2="279.55" y1="527" y2="529.7" stroke="#6a6a6a" stroke-width="1"/>
<text transform="translate(279.55,537) scale(0.6400,0.6500)" font-size="10" stroke="#222" stroke-width="0.3" text-anchor="middle" fill="#222">2000</text>
<line x1="317.6" x2="317.6" y1="527" y2="529.7" stroke="#6a6a6a" stroke-width="1"/>
<text transform="translate(317.6,537) scale(0.6400,0.6500)" font-size="10" stroke="#222" stroke-width="0.3" text-anchor="middle" fill="#222">2010</text>
<line x1="355.65" x2="355.65" y1="527" y2="529.7" stroke="#6a6a6a" stroke-width="1"/>
<text transform="translate(355.65,537) scale(0.6400,0.6500)" font-size="10" stroke="#222" stroke-width="0.3" text-anchor="middle" fill="#222">2020</text>
<text transform="translate(300.5,547) scale(0.7000,0.6800)" font-size="10" stroke="#222" stroke-width="0.3" text-anchor="middle" fill="#222">Year</text>
<text transform="translate(300.5,421.6) scale(0.8150,0.8700)" font-size="10" font-weight="bold" stroke="#000" stroke-width="0.2" text-anchor="middle" fill="#000">Maternal sepsis and</text>
<text transform="translate(300.5,431.4) scale(0.8150,0.8700)" font-size="10" font-weight="bold" stroke="#000" stroke-width="0.2" text-anchor="middle" fill="#000">other maternal infections</text>
<text transform="translate(209,432) scale(0.9700,1.0400)" font-size="10" font-weight="bold" stroke="#000" stroke-width="0.2" fill="#000">H</text>
<text transform="translate(219.71,484.5) rotate(-90) scale(0.7100,0.7000)" font-size="10" stroke="#222" stroke-width="0.3" text-anchor="middle" fill="#222">ASYR per 100,000</text>
<rect x="40" y="580" width="125" height="83" fill="#dddddd"/>
<rect x="39" y="580" width="1" height="83" fill="#9c9c9c"/>
<rect x="40" y="580" width="1" height="83" fill="#c0c0c0"/>
<rect x="41" y="580" width="1" height="83" fill="#d4d4d4"/>
<line x1="40" x2="165" y1="635.5" y2="635.5" stroke="#e7e7e7" stroke-width="1"/>
<line x1="40" x2="165" y1="607.5" y2="607.5" stroke="#e7e7e7" stroke-width="1"/>
<line x1="43.5" x2="43.5" y1="580" y2="663" stroke="#e7e7e7" stroke-width="1"/>
<line x1="81.55" x2="81.55" y1="580" y2="663" stroke="#e7e7e7" stroke-width="1"/>
<line x1="119.6" x2="119.6" y1="580" y2="663" stroke="#e7e7e7" stroke-width="1"/>
<line x1="157.65" x2="157.65" y1="580" y2="663" stroke="#e7e7e7" stroke-width="1"/>
<path d="M43.5,609 L47.3,608.36 L51.11,607.95 L54.91,607.8 L58.72,607.88 L62.53,608.1 L66.33,608.92 L70.14,610.1 L73.94,611.07 L77.75,612.03 L81.55,613 L85.36,614 L89.16,615.01 L92.97,616 L96.77,616.96 L100.58,617.9 L104.38,618.85 L108.19,619.79 L111.99,620.6 L115.8,621.26 L119.6,621.8 L123.41,622.25 L127.21,622.6 L131.01,622.87 L134.82,623 L138.62,622.88 L142.43,622.6 L146.24,621.97 L150.04,621.2 L153.84,620.63 L157.65,620.13 L161.45,619.7" fill="none" stroke="#4f4f4f" stroke-width="0.6"/>
<g fill="#4f4f4f"><circle cx="43.5" cy="609" r="1.4"/><circle cx="47.3" cy="608.36" r="1.4"/><circle cx="51.11" cy="607.95" r="1.4"/><circle cx="54.91" cy="607.8" r="1.4"/><circle cx="58.72" cy="607.88" r="1.4"/><circle cx="62.53" cy="608.1" r="1.4"/><circle cx="66.33" cy="608.92" r="1.4"/><circle cx="70.14" cy="610.1" r="1.4"/><circle cx="73.94" cy="611.07" r="1.4"/><circle cx="77.75" cy="612.03" r="1.4"/><circle cx="81.55" cy="613" r="1.4"/><circle cx="85.36" cy="614" r="1.4"/><circle cx="89.16" cy="615.01" r="1.4"/><circle cx="92.97" cy="616" r="1.4"/><circle cx="96.77" cy="616.96" r="1.4"/><circle cx="100.58" cy="617.9" r="1.4"/><circle cx="104.38" cy="618.85" r="1.4"/><circle cx="108.19" cy="619.79" r="1.4"/><circle cx="111.99" cy="620.6" r="1.4"/><circle cx="115.8" cy="621.26" r="1.4"/><circle cx="119.6" cy="621.8" r="1.4"/><circle cx="123.41" cy="622.25" r="1.4"/><circle cx="127.21" cy="622.6" r="1.4"/><circle cx="131.01" cy="622.87" r="1.4"/><circle cx="134.82" cy="623" r="1.4"/><circle cx="138.62" cy="622.88" r="1.4"/><circle cx="142.43" cy="622.6" r="1.4"/><circle cx="146.24" cy="621.97" r="1.4"/><circle cx="150.04" cy="621.2" r="1.4"/><circle cx="153.84" cy="620.63" r="1.4"/><circle cx="157.65" cy="620.13" r="1.4"/><circle cx="161.45" cy="619.7" r="1.4"/></g>
<path d="M43.5,626.9 L47.3,626.39 L51.11,626 L54.91,625.8 L58.72,625.73 L62.53,625.7 L66.33,625.72 L70.14,625.77 L73.94,625.85 L77.75,625.92 L81.55,626 L85.36,626.07 L89.16,626.13 L92.97,626.21 L96.77,626.29 L100.58,626.4 L104.38,626.56 L108.19,626.78 L111.99,627 L115.8,627.24 L119.6,627.4 L123.41,627.45 L127.21,627.49 L131.01,627.5 L134.82,627.4 L138.62,627.2 L142.43,626.95 L146.24,626.64 L150.04,626.3 L153.84,625.96 L157.65,625.59 L161.45,625.2" fill="none" stroke="#8a7a38" stroke-width="0.6"/>
<g fill="#8a7a38"><circle cx="43.5" cy="626.9" r="1.4"/><circle cx="47.3" cy="626.39" r="1.4"/><circle cx="51.11" cy="626" r="1.4"/><circle cx="54.91" cy="625.8" r="1.4"/><circle cx="58.72" cy="625.73" r="1.4"/><circle cx="62.53" cy="625.7" r="1.4"/><circle cx="66.33" cy="625.72" r="1.4"/><circle cx="70.14" cy="625.77" r="1.4"/><circle cx="73.94" cy="625.85" r="1.4"/><circle cx="77.75" cy="625.92" r="1.4"/><circle cx="81.55" cy="626" r="1.4"/><circle cx="85.36" cy="626.07" r="1.4"/><circle cx="89.16" cy="626.13" r="1.4"/><circle cx="92.97" cy="626.21" r="1.4"/><circle cx="96.77" cy="626.29" r="1.4"/><circle cx="100.58" cy="626.4" r="1.4"/><circle cx="104.38" cy="626.56" r="1.4"/><circle cx="108.19" cy="626.78" r="1.4"/><circle cx="111.99" cy="627" r="1.4"/><circle cx="115.8" cy="627.24" r="1.4"/><circle cx="119.6" cy="627.4" r="1.4"/><circle cx="123.41" cy="627.45" r="1.4"/><circle cx="127.21" cy="627.49" r="1.4"/><circle cx="131.01" cy="627.5" r="1.4"/><circle cx="134.82" cy="627.4" r="1.4"/><circle cx="138.62" cy="627.2" r="1.4"/><circle cx="142.43" cy="626.95" r="1.4"/><circle cx="146.24" cy="626.64" r="1.4"/><circle cx="150.04" cy="626.3" r="1.4"/><circle cx="153.84" cy="625.96" r="1.4"/><circle cx="157.65" cy="625.59" r="1.4"/><circle cx="161.45" cy="625.2" r="1.4"/></g>
<path d="M43.5,640.4 L47.3,639.89 L51.11,639.39 L54.91,638.91 L58.72,638.45 L62.53,638 L66.33,637.58 L70.14,637.18 L73.94,636.79 L77.75,636.4 L81.55,636 L85.36,635.58 L89.16,635.15 L92.97,634.71 L96.77,634.29 L100.58,633.9 L104.38,633.53 L108.19,633.18 L111.99,632.84 L115.8,632.51 L119.6,632.2 L123.41,631.91 L127.21,631.63 L131.01,631.36 L134.82,631.09 L138.62,630.8 L142.43,630.5 L146.24,630.19 L150.04,629.88 L153.84,629.56 L157.65,629.23 L161.45,628.9" fill="none" stroke="#ee4dea" stroke-width="0.6"/>
<g fill="#ee4dea"><circle cx="43.5" cy="640.4" r="1.4"/><circle cx="47.3" cy="639.89" r="1.4"/><circle cx="51.11" cy="639.39" r="1.4"/><circle cx="54.91" cy="638.91" r="1.4"/><circle cx="58.72" cy="638.45" r="1.4"/><circle cx="62.53" cy="638" r="1.4"/><circle cx="66.33" cy="637.58" r="1.4"/><circle cx="70.14" cy="637.18" r="1.4"/><circle cx="73.94" cy="636.79" r="1.4"/><circle cx="77.75" cy="636.4" r="1.4"/><circle cx="81.55" cy="636" r="1.4"/><circle cx="85.36" cy="635.58" r="1.4"/><circle cx="89.16" cy="635.15" r="1.4"/><circle cx="92.97" cy="634.71" r="1.4"/><circle cx="96.77" cy="634.29" r="1.4"/><circle cx="100.58" cy="633.9" r="1.4"/><circle cx="104.38" cy="633.53" r="1.4"/><circle cx="108.19" cy="633.18" r="1.4"/><circle cx="111.99" cy="632.84" r="1.4"/><circle cx="115.8" cy="632.51" r="1.4"/><circle cx="119.6" cy="632.2" r="1.4"/><circle cx="123.41" cy="631.91" r="1.4"/><circle cx="127.21" cy="631.63" r="1.4"/><circle cx="131.01" cy="631.36" r="1.4"/><circle cx="134.82" cy="631.09" r="1.4"/><circle cx="138.62" cy="630.8" r="1.4"/><circle cx="142.43" cy="630.5" r="1.4"/><circle cx="146.24" cy="630.19" r="1.4"/><circle cx="150.04" cy="629.88" r="1.4"/><circle cx="153.84" cy="629.56" r="1.4"/><circle cx="157.65" cy="629.23" r="1.4"/><circle cx="161.45" cy="628.9" r="1.4"/></g>
<path d="M43.5,638.3 L47.3,638.03 L51.11,637.77 L54.91,637.51 L58.72,637.25 L62.53,637 L66.33,636.75 L70.14,636.51 L73.94,636.28 L77.75,636.04 L81.55,635.8 L85.36,635.57 L89.16,635.34 L92.97,635.1 L96.77,634.86 L100.58,634.6 L104.38,634.3 L108.19,633.97 L111.99,633.63 L115.8,633.3 L119.6,633 L123.41,632.74 L127.21,632.49 L131.01,632.25 L134.82,632.03 L138.62,631.8 L142.43,631.57 L146.24,631.35 L150.04,631.13 L153.84,630.92 L157.65,630.71 L161.45,630.5" fill="none" stroke="#12bb12" stroke-width="0.6"/>
<g fill="#12bb12"><circle cx="43.5" cy="638.3" r="1.4"/><circle cx="47.3" cy="638.03" r="1.4"/><circle cx="51.11" cy="637.77" r="1.4"/><circle cx="54.91" cy="637.51" r="1.4"/><circle cx="58.72" cy="637.25" r="1.4"/><circle cx="62.53" cy="637" r="1.4"/><circle cx="66.33" cy="636.75" r="1.4"/><circle cx="70.14" cy="636.51" r="1.4"/><circle cx="73.94" cy="636.28" r="1.4"/><circle cx="77.75" cy="636.04" r="1.4"/><circle cx="81.55" cy="635.8" r="1.4"/><circle cx="85.36" cy="635.57" r="1.4"/><circle cx="89.16" cy="635.34" r="1.4"/><circle cx="92.97" cy="635.1" r="1.4"/><circle cx="96.77" cy="634.86" r="1.4"/><circle cx="100.58" cy="634.6" r="1.4"/><circle cx="104.38" cy="634.3" r="1.4"/><circle cx="108.19" cy="633.97" r="1.4"/><circle cx="111.99" cy="633.63" r="1.4"/><circle cx="115.8" cy="633.3" r="1.4"/><circle cx="119.6" cy="633" r="1.4"/><circle cx="123.41" cy="632.74" r="1.4"/><circle cx="127.21" cy="632.49" r="1.4"/><circle cx="131.01" cy="632.25" r="1.4"/><circle cx="134.82" cy="632.03" r="1.4"/><circle cx="138.62" cy="631.8" r="1.4"/><circle cx="142.43" cy="631.57" r="1.4"/><circle cx="146.24" cy="631.35" r="1.4"/><circle cx="150.04" cy="631.13" r="1.4"/><circle cx="153.84" cy="630.92" r="1.4"/><circle cx="157.65" cy="630.71" r="1.4"/><circle cx="161.45" cy="630.5" r="1.4"/></g>
<path d="M43.5,633.1 L47.3,631.34 L51.11,629.8 L54.91,628.36 L58.72,627.3 L62.53,626.8 L66.33,626.65 L70.14,626.6 L73.94,626.67 L77.75,626.83 L81.55,627 L85.36,627.19 L89.16,627.43 L92.97,627.66 L96.77,627.83 L100.58,627.9 L104.38,627.9 L108.19,627.88 L111.99,627.86 L115.8,627.83 L119.6,627.8 L123.41,627.68 L127.21,627.43 L131.01,627.13 L134.82,626.83 L138.62,626.6 L142.43,626.45 L146.24,626.33 L150.04,626.2 L153.84,626.05 L157.65,625.88 L161.45,625.7" fill="none" stroke="#4a4af2" stroke-width="0.6"/>
<g fill="#4a4af2"><circle cx="43.5" cy="633.1" r="1.4"/><circle cx="47.3" cy="631.34" r="1.4"/><circle cx="51.11" cy="629.8" r="1.4"/><circle cx="54.91" cy="628.36" r="1.4"/><circle cx="58.72" cy="627.3" r="1.4"/><circle cx="62.53" cy="626.8" r="1.4"/><circle cx="66.33" cy="626.65" r="1.4"/><circle cx="70.14" cy="626.6" r="1.4"/><circle cx="73.94" cy="626.67" r="1.4"/><circle cx="77.75" cy="626.83" r="1.4"/><circle cx="81.55" cy="627" r="1.4"/><circle cx="85.36" cy="627.19" r="1.4"/><circle cx="89.16" cy="627.43" r="1.4"/><circle cx="92.97" cy="627.66" r="1.4"/><circle cx="96.77" cy="627.83" r="1.4"/><circle cx="100.58" cy="627.9" r="1.4"/><circle cx="104.38" cy="627.9" r="1.4"/><circle cx="108.19" cy="627.88" r="1.4"/><circle cx="111.99" cy="627.86" r="1.4"/><circle cx="115.8" cy="627.83" r="1.4"/><circle cx="119.6" cy="627.8" r="1.4"/><circle cx="123.41" cy="627.68" r="1.4"/><circle cx="127.21" cy="627.43" r="1.4"/><circle cx="131.01" cy="627.13" r="1.4"/><circle cx="134.82" cy="626.83" r="1.4"/><circle cx="138.62" cy="626.6" r="1.4"/><circle cx="142.43" cy="626.45" r="1.4"/><circle cx="146.24" cy="626.33" r="1.4"/><circle cx="150.04" cy="626.2" r="1.4"/><circle cx="153.84" cy="626.05" r="1.4"/><circle cx="157.65" cy="625.88" r="1.4"/><circle cx="161.45" cy="625.7" r="1.4"/></g>
<path d="M43.5,632.9 L47.3,632.32 L51.11,631.82 L54.91,631.4 L58.72,631.05 L62.53,630.8 L66.33,630.66 L70.14,630.55 L73.94,630.46 L77.75,630.38 L81.55,630.3 L85.36,630.21 L89.16,630.13 L92.97,630.06 L96.77,629.98 L100.58,629.9 L104.38,629.83 L108.19,629.76 L111.99,629.68 L115.8,629.6 L119.6,629.5 L123.41,629.36 L127.21,629.18 L131.01,628.96 L134.82,628.73 L138.62,628.5 L142.43,628.25 L146.24,627.97 L150.04,627.7 L153.84,627.43 L157.65,627.17 L161.45,626.9" fill="none" stroke="#f7837f" stroke-width="0.6"/>
<g fill="#f7837f"><circle cx="43.5" cy="632.9" r="1.4"/><circle cx="47.3" cy="632.32" r="1.4"/><circle cx="51.11" cy="631.82" r="1.4"/><circle cx="54.91" cy="631.4" r="1.4"/><circle cx="58.72" cy="631.05" r="1.4"/><circle cx="62.53" cy="630.8" r="1.4"/><circle cx="66.33" cy="630.66" r="1.4"/><circle cx="70.14" cy="630.55" r="1.4"/><circle cx="73.94" cy="630.46" r="1.4"/><circle cx="77.75" cy="630.38" r="1.4"/><circle cx="81.55" cy="630.3" r="1.4"/><circle cx="85.36" cy="630.21" r="1.4"/><circle cx="89.16" cy="630.13" r="1.4"/><circle cx="92.97" cy="630.06" r="1.4"/><circle cx="96.77" cy="629.98" r="1.4"/><circle cx="100.58" cy="629.9" r="1.4"/><circle cx="104.38" cy="629.83" r="1.4"/><circle cx="108.19" cy="629.76" r="1.4"/><circle cx="111.99" cy="629.68" r="1.4"/><circle cx="115.8" cy="629.6" r="1.4"/><circle cx="119.6" cy="629.5" r="1.4"/><circle cx="123.41" cy="629.36" r="1.4"/><circle cx="127.21" cy="629.18" r="1.4"/><circle cx="131.01" cy="628.96" r="1.4"/><circle cx="134.82" cy="628.73" r="1.4"/><circle cx="138.62" cy="628.5" r="1.4"/><circle cx="142.43" cy="628.25" r="1.4"/><circle cx="146.24" cy="627.97" r="1.4"/><circle cx="150.04" cy="627.7" r="1.4"/><circle cx="153.84" cy="627.43" r="1.4"/><circle cx="157.65" cy="627.17" r="1.4"/><circle cx="161.45" cy="626.9" r="1.4"/></g>
<path d="M39.5,663.5 L39.5,579.5" stroke="#9c9c9c" stroke-width="1" fill="none"/>
<path d="M39,579.5 L165.5,579.5 L165.5,663.5 L39,663.5" stroke="#777777" stroke-width="1" fill="none"/>
<line x1="36.3" x2="39" y1="663.5" y2="663.5" stroke="#6a6a6a" stroke-width="1"/>
<text transform="translate(36,665.83) scale(0.6400,0.6500)" font-size="10" stroke="#222" stroke-width="0.3" text-anchor="end" fill="#222">0</text>
<line x1="36.3" x2="39" y1="635.5" y2="635.5" stroke="#6a6a6a" stroke-width="1"/>
<text transform="translate(36,637.83) scale(0.6400,0.6500)" font-size="10" stroke="#222" stroke-width="0.3" text-anchor="end" fill="#222">500</text>
<line x1="36.3" x2="39" y1="607.5" y2="607.5" stroke="#6a6a6a" stroke-width="1"/>
<text transform="translate(36,609.83) scale(0.6400,0.6500)" font-size="10" stroke="#222" stroke-width="0.3" text-anchor="end" fill="#222">1,000</text>
<line x1="36.3" x2="39" y1="579.5" y2="579.5" stroke="#6a6a6a" stroke-width="1"/>
<text transform="translate(36,581.83) scale(0.6400,0.6500)" font-size="10" stroke="#222" stroke-width="0.3" text-anchor="end" fill="#222">1,500</text>
<line x1="43.5" x2="43.5" y1="664" y2="666.7" stroke="#6a6a6a" stroke-width="1"/>
<text transform="translate(43.5,674) scale(0.6400,0.6500)" font-size="10" stroke="#222" stroke-width="0.3" text-anchor="middle" fill="#222">1990</text>
<line x1="81.55" x2="81.55" y1="664" y2="666.7" stroke="#6a6a6a" stroke-width="1"/>
<text transform="translate(81.55,674) scale(0.6400,0.6500)" font-size="10" stroke="#222" stroke-width="0.3" text-anchor="middle" fill="#222">2000</text>
<line x1="119.6" x2="119.6" y1="664" y2="666.7" stroke="#6a6a6a" stroke-width="1"/>
<text transform="translate(119.6,674) scale(0.6400,0.6500)" font-size="10" stroke="#222" stroke-width="0.3" text-anchor="middle" fill="#222">2010</text>
<line x1="157.65" x2="157.65" y1="664" y2="666.7" stroke="#6a6a6a" stroke-width="1"/>
<text transform="translate(157.65,674) scale(0.6400,0.6500)" font-size="10" stroke="#222" stroke-width="0.3" text-anchor="middle" fill="#222">2020</text>
<text transform="translate(102.5,684) scale(0.7000,0.6800)" font-size="10" stroke="#222" stroke-width="0.3" text-anchor="middle" fill="#222">Year</text>
<text transform="translate(102.5,569.2) scale(0.8150,0.8700)" font-size="10" font-weight="bold" stroke="#000" stroke-width="0.2" text-anchor="middle" fill="#000">Other sexually transmitted infections</text>
<text transform="translate(5.2,571) scale(0.9700,1.0400)" font-size="10" font-weight="bold" stroke="#000" stroke-width="0.2" fill="#000">I</text>
<text transform="translate(15.41,621.5) rotate(-90) scale(0.7100,0.7000)" font-size="10" stroke="#222" stroke-width="0.3" text-anchor="middle" fill="#222">ASPR per 100,000</text>
<rect x="238" y="580" width="125" height="83" fill="#dddddd"/>
<rect x="238" y="580" width="1" height="83" fill="#d6d6d6"/>
<rect x="239" y="580" width="1" height="83" fill="#dfdfdf"/>
<rect x="240" y="580" width="1" height="83" fill="#dfdfdf"/>
<line x1="238" x2="363" y1="635.5" y2="635.5" stroke="#e7e7e7" stroke-width="1"/>
<line x1="238" x2="363" y1="607.5" y2="607.5" stroke="#e7e7e7" stroke-width="1"/>
<line x1="241.5" x2="241.5" y1="580" y2="663" stroke="#e7e7e7" stroke-width="1"/>
<line x1="279.55" x2="279.55" y1="580" y2="663" stroke="#e7e7e7" stroke-width="1"/>
<line x1="317.6" x2="317.6" y1="580" y2="663" stroke="#e7e7e7" stroke-width="1"/>
<line x1="355.65" x2="355.65" y1="580" y2="663" stroke="#e7e7e7" stroke-width="1"/>
<path d="M241.5,588 L245.31,587.12 L249.11,586.52 L252.91,586.3 L256.72,586.38 L260.52,586.6 L264.33,587.38 L268.13,588.6 L271.94,589.87 L275.75,591.28 L279.55,592.7 L283.36,594.09 L287.16,595.49 L290.97,596.8 L294.77,597.96 L298.57,599.1 L302.38,600.35 L306.19,601.65 L309.99,602.9 L313.8,604.2 L317.6,605.2 L321.4,605.72 L325.21,606.09 L329.01,606.4 L332.82,606.73 L336.62,606.9 L340.43,606.6 L344.24,605.91 L348.04,605.2 L351.85,604.57 L355.65,603.9 L359.45,603.2" fill="none" stroke="#4f4f4f" stroke-width="0.6"/>
<g fill="#4f4f4f"><circle cx="241.5" cy="588" r="1.4"/><circle cx="245.31" cy="587.12" r="1.4"/><circle cx="249.11" cy="586.52" r="1.4"/><circle cx="252.91" cy="586.3" r="1.4"/><circle cx="256.72" cy="586.38" r="1.4"/><circle cx="260.52" cy="586.6" r="1.4"/><circle cx="264.33" cy="587.38" r="1.4"/><circle cx="268.13" cy="588.6" r="1.4"/><circle cx="271.94" cy="589.87" r="1.4"/><circle cx="275.75" cy="591.28" r="1.4"/><circle cx="279.55" cy="592.7" r="1.4"/><circle cx="283.36" cy="594.09" r="1.4"/><circle cx="287.16" cy="595.49" r="1.4"/><circle cx="290.97" cy="596.8" r="1.4"/><circle cx="294.77" cy="597.96" r="1.4"/><circle cx="298.57" cy="599.1" r="1.4"/><circle cx="302.38" cy="600.35" r="1.4"/><circle cx="306.19" cy="601.65" r="1.4"/><circle cx="309.99" cy="602.9" r="1.4"/><circle cx="313.8" cy="604.2" r="1.4"/><circle cx="317.6" cy="605.2" r="1.4"/><circle cx="321.4" cy="605.72" r="1.4"/><circle cx="325.21" cy="606.09" r="1.4"/><circle cx="329.01" cy="606.4" r="1.4"/><circle cx="332.82" cy="606.73" r="1.4"/><circle cx="336.62" cy="606.9" r="1.4"/><circle cx="340.43" cy="606.6" r="1.4"/><circle cx="344.24" cy="605.91" r="1.4"/><circle cx="348.04" cy="605.2" r="1.4"/><circle cx="351.85" cy="604.57" r="1.4"/><circle cx="355.65" cy="603.9" r="1.4"/><circle cx="359.45" cy="603.2" r="1.4"/></g>
<path d="M241.5,611.9 L245.31,611.16 L249.11,610.61 L252.91,610.4 L256.72,610.4 L260.52,610.4 L264.33,610.44 L268.13,610.55 L271.94,610.7 L275.75,610.86 L279.55,611 L283.36,611.11 L287.16,611.2 L290.97,611.31 L294.77,611.43 L298.57,611.6 L302.38,611.93 L306.19,612.4 L309.99,612.8 L313.8,613.13 L317.6,613.3 L321.4,613.3 L325.21,613.3 L329.01,613.3 L332.82,613.01 L336.62,612.5 L340.43,612.02 L344.24,611.51 L348.04,611 L351.85,610.52 L355.65,610.06 L359.45,609.6" fill="none" stroke="#8a7a38" stroke-width="0.6"/>
<g fill="#8a7a38"><circle cx="241.5" cy="611.9" r="1.4"/><circle cx="245.31" cy="611.16" r="1.4"/><circle cx="249.11" cy="610.61" r="1.4"/><circle cx="252.91" cy="610.4" r="1.4"/><circle cx="256.72" cy="610.4" r="1.4"/><circle cx="260.52" cy="610.4" r="1.4"/><circle cx="264.33" cy="610.44" r="1.4"/><circle cx="268.13" cy="610.55" r="1.4"/><circle cx="271.94" cy="610.7" r="1.4"/><circle cx="275.75" cy="610.86" r="1.4"/><circle cx="279.55" cy="611" r="1.4"/><circle cx="283.36" cy="611.11" r="1.4"/><circle cx="287.16" cy="611.2" r="1.4"/><circle cx="290.97" cy="611.31" r="1.4"/><circle cx="294.77" cy="611.43" r="1.4"/><circle cx="298.57" cy="611.6" r="1.4"/><circle cx="302.38" cy="611.93" r="1.4"/><circle cx="306.19" cy="612.4" r="1.4"/><circle cx="309.99" cy="612.8" r="1.4"/><circle cx="313.8" cy="613.13" r="1.4"/><circle cx="317.6" cy="613.3" r="1.4"/><circle cx="321.4" cy="613.3" r="1.4"/><circle cx="325.21" cy="613.3" r="1.4"/><circle cx="329.01" cy="613.3" r="1.4"/><circle cx="332.82" cy="613.01" r="1.4"/><circle cx="336.62" cy="612.5" r="1.4"/><circle cx="340.43" cy="612.02" r="1.4"/><circle cx="344.24" cy="611.51" r="1.4"/><circle cx="348.04" cy="611" r="1.4"/><circle cx="351.85" cy="610.52" r="1.4"/><circle cx="355.65" cy="610.06" r="1.4"/><circle cx="359.45" cy="609.6" r="1.4"/></g>
<path d="M241.5,631.1 L245.31,630.38 L249.11,629.66 L252.91,628.96 L256.72,628.28 L260.52,627.6 L264.33,626.9 L268.13,626.19 L271.94,625.5 L275.75,624.89 L279.55,624.4 L283.36,624.04 L287.16,623.75 L290.97,623.49 L294.77,623.22 L298.57,622.9 L302.38,622.48 L306.19,621.98 L309.99,621.46 L313.8,620.98 L317.6,620.6 L321.4,620.31 L325.21,620.07 L329.01,619.86 L332.82,619.64 L336.62,619.4 L340.43,619.14 L344.24,618.87 L348.04,618.59 L351.85,618.3 L355.65,618 L359.45,617.7" fill="none" stroke="#ee4dea" stroke-width="0.6"/>
<g fill="#ee4dea"><circle cx="241.5" cy="631.1" r="1.4"/><circle cx="245.31" cy="630.38" r="1.4"/><circle cx="249.11" cy="629.66" r="1.4"/><circle cx="252.91" cy="628.96" r="1.4"/><circle cx="256.72" cy="628.28" r="1.4"/><circle cx="260.52" cy="627.6" r="1.4"/><circle cx="264.33" cy="626.9" r="1.4"/><circle cx="268.13" cy="626.19" r="1.4"/><circle cx="271.94" cy="625.5" r="1.4"/><circle cx="275.75" cy="624.89" r="1.4"/><circle cx="279.55" cy="624.4" r="1.4"/><circle cx="283.36" cy="624.04" r="1.4"/><circle cx="287.16" cy="623.75" r="1.4"/><circle cx="290.97" cy="623.49" r="1.4"/><circle cx="294.77" cy="623.22" r="1.4"/><circle cx="298.57" cy="622.9" r="1.4"/><circle cx="302.38" cy="622.48" r="1.4"/><circle cx="306.19" cy="621.98" r="1.4"/><circle cx="309.99" cy="621.46" r="1.4"/><circle cx="313.8" cy="620.98" r="1.4"/><circle cx="317.6" cy="620.6" r="1.4"/><circle cx="321.4" cy="620.31" r="1.4"/><circle cx="325.21" cy="620.07" r="1.4"/><circle cx="329.01" cy="619.86" r="1.4"/><circle cx="332.82" cy="619.64" r="1.4"/><circle cx="336.62" cy="619.4" r="1.4"/><circle cx="340.43" cy="619.14" r="1.4"/><circle cx="344.24" cy="618.87" r="1.4"/><circle cx="348.04" cy="618.59" r="1.4"/><circle cx="351.85" cy="618.3" r="1.4"/><circle cx="355.65" cy="618" r="1.4"/><circle cx="359.45" cy="617.7" r="1.4"/></g>
<path d="M241.5,628.7 L245.31,628.02 L249.11,627.38 L252.91,626.79 L256.72,626.26 L260.52,625.8 L264.33,625.37 L268.13,624.94 L271.94,624.57 L275.75,624.27 L279.55,624.1 L283.36,624.02 L287.16,623.97 L290.97,623.93 L294.77,623.88 L298.57,623.8 L302.38,623.55 L306.19,623.09 L309.99,622.52 L313.8,621.95 L317.6,621.5 L321.4,621.15 L325.21,620.82 L329.01,620.52 L332.82,620.24 L336.62,620 L340.43,619.78 L344.24,619.56 L348.04,619.37 L351.85,619.19 L355.65,619.03 L359.45,618.9" fill="none" stroke="#12bb12" stroke-width="0.6"/>
<g fill="#12bb12"><circle cx="241.5" cy="628.7" r="1.4"/><circle cx="245.31" cy="628.02" r="1.4"/><circle cx="249.11" cy="627.38" r="1.4"/><circle cx="252.91" cy="626.79" r="1.4"/><circle cx="256.72" cy="626.26" r="1.4"/><circle cx="260.52" cy="625.8" r="1.4"/><circle cx="264.33" cy="625.37" r="1.4"/><circle cx="268.13" cy="624.94" r="1.4"/><circle cx="271.94" cy="624.57" r="1.4"/><circle cx="275.75" cy="624.27" r="1.4"/><circle cx="279.55" cy="624.1" r="1.4"/><circle cx="283.36" cy="624.02" r="1.4"/><circle cx="287.16" cy="623.97" r="1.4"/><circle cx="290.97" cy="623.93" r="1.4"/><circle cx="294.77" cy="623.88" r="1.4"/><circle cx="298.57" cy="623.8" r="1.4"/><circle cx="302.38" cy="623.55" r="1.4"/><circle cx="306.19" cy="623.09" r="1.4"/><circle cx="309.99" cy="622.52" r="1.4"/><circle cx="313.8" cy="621.95" r="1.4"/><circle cx="317.6" cy="621.5" r="1.4"/><circle cx="321.4" cy="621.15" r="1.4"/><circle cx="325.21" cy="620.82" r="1.4"/><circle cx="329.01" cy="620.52" r="1.4"/><circle cx="332.82" cy="620.24" r="1.4"/><circle cx="336.62" cy="620" r="1.4"/><circle cx="340.43" cy="619.78" r="1.4"/><circle cx="344.24" cy="619.56" r="1.4"/><circle cx="348.04" cy="619.37" r="1.4"/><circle cx="351.85" cy="619.19" r="1.4"/><circle cx="355.65" cy="619.03" r="1.4"/><circle cx="359.45" cy="618.9" r="1.4"/></g>
<path d="M241.5,619.4 L245.31,616.29 L249.11,613.9 L252.91,612.01 L256.72,610.45 L260.52,609.8 L264.33,609.8 L268.13,609.8 L271.94,610.1 L275.75,610.73 L279.55,611.3 L283.36,611.71 L287.16,612.11 L290.97,612.47 L294.77,612.78 L298.57,613 L302.38,613.18 L306.19,613.34 L309.99,613.47 L313.8,613.57 L317.6,613.6 L321.4,613.46 L325.21,613.12 L329.01,612.68 L332.82,612.23 L336.62,611.9 L340.43,611.68 L344.24,611.49 L348.04,611.3 L351.85,611.1 L355.65,610.9 L359.45,610.7" fill="none" stroke="#4a4af2" stroke-width="0.6"/>
<g fill="#4a4af2"><circle cx="241.5" cy="619.4" r="1.4"/><circle cx="245.31" cy="616.29" r="1.4"/><circle cx="249.11" cy="613.9" r="1.4"/><circle cx="252.91" cy="612.01" r="1.4"/><circle cx="256.72" cy="610.45" r="1.4"/><circle cx="260.52" cy="609.8" r="1.4"/><circle cx="264.33" cy="609.8" r="1.4"/><circle cx="268.13" cy="609.8" r="1.4"/><circle cx="271.94" cy="610.1" r="1.4"/><circle cx="275.75" cy="610.73" r="1.4"/><circle cx="279.55" cy="611.3" r="1.4"/><circle cx="283.36" cy="611.71" r="1.4"/><circle cx="287.16" cy="612.11" r="1.4"/><circle cx="290.97" cy="612.47" r="1.4"/><circle cx="294.77" cy="612.78" r="1.4"/><circle cx="298.57" cy="613" r="1.4"/><circle cx="302.38" cy="613.18" r="1.4"/><circle cx="306.19" cy="613.34" r="1.4"/><circle cx="309.99" cy="613.47" r="1.4"/><circle cx="313.8" cy="613.57" r="1.4"/><circle cx="317.6" cy="613.6" r="1.4"/><circle cx="321.4" cy="613.46" r="1.4"/><circle cx="325.21" cy="613.12" r="1.4"/><circle cx="329.01" cy="612.68" r="1.4"/><circle cx="332.82" cy="612.23" r="1.4"/><circle cx="336.62" cy="611.9" r="1.4"/><circle cx="340.43" cy="611.68" r="1.4"/><circle cx="344.24" cy="611.49" r="1.4"/><circle cx="348.04" cy="611.3" r="1.4"/><circle cx="351.85" cy="611.1" r="1.4"/><circle cx="355.65" cy="610.9" r="1.4"/><circle cx="359.45" cy="610.7" r="1.4"/></g>
<path d="M241.5,621.2 L245.31,619.94 L249.11,618.87 L252.91,618 L256.72,617.27 L260.52,616.8 L264.33,616.61 L268.13,616.46 L271.94,616.35 L275.75,616.27 L279.55,616.2 L283.36,616.15 L287.16,616.11 L290.97,616.08 L294.77,616.04 L298.57,616 L302.38,615.95 L306.19,615.9 L309.99,615.85 L313.8,615.78 L317.6,615.7 L321.4,615.59 L325.21,615.43 L329.01,615.24 L332.82,615.03 L336.62,614.8 L340.43,614.53 L344.24,614.22 L348.04,613.9 L351.85,613.6 L355.65,613.3 L359.45,613" fill="none" stroke="#f7837f" stroke-width="0.6"/>
<g fill="#f7837f"><circle cx="241.5" cy="621.2" r="1.4"/><circle cx="245.31" cy="619.94" r="1.4"/><circle cx="249.11" cy="618.87" r="1.4"/><circle cx="252.91" cy="618" r="1.4"/><circle cx="256.72" cy="617.27" r="1.4"/><circle cx="260.52" cy="616.8" r="1.4"/><circle cx="264.33" cy="616.61" r="1.4"/><circle cx="268.13" cy="616.46" r="1.4"/><circle cx="271.94" cy="616.35" r="1.4"/><circle cx="275.75" cy="616.27" r="1.4"/><circle cx="279.55" cy="616.2" r="1.4"/><circle cx="283.36" cy="616.15" r="1.4"/><circle cx="287.16" cy="616.11" r="1.4"/><circle cx="290.97" cy="616.08" r="1.4"/><circle cx="294.77" cy="616.04" r="1.4"/><circle cx="298.57" cy="616" r="1.4"/><circle cx="302.38" cy="615.95" r="1.4"/><circle cx="306.19" cy="615.9" r="1.4"/><circle cx="309.99" cy="615.85" r="1.4"/><circle cx="313.8" cy="615.78" r="1.4"/><circle cx="317.6" cy="615.7" r="1.4"/><circle cx="321.4" cy="615.59" r="1.4"/><circle cx="325.21" cy="615.43" r="1.4"/><circle cx="329.01" cy="615.24" r="1.4"/><circle cx="332.82" cy="615.03" r="1.4"/><circle cx="336.62" cy="614.8" r="1.4"/><circle cx="340.43" cy="614.53" r="1.4"/><circle cx="344.24" cy="614.22" r="1.4"/><circle cx="348.04" cy="613.9" r="1.4"/><circle cx="351.85" cy="613.6" r="1.4"/><circle cx="355.65" cy="613.3" r="1.4"/><circle cx="359.45" cy="613" r="1.4"/></g>
<path d="M237.5,663.5 L237.5,579.5" stroke="#777777" stroke-width="1" fill="none"/>
<path d="M237,579.5 L363.5,579.5 L363.5,663.5 L237,663.5" stroke="#777777" stroke-width="1" fill="none"/>
<line x1="234.3" x2="237" y1="663.5" y2="663.5" stroke="#6a6a6a" stroke-width="1"/>
<text transform="translate(233.6,665.83) scale(0.6400,0.6500)" font-size="10" stroke="#222" stroke-width="0.3" text-anchor="end" fill="#222">0</text>
<line x1="234.3" x2="237" y1="635.5" y2="635.5" stroke="#6a6a6a" stroke-width="1"/>
<text transform="translate(233.6,637.83) scale(0.6400,0.6500)" font-size="10" stroke="#222" stroke-width="0.3" text-anchor="end" fill="#222">2</text>
<line x1="234.3" x2="237" y1="607.5" y2="607.5" stroke="#6a6a6a" stroke-width="1"/>
<text transform="translate(233.6,609.83) scale(0.6400,0.6500)" font-size="10" stroke="#222" stroke-width="0.3" text-anchor="end" fill="#222">4</text>
<line x1="234.3" x2="237" y1="579.5" y2="579.5" stroke="#6a6a6a" stroke-width="1"/>
<text transform="translate(233.6,581.83) scale(0.6400,0.6500)" font-size="10" stroke="#222" stroke-width="0.3" text-anchor="end" fill="#222">6</text>
<line x1="241.5" x2="241.5" y1="664" y2="666.7" stroke="#6a6a6a" stroke-width="1"/>
<text transform="translate(241.5,674) scale(0.6400,0.6500)" font-size="10" stroke="#222" stroke-width="0.3" text-anchor="middle" fill="#222">1990</text>
<line x1="279.55" x2="279.55" y1="664" y2="666.7" stroke="#6a6a6a" stroke-width="1"/>
<text transform="translate(279.55,674) scale(0.6400,0.6500)" font-size="10" stroke="#222" stroke-width="0.3" text-anchor="middle" fill="#222">2000</text>
<line x1="317.6" x2="317.6" y1="664" y2="666.7" stroke="#6a6a6a" stroke-width="1"/>
<text transform="translate(317.6,674) scale(0.6400,0.6500)" font-size="10" stroke="#222" stroke-width="0.3" text-anchor="middle" fill="#222">2010</text>
<line x1="355.65" x2="355.65" y1="664" y2="666.7" stroke="#6a6a6a" stroke-width="1"/>
<text transform="translate(355.65,674) scale(0.6400,0.6500)" font-size="10" stroke="#222" stroke-width="0.3" text-anchor="middle" fill="#222">2020</text>
<text transform="translate(300.5,684) scale(0.7000,0.6800)" font-size="10" stroke="#222" stroke-width="0.3" text-anchor="middle" fill="#222">Year</text>
<text transform="translate(300.5,569.2) scale(0.8150,0.8700)" font-size="10" font-weight="bold" stroke="#000" stroke-width="0.2" text-anchor="middle" fill="#000">Other sexually transmitted infections</text>
<text transform="translate(209.2,570.4) scale(0.9700,1.0400)" font-size="10" font-weight="bold" stroke="#000" stroke-width="0.2" fill="#000">J</text>
<text transform="translate(226.31,621.5) rotate(-90) scale(0.7100,0.7000)" font-size="10" stroke="#222" stroke-width="0.3" text-anchor="middle" fill="#222">ASYR per 100,000</text>
<line x1="382.5" x2="392" y1="21.8" y2="21.8" stroke="#f7837f" stroke-width="0.7" opacity="0.8"/>
<circle cx="387.2" cy="21.8" r="1.2" fill="#f7837f"/>
<text transform="translate(397.2,24.2) scale(0.6900,0.7500)" font-size="10" stroke="#222" stroke-width="0.3" fill="#222">Global</text>
<line x1="382.5" x2="392" y1="33.15" y2="33.15" stroke="#4a4af2" stroke-width="0.7" opacity="0.8"/>
<circle cx="387.2" cy="33.15" r="1.2" fill="#4a4af2"/>
<text transform="translate(397.2,35.55) scale(0.6900,0.7500)" font-size="10" stroke="#222" stroke-width="0.3" fill="#222">High SDI</text>
<line x1="382.5" x2="392" y1="44.5" y2="44.5" stroke="#12bb12" stroke-width="0.7" opacity="0.8"/>
<circle cx="387.2" cy="44.5" r="1.2" fill="#12bb12"/>
<text transform="translate(397.2,46.9) scale(0.6900,0.7500)" font-size="10" stroke="#222" stroke-width="0.3" fill="#222">High-middle SDI</text>
<line x1="382.5" x2="392" y1="55.85" y2="55.85" stroke="#ee4dea" stroke-width="0.7" opacity="0.8"/>
<circle cx="387.2" cy="55.85" r="1.2" fill="#ee4dea"/>
<text transform="translate(397.2,58.25) scale(0.6900,0.7500)" font-size="10" stroke="#222" stroke-width="0.3" fill="#222">Middle SDI</text>
<line x1="382.5" x2="392" y1="67.2" y2="67.2" stroke="#8a7a38" stroke-width="0.7" opacity="0.8"/>
<circle cx="387.2" cy="67.2" r="1.2" fill="#8a7a38"/>
<text transform="translate(397.2,69.6) scale(0.6900,0.7500)" font-size="10" stroke="#222" stroke-width="0.3" fill="#222">Low-middle SDI</text>
<line x1="382.5" x2="392" y1="78.55" y2="78.55" stroke="#4f4f4f" stroke-width="0.7" opacity="0.8"/>
<circle cx="387.2" cy="78.55" r="1.2" fill="#4f4f4f"/>
<text transform="translate(397.2,80.95) scale(0.6900,0.7500)" font-size="10" stroke="#222" stroke-width="0.3" fill="#222">Low SDI</text>
</svg></body></html>
